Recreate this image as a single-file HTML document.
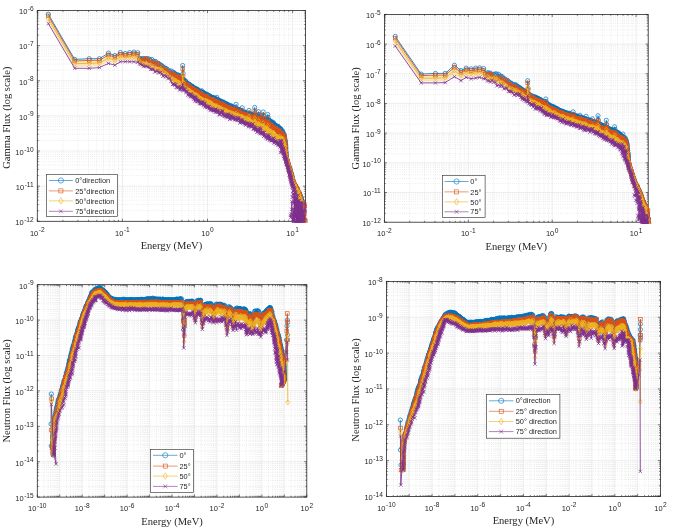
<!DOCTYPE html>
<html><head><meta charset="utf-8"><title>Flux spectra</title>
<style>html,body{margin:0;padding:0;background:#fff;width:685px;height:528px;overflow:hidden}svg{display:block;filter:blur(0.55px)}</style>
</head><body>
<svg width="685" height="528" viewBox="0 0 685 528">
<rect width="685" height="528" fill="#fff"/>
<defs><marker id="m0" markerUnits="userSpaceOnUse" markerWidth="6" markerHeight="6" refX="3" refY="3" overflow="visible"><circle cx="3" cy="3" r="2.1" fill="none" stroke="#0072BD" stroke-width="0.7"/></marker><marker id="m1" markerUnits="userSpaceOnUse" markerWidth="6" markerHeight="6" refX="3" refY="3" overflow="visible"><rect x="1.2" y="1.2" width="3.6" height="3.6" fill="none" stroke="#D95319" stroke-width="0.7"/></marker><marker id="m2" markerUnits="userSpaceOnUse" markerWidth="6" markerHeight="6" refX="3" refY="3" overflow="visible"><path d="M3 0.6L4.9 3L3 5.4L1.1 3Z" fill="none" stroke="#EDB120" stroke-width="0.7"/></marker><marker id="m3" markerUnits="userSpaceOnUse" markerWidth="6" markerHeight="6" refX="3" refY="3" overflow="visible"><path d="M1.3 1.3L4.7 4.7M1.3 4.7L4.7 1.3" stroke="#7E2F8E" stroke-width="0.7"/></marker></defs>
<g>
<path d="M62.92 10.5V221.3M77.9 10.5V221.3M88.54 10.5V221.3M96.78 10.5V221.3M103.52 10.5V221.3M109.22 10.5V221.3M114.15 10.5V221.3M118.51 10.5V221.3M148.02 10.5V221.3M163 10.5V221.3M173.64 10.5V221.3M181.88 10.5V221.3M188.62 10.5V221.3M194.32 10.5V221.3M199.25 10.5V221.3M203.61 10.5V221.3M233.12 10.5V221.3M248.1 10.5V221.3M258.74 10.5V221.3M266.98 10.5V221.3M273.72 10.5V221.3M279.42 10.5V221.3M284.35 10.5V221.3M288.71 10.5V221.3M37.3 210.72H305.6M37.3 204.54H305.6M37.3 200.15H305.6M37.3 196.74H305.6M37.3 193.96H305.6M37.3 191.61H305.6M37.3 189.57H305.6M37.3 187.77H305.6M37.3 175.59H305.6M37.3 169.4H305.6M37.3 165.01H305.6M37.3 161.61H305.6M37.3 158.83H305.6M37.3 156.48H305.6M37.3 154.44H305.6M37.3 152.64H305.6M37.3 140.46H305.6M37.3 134.27H305.6M37.3 129.88H305.6M37.3 126.48H305.6M37.3 123.69H305.6M37.3 121.34H305.6M37.3 119.3H305.6M37.3 117.51H305.6M37.3 105.32H305.6M37.3 99.14H305.6M37.3 94.75H305.6M37.3 91.34H305.6M37.3 88.56H305.6M37.3 86.21H305.6M37.3 84.17H305.6M37.3 82.37H305.6M37.3 70.19H305.6M37.3 64H305.6M37.3 59.61H305.6M37.3 56.21H305.6M37.3 53.43H305.6M37.3 51.08H305.6M37.3 49.04H305.6M37.3 47.24H305.6M37.3 35.06H305.6M37.3 28.87H305.6M37.3 24.48H305.6M37.3 21.08H305.6M37.3 18.29H305.6M37.3 15.94H305.6M37.3 13.9H305.6M37.3 12.11H305.6" stroke="#c4c4c4" stroke-width="0.5" stroke-dasharray="0.6 1.6" fill="none"/>
<path d="M122.4 10.5V221.3M207.5 10.5V221.3M292.6 10.5V221.3M37.3 186.17H305.6M37.3 151.03H305.6M37.3 115.9H305.6M37.3 80.77H305.6M37.3 45.63H305.6" stroke="#e2e2e2" stroke-width="0.6" fill="none"/>
<clipPath id="c0"><rect x="37.3" y="9.5" width="271.3" height="213.3"/></clipPath>
<path d="M37.3 221.3v-2.6M37.3 10.5v2.6M62.92 221.3v-1.4M62.92 10.5v1.4M77.9 221.3v-1.4M77.9 10.5v1.4M88.54 221.3v-1.4M88.54 10.5v1.4M96.78 221.3v-1.4M96.78 10.5v1.4M103.52 221.3v-1.4M103.52 10.5v1.4M109.22 221.3v-1.4M109.22 10.5v1.4M114.15 221.3v-1.4M114.15 10.5v1.4M118.51 221.3v-1.4M118.51 10.5v1.4M122.4 221.3v-2.6M122.4 10.5v2.6M148.02 221.3v-1.4M148.02 10.5v1.4M163 221.3v-1.4M163 10.5v1.4M173.64 221.3v-1.4M173.64 10.5v1.4M181.88 221.3v-1.4M181.88 10.5v1.4M188.62 221.3v-1.4M188.62 10.5v1.4M194.32 221.3v-1.4M194.32 10.5v1.4M199.25 221.3v-1.4M199.25 10.5v1.4M203.61 221.3v-1.4M203.61 10.5v1.4M207.5 221.3v-2.6M207.5 10.5v2.6M233.12 221.3v-1.4M233.12 10.5v1.4M248.1 221.3v-1.4M248.1 10.5v1.4M258.74 221.3v-1.4M258.74 10.5v1.4M266.98 221.3v-1.4M266.98 10.5v1.4M273.72 221.3v-1.4M273.72 10.5v1.4M279.42 221.3v-1.4M279.42 10.5v1.4M284.35 221.3v-1.4M284.35 10.5v1.4M288.71 221.3v-1.4M288.71 10.5v1.4M292.6 221.3v-2.6M292.6 10.5v2.6M37.3 221.3h2.6M305.6 221.3h-2.6M37.3 210.72h1.4M305.6 210.72h-1.4M37.3 204.54h1.4M305.6 204.54h-1.4M37.3 200.15h1.4M305.6 200.15h-1.4M37.3 196.74h1.4M305.6 196.74h-1.4M37.3 193.96h1.4M305.6 193.96h-1.4M37.3 191.61h1.4M305.6 191.61h-1.4M37.3 189.57h1.4M305.6 189.57h-1.4M37.3 187.77h1.4M305.6 187.77h-1.4M37.3 186.17h2.6M305.6 186.17h-2.6M37.3 175.59h1.4M305.6 175.59h-1.4M37.3 169.4h1.4M305.6 169.4h-1.4M37.3 165.01h1.4M305.6 165.01h-1.4M37.3 161.61h1.4M305.6 161.61h-1.4M37.3 158.83h1.4M305.6 158.83h-1.4M37.3 156.48h1.4M305.6 156.48h-1.4M37.3 154.44h1.4M305.6 154.44h-1.4M37.3 152.64h1.4M305.6 152.64h-1.4M37.3 151.03h2.6M305.6 151.03h-2.6M37.3 140.46h1.4M305.6 140.46h-1.4M37.3 134.27h1.4M305.6 134.27h-1.4M37.3 129.88h1.4M305.6 129.88h-1.4M37.3 126.48h1.4M305.6 126.48h-1.4M37.3 123.69h1.4M305.6 123.69h-1.4M37.3 121.34h1.4M305.6 121.34h-1.4M37.3 119.3h1.4M305.6 119.3h-1.4M37.3 117.51h1.4M305.6 117.51h-1.4M37.3 115.9h2.6M305.6 115.9h-2.6M37.3 105.32h1.4M305.6 105.32h-1.4M37.3 99.14h1.4M305.6 99.14h-1.4M37.3 94.75h1.4M305.6 94.75h-1.4M37.3 91.34h1.4M305.6 91.34h-1.4M37.3 88.56h1.4M305.6 88.56h-1.4M37.3 86.21h1.4M305.6 86.21h-1.4M37.3 84.17h1.4M305.6 84.17h-1.4M37.3 82.37h1.4M305.6 82.37h-1.4M37.3 80.77h2.6M305.6 80.77h-2.6M37.3 70.19h1.4M305.6 70.19h-1.4M37.3 64h1.4M305.6 64h-1.4M37.3 59.61h1.4M305.6 59.61h-1.4M37.3 56.21h1.4M305.6 56.21h-1.4M37.3 53.43h1.4M305.6 53.43h-1.4M37.3 51.08h1.4M305.6 51.08h-1.4M37.3 49.04h1.4M305.6 49.04h-1.4M37.3 47.24h1.4M305.6 47.24h-1.4M37.3 45.63h2.6M305.6 45.63h-2.6M37.3 35.06h1.4M305.6 35.06h-1.4M37.3 28.87h1.4M305.6 28.87h-1.4M37.3 24.48h1.4M305.6 24.48h-1.4M37.3 21.08h1.4M305.6 21.08h-1.4M37.3 18.29h1.4M305.6 18.29h-1.4M37.3 15.94h1.4M305.6 15.94h-1.4M37.3 13.9h1.4M305.6 13.9h-1.4M37.3 12.11h1.4M305.6 12.11h-1.4M37.3 10.5h2.6M305.6 10.5h-2.6" stroke="#262626" stroke-width="0.6" fill="none"/>
<rect x="37.3" y="10.5" width="268.3" height="210.8" fill="none" stroke="#262626" stroke-width="0.8"/>
<g clip-path="url(#c0)">
<polygon points="48.3,15.9 74.7,61 89.2,60.4 99.4,60.3 108.4,55 114.9,57.2 120.4,54.2 125.3,55 129.6,54.3 133.9,53.8 137.8,54.4 137.8,60.4 133.9,59.8 129.6,59.9 125.3,60.1 120.4,59.9 114.9,63.3 108.4,61.3 99.4,65.8 89.2,66.4 74.7,66.5 48.3,21.6" fill="#f5dca8" fill-opacity="0.75" stroke="#f5dca8" stroke-width="0.8" stroke-opacity="0.75"/>
<polyline points="48.3,14.2 74.7,59.4 89.2,58.7 99.4,58.7 108.4,53.1 114.9,55.5 120.4,52.5 125.3,53.5 129.6,52.7 133.9,52.1 137.8,52.7 139.6,58.5 140.6,58.9 142.2,58.6 143.4,58.7 144.5,59 146,58.7 147.6,58.6 149.3,59.2 150.5,60.5 151.9,59.5 153.5,61.2 154.9,61.7 156.1,61.8 157.8,63.5 158.6,63.8 159.8,64.2 160.8,65.8 161.8,65.6 163,66.7 164.7,68 165.5,68.4 166.7,68.8 168.1,70.1 169.6,71.5 171,70.9 172.5,71.9 173.2,73.3 173.9,72.5 174.5,73.9 175,73.8 175.8,75 176.2,74.4 177,75.9 177.7,75 178.5,75.2 179.2,76 179.6,76.2 180.1,76 180.9,77.7 181.5,78.4 181.8,78.1 182.5,78.5 182.7,65.5 183.1,73.3 182.9,79.1 183.6,80.3 184.2,80 184.8,81.1 185.5,81 185.9,81.8 186.4,82.7 187.5,83.5 187.8,83.7 188.5,84 189.2,84.3 189.7,84.8 190.1,85.4 190.7,86 190.9,85.7 191.2,86.2 191.7,86.6 191.9,86.9 192.4,86.3 192.9,87.3 193.4,87.3 193.5,87.4 194.2,88 194.5,88.1 194.9,88.7 195,88.9 195.5,89.1 195.7,88.8 195.9,89 196.4,89.7 196.6,89.2 197.3,89.6 197.5,89.3 197.7,90.2 198,90.5 198.4,90.9 199,90.7 199.3,91.4 199.8,91.9 200,91.7 200.4,91.6 200.7,92.1 201,92.3 201.6,92.2 201.6,92.2 201.7,90.7 202.1,92.7 202.8,92.1 203.1,92.6 203.5,93 204,93.7 204.1,93.4 204.6,93.4 205,93.8 205.2,94.2 205.4,94.6 206,94.6 206.4,94.4 206.9,94.2 207.4,95.9 207.5,95.2 208.3,95.4 208.6,95.3 208.9,96.4 209.4,96.8 209.7,96.4 210.2,97 210.4,96.2 210.8,97.4 211.3,98.1 211.6,97.3 212.1,97.8 212.6,97.5 212.9,98.2 213.3,97.5 213.6,98.3 213.9,98 214.2,99.1 214.6,99.2 215.2,99.1 215.5,98.6 215.9,99.3 216.2,99 216.6,99.4 216.8,97.4 217,99.9 217.2,100.1 217.9,99.5 218.1,100.9 218.6,101.3 219.1,100.5 219.5,100.9 220.1,101 220.6,101.4 220.9,102.1 221.2,101.2 221.5,102 221.9,102.1 222.3,102.6 222.7,102.7 223.1,102.4 223.6,102 224,103.7 224.5,103.1 224.8,103.5 225.3,103.7 225.7,103.7 226.1,104 226.5,104 227,104.3 227.6,104.5 227.9,104.8 228.1,105.2 228.7,105 228.8,106.1 229.2,106.5 229.8,106.1 230.2,106.5 230.4,107 231,105.7 231.3,106.1 231.9,106.8 232.3,106.8 232.7,107.2 233,107.8 233.5,107.3 234,107.9 234.7,108.4 235,108.1 235.3,108.6 236,108.3 236.1,104.3 236.4,108.9 236.7,108.8 237.1,109 237.5,109.5 238.1,109.4 238.6,109.8 238.8,109.4 239.2,109.8 239.7,110.2 240.2,111 240.5,110.4 240.8,111.2 241.2,111.6 241.5,110.9 241.8,111.3 242.3,111.8 242.2,107.8 242.7,111.9 243.1,111.9 243.5,112.2 243.8,111.8 244.1,112.4 244.8,112.6 244.9,112.4 245.5,112.3 246,113.1 246.3,112.8 246.8,113.3 247.2,113.8 247.7,113.9 248.2,114.3 248.6,113.9 248.9,114.9 249,110.4 249.4,113.1 249.1,114.3 249.6,114.1 249.9,114.6 250.2,114.5 250.5,114.7 251.1,114 251.2,114.6 251.7,114.2 252.1,115 252.5,114.7 252.9,115.5 253.3,116.1 253.8,115.2 254.2,116.3 254.7,116.5 254.7,107.5 255.1,112.9 255.1,116.5 255.4,115.4 255.7,115.9 255.9,116.4 256.3,116.9 256.6,115.9 257.2,117.2 257.5,116.8 257.8,116.1 258.2,117.6 258.6,116.7 258.6,111.7 259,114.7 259,116.8 259.4,117.4 259.9,117.3 260.2,117.1 260.5,118 261,118.4 261.6,117.5 261.8,118.5 262.1,118.7 262.5,118.2 262.9,119.2 263.4,119 263.2,112 263.6,116.2 263.6,118.5 264,119.1 264.2,119.5 264.8,120 265.2,119.6 265.7,119.7 266,119.1 266.4,119.7 266.7,119.8 267.2,120 267.5,120.8 267.9,119.5 267.7,114.5 268.1,117.5 268.1,120.4 268.6,120.2 269.3,120.5 269.5,120.8 269.9,121.6 270.1,122 270.5,121.2 270.9,122.7 271.2,121.4 271.6,122.6 272.2,122.6 272.7,124.4 273.1,124.3 273.3,123.5 273.4,122.5 273.8,124.1 273.9,124.2 274.3,125.8 274.9,125.1 275,125.4 275.3,125 275.7,126.3 276.4,125.8 276.6,126.4 277.1,127.1 277.7,126.8 278,126.3 278.4,127.6 278.6,127.9 278.5,126.9 279.1,128.5 279.3,128.9 279.7,128.5 280.1,129.1 280.6,128.5 280.8,129.4 281.2,130 281.7,131.1 282.4,130.9 282.7,131.9 283.2,132.8 283.5,133.7 283.6,135 284.3,134.9 284.3,136.3 284.3,136.5 284.2,137.9 284.2,136.9 284.4,138.2 284.3,138.4 284.8,138.3 284.5,140.1 284.7,140.1 284.8,140.7 285.4,140.5 285,141.9 285.3,142.4 285,143.4 285.1,143.9 285.5,144.2 285.5,144.6 285.7,145.2 285.5,146.3 285.8,146.9 285.3,148.4 285.5,149.2 286,148.7 285.6,150.3 285.5,151 285.7,151.2 285.9,151.5 285.8,152.2 286,153 286,153.2 285.6,153.9 286,154.6 285.8,155.2 286.1,155.3 286,156 286.3,156.6 286.2,157.2 286.3,157.9 286.6,158 286.3,158.5 286.5,158.8 286.9,159.4 287,159.9 286.9,160.6 287.2,160.9 287.1,161.3 287.4,161.3 287.5,162 287.5,162.1 287.6,162.9 287.7,163.3 288,163.5 287.9,164.2 287.9,164.8 288.1,165.2 288.3,165.4 288.3,165.7 289,166.2 288.8,166.4 288.9,167.3 289.1,167.3 289.3,168.1 289,168.2 289.3,168.8 289.5,169.2 289.9,169.7 290.3,170.5 289.7,170.3 290.2,171 290,171.8 290.5,171.8 290.9,172.2 290.7,172.8 290.9,173.4 290.7,173.8 290.8,174.2 291.5,174.4 291.4,174.8 291.8,175.3 291.7,176.2 291.5,176.3 291.6,176.6 292.3,177.4 292.3,177.7 292,178.1 292.2,178.5 292.3,178.8 292.7,179.2 292.4,179.4 292.4,180 293,180.8 293.3,180.8 293,181.9 293.1,182.2 293.7,182.7 293.3,182.9 293.7,183.2 293.8,183.9 294.2,184 294.7,184.4 294.3,184.7 294.6,185.2 295.1,185.6 295.3,185.8 295.3,186.1 295.8,187 296.5,187.4 296.2,187.7 296.7,188.6 297,188.8 297.4,189.5 296.7,190.1 297.4,190.2 297.2,190.9 297.9,191.1 297.8,191.9 298,192.1 298.5,192.8 299.1,193.1 299.5,193.7 299.7,193.8 299.7,194.5 299.6,194.7 300.1,195.3 299.5,195.7 300.3,196.5 300.1,196.9 300.9,197 300.5,197.8 301.3,197.7 301.4,198.4 300.2,199.1 301.4,199.5 300.6,200 301.6,200.5 302,200.9 301.6,201.5 300.8,201.8 302,202 301.8,202.9 301.8,203.4 301.7,203.3 302.4,203.8 302.6,204.5 302.3,204.9 302.3,205.1 303.5,205.6 303.4,206.5 303.3,206.7 303.6,207.2 303.1,207.8 303.7,208.1 303.6,208.3 303.3,208.9 303.2,209.1 303,209.6 303.2,210 303.6,210.6 303.9,211 303.5,211.4 303.8,212 303.8,212.3 303.7,213 303,213.4 302.3,213.7 303.2,213.8 303.5,214.4 304,214.8 303.2,215.2 303.4,215.4 303.3,216.1 303.3,216.7 302.9,216.9 303.3,217.7 303.1,218.1 303,218.2 302.9,218.7 302.6,219.1 304.3,219.3 303.6,219.9 303.2,220.3 303.9,220.8 303.5,220.8 303.8,221.4 303.8,221.8 303.5,222.7 302.8,223.3 303.2,223.4 302.9,223.8 303.9,224.5 303.7,225.1 302.7,225.7" fill="none" stroke="#0072BD" stroke-width="0.85" stroke-linejoin="round" marker-start="url(#m0)" marker-mid="url(#m0)" marker-end="url(#m0)"/>
<polyline points="48.3,15.9 74.7,61 89.2,60.4 99.4,60.3 108.4,55 114.9,57.2 120.4,54.2 125.3,55 129.6,54.3 133.9,53.8 137.8,54.4 139.4,60.6 140.7,60 142.4,60 143.3,61.3 144.3,59.5 146.1,58.5 147.7,61.2 149.4,60.6 150.4,62.5 152,62.1 153.5,63.3 154.8,64.2 156,64.2 157.6,63.4 158.7,65 159.7,68.2 160.7,68.6 161.8,67.1 163,70.2 164.5,69.1 165.6,70.2 166.7,71.3 168.2,73.5 169.8,72.6 171.1,74.5 172.5,73.8 173.2,76.4 173.9,74.5 174.7,75.5 175.2,76.2 176,78.2 176.5,76.9 176.8,76.1 177.6,77.3 178.3,77.2 179.2,79.6 179.7,79 180.3,79.5 180.7,80.6 181.4,79.6 181.7,79.7 182.5,81.7 182.7,68.7 183.1,76.5 183,82.2 183.6,82.4 184.2,82.9 184.6,83.6 185.4,84.6 186,84.7 186.7,85.6 187.4,86.2 187.9,85.5 188.5,86.7 189,86.5 189.7,86.7 190.3,88.1 190.7,88.1 190.9,88.5 191.3,88.6 191.8,88.4 191.9,89 192.4,89.3 193,88.8 193.3,89.8 193.7,90.6 194,90.7 194.5,90.3 194.7,91.6 195,90.7 195.4,91.2 195.6,91 195.9,91.7 196.3,90.8 196.7,92.2 197.3,93 197.6,92.1 197.7,92.7 197.9,92.9 198.5,92.7 198.9,93.4 199.3,93.4 199.8,95 200,94.3 200.2,94.4 200.6,93.8 200.9,93.6 201.6,94.5 201.7,94.5 201.9,95.7 202,94.8 202.8,95.8 203,95.7 203.4,96.4 203.7,96.8 204.1,96 204.4,97.3 205,96.2 205.2,96.1 205.4,96.7 206,96.1 206.4,98 206.8,96.6 207.2,97.3 207.6,98.7 208.1,98.2 208.7,98.8 209.1,98.9 209.3,99.1 209.7,99.1 210.1,99.8 210.5,100.4 211,99.4 211.4,99.4 211.6,99.7 212.2,100.8 212.6,100.4 213,99.8 213.3,100.7 213.7,101.1 214,100.9 214.3,101.8 214.8,101.2 215.1,101 215.6,101.6 215.8,102.6 216.2,102.7 216.4,102.1 216.9,102.3 216.8,101.3 217.5,102.1 217.8,103.2 218.1,103.3 218.7,103.2 219.2,103.7 219.5,103.5 220.1,103.9 220.4,104.1 220.8,104.2 221.3,104.7 221.5,104.8 222,104.8 222.3,103.7 222.7,105.9 223.3,105 223.5,105.9 224.1,105.8 224.4,106.3 224.8,105.9 225.2,106.8 225.5,106.9 225.9,106.7 226.7,107.9 227,107.4 227.5,108.4 227.8,107.7 228.1,108 228.6,107.5 228.9,108.8 229.4,108 229.7,109.2 230,108.5 230.6,109 231.1,109.4 231.4,108.9 231.7,109.5 232.4,109.5 232.5,110.2 233,109.6 233.5,110 234.1,110.8 234.7,110.9 234.8,111.6 235.5,111.3 235.9,112.3 236.2,111.4 236.1,108.4 236.7,111.6 237.1,112 237.6,111.6 238.1,112 238.7,111.9 238.9,112.8 239.4,112.9 239.7,113.3 240.1,113.5 240.4,113.2 240.8,114.3 241,113.4 241.4,114 241.7,113.8 242.2,113.9 242.2,110.9 242.7,114.2 243.2,114.4 243.6,115.4 243.8,114.1 244.2,114.6 244.6,115.2 245,115.3 245.5,114.7 246.1,115.6 246.3,115.8 246.9,115.6 247.2,116.8 247.9,116.4 248.2,115.7 248.3,117.2 248.7,117 249.3,117.2 249,113.2 249.6,116.8 249.8,117.4 250.3,117 250.6,117.4 251.2,116.9 251.3,116.9 251.8,117.9 252.1,117.5 252.5,117.7 252.9,118.1 253.4,118.5 253.7,118.9 254.3,117.6 254.8,119.2 254.7,111.2 255.1,116 255,120.2 255.4,118.3 255.7,119.9 255.9,119.2 256.4,119.5 256.9,119.4 257.1,120.1 257.5,119.4 257.8,120.5 258.3,120.4 258.6,120.5 258.6,115.5 259,118.5 259,119.9 259.3,121.1 259.9,121.4 260.1,121.6 260.7,120.9 261.1,121.8 261.6,121.4 261.7,121.7 262.1,122.4 262.5,121.9 263.1,121.6 263.2,121.2 263.2,115.2 263.6,118.8 263.7,121.8 264,123 264.4,121.7 264.7,122.4 265.2,122.8 265.7,123.4 266,122.1 266.5,123.9 266.8,123.7 267.1,124.2 267.4,124.1 267.9,124.3 267.7,119.3 268.1,122.3 268.4,124.8 268.8,124.6 269.2,124.9 269.5,127 269.9,124.9 270.3,125.7 270.4,124.8 271,126.2 271.4,125.2 271.8,128.4 272.3,126.9 272.6,127.3 273.1,128.7 273.4,127.7 273.4,127.7 273.6,127.1 274.1,129.3 274.5,128.1 274.6,128.2 275.2,128.8 275.3,129 275.9,128.5 276.3,129.3 276.6,129.8 277.3,129.8 277.6,131.3 277.8,130.9 278.2,132.2 278.7,131.5 278.5,131.5 279.1,131.2 279.3,130.6 279.7,132.4 280.2,133.3 280.4,133.8 280.5,133.6 280.9,133.3 281.4,134 281.9,134 282.1,134.9 282.4,135.3 283,135.9 283.4,135.7 284.2,135.7 283.5,138.4 283.8,138.1 283.8,138.7 284.2,138.8 284.2,138.8 284.5,138.6 284.5,138.9 283.4,142.4 284.4,141 284.7,141.4 284.7,141.5 284.8,142 284.6,144.1 284.7,144.1 284.2,145.5 285.1,144.9 285.5,145.1 285,146.5 285.2,147.5 284.8,148.1 284.8,148.6 285.1,149.6 285.5,149.8 285.5,150.5 285.7,150.4 285.2,151.3 285.4,152.2 285.6,152.6 285.6,152.7 285.9,153.4 285.8,154 285.9,154.7 286.1,155.2 285.6,155.7 286.3,156.3 285.7,156.9 286.1,157.5 286.2,157.7 286.3,158.3 285.9,158.8 286.4,158.8 286.8,159.3 286.6,160.2 286.5,160.6 286.8,160.7 287.2,161.1 287.3,161.3 287.5,162.2 287.4,162.4 287.7,162.8 287.6,163.4 287.5,163.7 288.1,163.9 288.3,164.5 288.3,165 288.4,165.7 288.3,165.8 288.5,166.3 288.7,166.4 288.7,166.8 289,167.6 289.1,167.7 289.1,168.6 289.6,168.6 290,169 289.5,169.4 289.5,170.5 290.2,170.4 289.9,170.9 289.8,171.7 290.2,171.7 290.2,172.6 290.4,173 290.4,173.4 290.9,173.7 290.5,174.3 291.1,174.4 291.1,175 290.9,175.3 291,175.8 291.3,176.1 291.3,177 291.6,177.1 291.9,177.3 292.1,178.1 292.3,178.6 292.1,178.9 292.8,178.9 292.5,179.3 292.6,179.9 292.8,180.4 292.9,181 292.8,181.4 293.3,182.1 293.2,182.4 293.7,182.8 293.6,183.1 294.1,183.8 293.8,184.3 293.9,184.1 293.9,184.9 294.7,185.6 294.9,185.9 295.5,186.3 295.2,186.4 295.6,186.9 295.5,187.4 296.7,188.1 296.5,188.5 297.1,189.1 297.2,189.4 296.7,190 297.3,190.1 297.3,190.5 297.5,191.3 297.7,191.9 298.4,192 298.5,192.7 298.2,193.3 299,193.3 299.5,193.9 299.2,194.3 299.4,195 299.4,195.6 299.2,195.6 299.8,196.1 298.8,196.7 299.6,196.8 300.5,197.4 300.5,197.7 300.1,198.5 300.1,198.9 300.7,199.6 300.8,200 300.5,200.7 300.5,200.7 299.6,201 300.7,201.8 302.4,202.5 301.7,202.4 301,203.1 301.5,203.2 302.5,204.2 300.6,204.1 302.3,204.9 302.4,205.6 302.4,205.7 303,206.3 302.7,206.5 303.6,207.3 303.7,207.6 301.5,208 302.8,208.6 303.2,209 303.1,209.2 303.5,209.5 301.8,210.5 303.3,210.4 303.7,211 302,211.5 302.3,212 303,212.6 302.7,212.7 302.4,213 302.9,213.7 303.5,214 302.8,214.5 302.1,214.7 302.8,215.5 302.4,215.9 303.4,216 304,216.5 303.9,217.4 302.6,217.7 302.6,217.8 303.4,218.5 303.2,219 302.7,219 303.2,219.8 302.8,219.7 304.3,220.2 303.1,220.7 303.1,220.9 303.1,221.3 302.6,222.3 302.9,222.9 303,223.3 302.7,223.3 302.4,223.9 302.6,224.4 303.6,225.2 303,225.8 296,209.7 296.5,215.2 296.9,251.3 297.3,207.1 297.9,203.8 298.2,219.9 298.5,215 298.9,213.5 299.6,251.3 300,251.3 300.3,213.3 300.7,215.1 301.3,208.8 301.9,211.4 302.2,212.3 302.6,203.4 302.9,213.7 303.4,212.7 303.9,216.3 304.3,211.6 304.8,206 305.4,221" fill="none" stroke="#D95319" stroke-width="0.85" stroke-linejoin="round" marker-start="url(#m1)" marker-mid="url(#m1)" marker-end="url(#m1)"/>
<polyline points="48.3,18.7 74.7,63.7 89.2,63.3 99.4,63 108.4,58 114.9,60.2 120.4,56.9 125.3,57.4 129.6,57 133.9,56.7 137.8,57.3 139.5,60.9 140.6,63 142.3,63.6 143.4,63.2 144.3,65.5 146.1,63.7 147.7,65.1 149.3,65.6 150.4,65.1 151.9,67.9 153.5,68.5 154.8,68.1 155.9,69 157.6,69.9 158.6,69.1 159.7,69.6 160.6,68.8 161.9,70.4 162.9,71.3 164.5,74.9 165.5,73.1 166.7,74.2 168,75.8 169.7,78 171.2,78.4 172.5,78.3 173.4,81.5 173.8,80 174.6,80.5 175,80.3 175.8,82.1 176.4,81.1 177,82.2 177.6,82.3 178.3,82.4 179,82.6 179.7,83.1 180.4,84.7 180.9,84.8 181.2,84.7 181.8,86.8 182.6,87.1 182.7,75.1 183.1,82.3 183,86.5 183.6,85.3 184.1,88.6 184.6,87.5 185.6,89 186,89.5 186.5,89.2 187.5,89.2 188.1,91 188.5,90.4 189,90.6 189.7,90.5 190.3,92.4 190.6,91.7 190.9,92.4 191.3,93.3 191.7,92.5 192,93.5 192.4,92.8 192.8,93.1 193.3,93.7 193.6,95.1 194.1,95.6 194.4,94.9 194.9,95.3 195,95.2 195.4,94.9 195.6,95.4 195.9,94.6 196.5,96.3 196.8,96.7 197.3,97.9 197.6,96.9 197.9,95.8 198.1,97.5 198.4,98.6 198.9,97.7 199.3,98.1 199.8,98.8 200.1,99.3 200.4,99.6 200.7,98.6 201.1,98.8 201.4,99.4 201.7,99.3 201.7,99.3 202.1,100.4 202.8,100.8 202.9,99.9 203.4,100.7 203.8,101.6 204.1,101.6 204.6,101.9 205,101.1 205.3,100.2 205.4,101.6 206,101 206.5,101.2 207,101.8 207.2,101.3 207.6,102.7 208.2,101.8 208.5,103.2 209,102.5 209.2,105.6 209.8,102.5 210.1,102.4 210.6,102.9 210.8,104 211.5,103.4 211.9,103.8 212.1,104.9 212.5,104.9 212.9,105.2 213.3,105.6 213.7,106.1 214.1,106.2 214.2,105.9 214.7,106 215.1,106.9 215.4,105.9 215.8,106.5 216.2,107.5 216.6,107.3 216.9,106.8 216.8,105.8 217.3,108.3 217.9,108.3 218.3,108.1 218.7,108.1 219,107.5 219.5,107.9 220,109 220.5,109 220.9,108 221.1,109.3 221.3,109.4 221.9,109.3 222.3,109.3 222.8,110.3 223.2,110.8 223.6,110.9 224,109.6 224.5,111.2 224.9,110.5 225.3,111.2 225.7,111.2 226,111.4 226.5,111.1 226.9,110.8 227.5,113.2 227.9,112.5 228.2,112.5 228.6,113.8 228.8,112.5 229.3,113.7 229.9,112.2 230,114.2 230.5,113.8 231,112.8 231.3,114 231.8,114.4 232.4,113.3 232.6,114.7 233.1,113.5 233.5,115.1 234.2,114.7 234.5,115.4 235,114.1 235.3,115.6 236.1,115.5 236.1,113.5 236.3,115.6 236.7,115.8 237.3,116.6 237.8,115.6 238.1,115 238.5,115.9 238.9,116 239.3,117.7 239.5,116.8 240.1,117.1 240.5,116.4 240.8,116.9 241.1,117.2 241.5,117.1 242,116.9 242.3,118.6 242.2,116.6 242.7,118 243.3,118.5 243.6,117.9 244,118.9 244.2,118.3 244.6,120.2 245,119.4 245.6,119.4 246.1,118.1 246.2,120.1 246.9,120.2 247.4,118.8 247.7,120.3 248,120.3 248.4,120.8 248.8,121.2 249.1,119.6 249,116.6 249.5,121 250,120.8 250.4,122.1 250.5,121.4 251.1,121.2 251.5,121.8 251.9,123.1 252.1,122.2 252.5,123.7 253,122.4 253.1,123.6 253.7,124.5 254,124 254.6,124.2 254.7,118.2 255.1,121.8 255,123.2 255.2,124 255.6,122.9 256.1,124.8 256.3,124.7 256.7,125.1 257.1,124.5 257.5,126.4 257.9,125.9 258.2,125.2 258.7,125 258.6,121 259,125 259.4,126.5 260,125.1 260.3,125.1 260.6,125.8 261.2,126.8 261.4,128 261.9,128.1 262.3,126.6 262.4,128.7 262.8,129.7 263.4,128 263.2,123 263.6,126 263.7,127.6 264.1,128.3 264.5,129.3 264.8,127.8 265.1,129.6 265.6,128.6 266,128 266.3,129.9 266.8,130.5 267.1,129.8 267.5,131.6 267.8,129.6 267.7,125.6 268.2,132.9 268.7,133.7 269,132 269.5,133.3 269.8,130.8 270.3,132.8 270.6,131.9 270.9,131 271.4,132.5 271.6,133.1 272.1,133.8 272.7,133.8 273,134 273.3,132.6 273.4,132.6 273.7,135.5 273.9,136.5 274.4,136.9 274.8,135 275.2,135.4 275.3,136.8 275.8,136.8 276.1,136 276.6,136.7 277.1,137.1 277.5,137.6 278,138.6 278.1,137.1 278.8,137.6 278.5,137.6 278.9,140.7 279.5,138.9 279.8,136.5 279.9,138.7 280,139.8 280.4,139.3 280.5,139.1 280.6,140.3 281,138 281.3,139.9 281.8,138.9 282.3,138.4 282,140.1 282.4,140.1 283.3,139.1 281.9,143.2 282.8,141.5 283,141.4 283.3,141.3 282.6,143.2 283,143.2 283.6,143.4 283.6,143 283.3,144.6 284.1,143.3 283.4,146.4 284.1,145.3 284.2,146 284.2,146 284.1,146.6 284.6,146.2 285,146.4 284,148.9 284.4,148.4 284.4,149.4 284.6,150.4 284.6,150.4 285.2,150.6 285.1,151.5 285.2,151.4 284.6,153 285.1,153 284.8,153.9 285.1,154 285.3,154.2 285.7,154.3 285.6,155.2 285.8,155.8 285.5,156.5 285.7,156.7 286,157.2 286.6,157.6 286.1,158.2 286.1,158.6 286.2,159.2 286.2,159.9 286.2,160.2 286.9,160.5 287,161.1 286.6,161.3 287.2,161.8 286.8,162.2 287.4,162.1 287.4,163.1 287.7,163 287.4,163.5 287.9,164.1 288.2,164.7 288,165 288.2,165.6 288.4,165.5 288.2,166.4 288.9,166.3 288.5,167.2 288.4,167.2 288.4,168.2 289.2,168.6 289,169.2 289,169.6 289.3,170 289.4,170.4 289.7,170.3 290.2,170.9 290,171.4 289.9,172.1 290.5,172.7 289.8,173.1 290.6,173 290.5,173.8 290.5,174.3 291.4,174.8 290.9,175.1 290.7,175.5 291,176 290.8,176.5 291.6,176.8 291.5,177.1 291.7,177.5 292,177.6 291.9,178.5 291.8,178.6 292.1,178.9 292.1,179.8 291.5,180.1 292.5,180.6 292.7,181.1 293,181.7 292.6,182 293.2,182.3 293.3,182.7 293.5,183 292.9,183.8 294.1,183.9 294,184.4 294.3,184.6 294.7,185.1 294.3,185.5 294.1,186.2 295,186.4 294.3,186.6 295.5,187.2 295.7,188 296,188.5 295.1,188.7 295.9,189.4 296.7,190 296.3,190.2 296.3,190.9 297.8,191.1 298.5,191.8 297,192.2 297.7,192.8 297.8,193.1 297.4,193.7 298.4,194 298.8,194.4 299.1,194.6 298.1,195.3 298.3,195.6 298.3,196.1 299.7,197 299.3,197.1 298.2,197.6 300.2,197.9 300.4,198.4 298.9,198.8 299.1,199.4 299.9,200.1 299.3,200.8 300.7,200.7 301.6,201.3 300.7,201.9 301.7,202 300.1,202.4 301.2,203.1 300.7,203.6 300.5,203.7 301.6,204.2 300.8,204.8 301.8,205.5 300.7,205.5 301.1,206.1 301.2,206.5 301.5,207.1 300.6,207.5 301.7,207.9 301.6,208.2 302.4,208.5 303.2,209.4 300.8,209.7 302.7,209.9 299.4,210.8 300.2,210.7 302.1,211.4 301.4,211.9 302.1,212.5 300.7,212.9 300.3,213.2 301.2,213.7 302.1,213.9 301,214.4 301.2,215 301.6,215.3 302.3,215.6 301.5,216.5 302.1,217 301.9,216.8 302.5,217.2 301.1,217.9 302.9,218.2 301.5,219 302.3,218.9 301.3,219.3 303.1,219.6 303.4,220.3 302,220.4 301.5,221.2 302.4,221.6 303.5,222 302.8,222.5 302.6,223.2 301.8,223.3 301.2,224.1 301.8,224.3 301.7,225.1 301.4,225.8" fill="none" stroke="#EDB120" stroke-width="0.85" stroke-linejoin="round" marker-start="url(#m2)" marker-mid="url(#m2)" marker-end="url(#m2)"/>
<polyline points="48.3,23.5 74.7,68.3 89.2,68.3 99.4,67.6 108.4,63.4 114.9,65.2 120.4,61.7 125.3,61.7 129.6,61.7 133.9,61.7 137.8,62.3 139.6,63.8 140.5,64.3 142.4,64.9 143.3,66.2 144.4,66.1 146.2,66.3 147.8,66.8 149.4,67.3 150.5,69.4 151.9,69.3 153.4,69.1 154.7,71.9 156.1,71.5 157.6,70.8 158.7,72.7 159.7,72.9 160.6,72.4 161.8,74 162.9,76.2 164.5,75.6 165.6,76.5 166.7,76.8 168.1,78.6 169.8,77.9 171,81.3 172.6,84.4 173.4,84.1 174,84.1 174.5,84.1 175,85 175.9,84.6 176.3,87.1 176.9,87.5 177.8,86.8 178.4,87.7 179.1,86.7 179.8,89.6 180.3,89.7 180.6,87.8 181.3,86.8 181.8,88.5 182.6,89.8 182.7,83.8 183.1,87.4 183.1,88.8 183.5,90.9 184.2,89.3 184.7,88.7 185.4,89.7 185.9,92.5 186.7,90.9 187.5,91.8 187.8,95.1 188.6,93.8 189.1,95.5 189.7,94.2 190.4,96.2 190.7,96.5 191,94 191.4,94.5 191.6,96.7 192.1,95.3 192.4,95.9 192.9,96.5 193.4,97.5 193.7,97.1 194,99 194.3,97.5 194.9,101.4 195.1,96.8 195.2,98.5 195.5,97.5 195.8,98.1 196.3,99.4 196.7,98.9 197.1,101 197.4,100 197.6,101.5 198.1,101.3 198.3,101.1 198.9,101.8 199.2,100.1 199.7,102.6 200.2,103.6 200.3,103.1 200.6,103.4 201.1,102.1 201.5,104.2 201.7,102.8 201.7,102.8 202,103.3 202.7,101.5 203.1,102.3 203.4,105.1 203.8,105.7 204.3,103.5 204.6,104.1 204.8,103.1 205.2,107 205.4,105.5 206.1,105.5 206.6,106.1 206.9,107.3 207.3,107.1 207.6,107 208.1,106.9 208.7,106.8 208.8,108.8 209.4,106.7 209.8,108.3 210.3,108.1 210.4,109.7 211.1,109.8 211.3,109.5 211.7,108.2 212.1,110 212.6,109.2 212.9,110 213.4,110.4 213.8,110.2 214.1,110.7 214.2,110.5 214.9,111.8 215.1,109.5 215.5,109.4 215.8,112.3 216,109.2 216.6,110.4 216.8,111.5 216.8,111.5 217.4,110.5 217.7,111.1 218.2,112.3 218.5,111.1 219.1,114.6 219.6,114.7 220,114.2 220.3,112.1 220.9,113.3 221,112.5 221.6,112.3 221.9,110.7 222.4,114.4 222.8,111 223.2,115.3 223.6,114 224,114.9 224.5,116 224.8,115.7 225.2,116.2 225.6,114.8 226.1,116.6 226.7,116.9 226.8,114.4 227.3,117.5 227.6,115 228.2,115.2 228.5,114 229,116.8 229.5,117.2 229.8,119 229.9,119.3 230.4,115.1 230.9,117.7 231.5,115.6 231.8,117.1 232.1,118.4 232.7,118.6 233.3,116.6 233.5,117.9 234.2,117.5 234.7,119.5 234.9,117.8 235.3,119.5 235.8,119 236.2,118.9 236.1,118.9 236.6,120 237.4,120.4 237.7,117.7 238.1,118.7 238.6,119.3 238.9,117.6 239.2,120.2 239.7,120.6 239.9,123 240.6,121.2 240.7,120.1 241.2,120 241.4,122.4 241.9,121.3 242.2,122.3 242.2,122.3 242.7,119.6 243.2,122.8 243.5,122.4 244,122 244.3,123.6 244.6,122 245.2,123.8 245.6,125.2 246,122.7 246.3,123.5 246.7,124 247.4,123.1 247.9,123.4 248.3,123.4 248.4,126.7 248.9,125 249,125 249.1,124.2 249.7,125.2 250.1,126.4 250.1,123.9 250.6,125.4 251,125.3 251.3,127 251.7,126.7 252.1,125.5 252.6,123.8 252.9,124.3 253.3,128.7 253.7,128.7 254.1,129.1 254.8,128.1 254.7,126.1 255,127.8 255.5,129.3 255.8,129.6 255.8,130.3 256.2,128.2 256.9,132.1 257,129.5 257.7,129.5 257.9,130.4 258.3,132.1 258.7,130.2 258.6,130.2 259,131.2 259.3,127.8 259.8,132.7 260.2,133.6 260.6,133.5 261,128.2 261.6,132.1 261.9,133.7 262,132.9 262.6,132.3 263.1,133.6 263.2,132.6 263.4,134.2 263.7,136.3 264.1,132.6 264.4,132.8 264.8,135.5 265.1,135.3 265.4,136.2 266,137.7 266.5,136.5 266.7,137.7 267.3,135.1 267.5,139.2 267.8,138.4 267.7,138.4 268.3,135 268.8,137.5 269.2,135.3 269.5,140 269.8,136.9 270.1,139.5 270.5,138.1 271.1,140.4 271.4,140.7 271.7,140.7 272.2,139.7 272.6,140.4 272.9,138.4 273.4,138.3 273.4,138.3 273.7,141.9 274.1,143 274.5,139.5 274.9,140.9 275.2,142 275.4,142.2 276,141 276.2,143.6 276.7,143.7 277.3,143.2 277.5,141.1 277.9,142.5 278.1,144.4 278.6,144.8 278.5,144.8 279,144.4 279.3,144 279.8,143.1 279.9,144.6 280.2,140.9 280,147 279.9,144.9 280,144.9 280.7,140.8 280.6,142.5 280.9,141.8 281.2,142 281.9,140.4 280.7,145.2 280.8,146.1 280.8,146.1 281,146.2 282,144.2 281.5,146 282.3,144.3 281.2,147.6 282.1,146.7 281.7,148.3 282.2,147 281.9,148.1 281.7,149.6 280.3,152.5 283,148.2 282.8,149 283.3,148.6 283.9,148.3 283.6,149.8 282.3,151.9 283.4,150.8 282.4,153 283.5,151.5 283.6,152.8 284.1,152.6 284.3,152.3 283.8,153.7 284.4,153.7 283.9,154.6 284.4,154.4 284.7,154.4 284.2,155.8 284.2,155.8 284.8,155.5 284.3,156.3 285.2,156.4 285.2,157 286.1,157.3 284.9,158 284.2,158.5 286,158.5 285.3,159.3 285.8,159.3 286.4,160 285.8,160.3 286.4,161.1 286.4,161 286.9,161.6 286.1,162.1 286,162.3 287.3,162.5 286.8,163.4 286.3,164 287.1,164.2 287.1,164.3 287,165.2 287.4,165.4 288.6,165.8 287.5,166.5 287.9,166.8 288,167.2 288.1,167.3 288.5,167.8 288.4,168.2 288.3,169.1 288.6,169.3 288,170 288.8,170.1 288.9,170.7 289,171.1 290,171.7 289.9,172.1 290.4,172.2 289,172.7 289.9,173.2 289.6,174 290.3,174.1 289.9,174.3 290,175.1 289.2,175.2 290.6,175.9 291.2,176.4 290.1,176.8 290.2,177.2 291.2,177.4 291.2,177.8 290.4,178 290,178.9 291.6,179.2 291.2,179.7 291,180 291.3,180.6 291.8,180.8 291,181.5 291.3,182.2 292.1,182.4 292.6,182.9 292.7,183.3 291.4,183.4 291.8,184.3 292.7,184.1 293.7,185.1 293.3,185.4 291.8,185.5 293,186.1 292.6,186.4 292.4,186.8 292.9,187.4 294,187.7 294.3,188.2 294,188.7 294.9,189.5 294.2,189.8 293.8,190.1 293.3,190.9 293.2,191.1 295.3,191.8 295.1,192.4 294.9,192.7 296.1,193.2 293.6,193.3 293.1,193.8 295,194.5 293.2,194.6 298.4,195.2 296.6,195.8 294.2,196.4 295.6,196.5 292.3,197.2 293.1,197.4 297.5,198.1 295.8,198.3 296,199 295,198.9 295.8,199.4 295.3,199.9 294.9,200.2 296.1,200.2 294.5,200.8 298.8,200.5 296.5,200.8 298.2,201.1 294.7,201 298.3,201.1 293.7,201.9 295.1,201.4 295.8,202.3 296.8,202.4 295.9,202.6 298,202.8 294.4,202.9 298.3,203 294,203.4 298.3,203.6 295.7,203.7 296.4,203.9 295.9,204.1 296.4,204.4 296.9,204.8 295.7,204.7 297.1,205.4 297.5,205.2 297.2,205.7 298.4,205.8 295.4,206.4 300.4,206.4 297,206.3 297.6,206.8 295.5,207.3 296.3,206.9 299.1,207.8 302.4,207.8 295.6,208.3 297.3,207.9 298.1,208.7 296.3,208.7 296.5,208.9 296.6,209 297,209.1 299.9,209.1 299.6,209.5 301.3,209.6 295,209.9 299.2,210.1 298.4,210.4 297.5,210.8 296.4,210.8 300.2,210.7 298.9,211.7 301.2,211.6 297.9,211.8 299.2,211.8 300.1,212.2 302.4,212.2 299.9,213 297.3,212.7 301.7,213.4 295.2,213.1 299.1,213.7 300.4,213.8 296.9,214.1 296.1,213.7 298.2,214.4 301.4,214.2 294.7,214.9 298.4,214.8 299.7,215.3 301,215.2 301.1,215.7 300.6,215.7 295.6,216 296.1,216.5 303,216.9 301.4,216.5 299.6,216.8 295.6,217.4 298.2,217.4 299.7,217.5 297.4,217.7 299.4,217.6 298.5,218.3 301.7,218.4 298.3,219 298.2,218.8 298.1,219 301,219.3 301.9,219.3 297.8,219.7 295.2,219.6 298.5,219.9 298.8,220.2 299.2,219.9 296.8,220.5 303.6,220.3 296.3,221.1 301.7,220.9 301.5,221.6 298.4,221.8 298.5,222 294.7,222.1 299.5,222.5 302.6,222.8 297.4,222.8 300.1,222.8 294,223.4 299.7,223.6 301.2,224.2 299.2,224.1 300.3,224.7 299.3,225 296.5,225.7 290.5,215.3 290.8,217.5 291.2,214.2 291.6,209.3 291.8,201.6 292.1,214.5 292.5,219.5 292.8,251.3 293.2,208.7 293.4,220.8 293.7,212.2 294,216.1 294.3,221.2 294.4,201.1 294.7,217.4 295,214.9 295.4,213.3 295.6,208.3 296,205.9 296.2,216.3 296.5,251.3 296.9,211.6 297.1,209.6 297.4,251.3 297.8,215.2 298.1,202.1 298.4,251.3 298.7,205.6 299,200.9 299.4,208.6 299.7,210 300,216 300.3,202.5 300.5,203.6 300.8,203.2 301,214.9 301.4,214.3 301.8,207 302.1,202.4 302.5,203.6 302.7,251.3 303.1,220.5 303.4,210.3 303.6,217.2 303.9,217.2 304.1,251.3 304.4,220 304.8,210.8 305,208.8 305.3,204.2" fill="none" stroke="#7E2F8E" stroke-width="0.85" stroke-linejoin="round" marker-start="url(#m3)" marker-mid="url(#m3)" marker-end="url(#m3)"/>
</g>
<text x="33.7" y="225.1" text-anchor="end" font-family="'Liberation Sans', Arial, Helvetica, sans-serif" font-size="7.5" fill="#262626">10<tspan dx="0.5" dy="-3.3" font-size="6.6">-12</tspan></text>
<text x="33.7" y="189.97" text-anchor="end" font-family="'Liberation Sans', Arial, Helvetica, sans-serif" font-size="7.5" fill="#262626">10<tspan dx="0.5" dy="-3.3" font-size="6.6">-11</tspan></text>
<text x="33.7" y="154.83" text-anchor="end" font-family="'Liberation Sans', Arial, Helvetica, sans-serif" font-size="7.5" fill="#262626">10<tspan dx="0.5" dy="-3.3" font-size="6.6">-10</tspan></text>
<text x="33.7" y="119.7" text-anchor="end" font-family="'Liberation Sans', Arial, Helvetica, sans-serif" font-size="7.5" fill="#262626">10<tspan dx="0.5" dy="-3.3" font-size="6.6">-9</tspan></text>
<text x="33.7" y="84.57" text-anchor="end" font-family="'Liberation Sans', Arial, Helvetica, sans-serif" font-size="7.5" fill="#262626">10<tspan dx="0.5" dy="-3.3" font-size="6.6">-8</tspan></text>
<text x="33.7" y="49.43" text-anchor="end" font-family="'Liberation Sans', Arial, Helvetica, sans-serif" font-size="7.5" fill="#262626">10<tspan dx="0.5" dy="-3.3" font-size="6.6">-7</tspan></text>
<text x="33.7" y="14.3" text-anchor="end" font-family="'Liberation Sans', Arial, Helvetica, sans-serif" font-size="7.5" fill="#262626">10<tspan dx="0.5" dy="-3.3" font-size="6.6">-6</tspan></text>
<text x="37.3" y="235.5" text-anchor="middle" font-family="'Liberation Sans', Arial, Helvetica, sans-serif" font-size="7.5" fill="#262626">10<tspan dx="0.5" dy="-3.3" font-size="6.6">-2</tspan></text>
<text x="122.4" y="235.5" text-anchor="middle" font-family="'Liberation Sans', Arial, Helvetica, sans-serif" font-size="7.5" fill="#262626">10<tspan dx="0.5" dy="-3.3" font-size="6.6">-1</tspan></text>
<text x="207.5" y="235.5" text-anchor="middle" font-family="'Liberation Sans', Arial, Helvetica, sans-serif" font-size="7.5" fill="#262626">10<tspan dx="0.5" dy="-3.3" font-size="6.6">0</tspan></text>
<text x="292.6" y="235.5" text-anchor="middle" font-family="'Liberation Sans', Arial, Helvetica, sans-serif" font-size="7.5" fill="#262626">10<tspan dx="0.5" dy="-3.3" font-size="6.6">1</tspan></text>
</g>
<g>
<path d="M409.66 14.4V222.2M424.43 14.4V222.2M434.91 14.4V222.2M443.04 14.4V222.2M449.69 14.4V222.2M455.3 14.4V222.2M460.17 14.4V222.2M464.46 14.4V222.2M493.56 14.4V222.2M508.33 14.4V222.2M518.81 14.4V222.2M526.94 14.4V222.2M533.59 14.4V222.2M539.2 14.4V222.2M544.07 14.4V222.2M548.36 14.4V222.2M577.46 14.4V222.2M592.23 14.4V222.2M602.71 14.4V222.2M610.84 14.4V222.2M617.49 14.4V222.2M623.1 14.4V222.2M627.97 14.4V222.2M632.26 14.4V222.2M384.4 213.26H648.2M384.4 208.04H648.2M384.4 204.33H648.2M384.4 201.45H648.2M384.4 199.1H648.2M384.4 197.11H648.2M384.4 195.39H648.2M384.4 193.87H648.2M384.4 183.58H648.2M384.4 178.35H648.2M384.4 174.64H648.2M384.4 171.76H648.2M384.4 169.41H648.2M384.4 167.43H648.2M384.4 165.71H648.2M384.4 164.19H648.2M384.4 153.89H648.2M384.4 148.66H648.2M384.4 144.96H648.2M384.4 142.08H648.2M384.4 139.73H648.2M384.4 137.74H648.2M384.4 136.02H648.2M384.4 134.5H648.2M384.4 124.21H648.2M384.4 118.98H648.2M384.4 115.27H648.2M384.4 112.39H648.2M384.4 110.04H648.2M384.4 108.06H648.2M384.4 106.33H648.2M384.4 104.82H648.2M384.4 94.52H648.2M384.4 89.29H648.2M384.4 85.58H648.2M384.4 82.71H648.2M384.4 80.36H648.2M384.4 78.37H648.2M384.4 76.65H648.2M384.4 75.13H648.2M384.4 64.84H648.2M384.4 59.61H648.2M384.4 55.9H648.2M384.4 53.02H648.2M384.4 50.67H648.2M384.4 48.68H648.2M384.4 46.96H648.2M384.4 45.44H648.2M384.4 35.15H648.2M384.4 29.92H648.2M384.4 26.21H648.2M384.4 23.34H648.2M384.4 20.99H648.2M384.4 19H648.2M384.4 17.28H648.2M384.4 15.76H648.2" stroke="#c4c4c4" stroke-width="0.5" stroke-dasharray="0.6 1.6" fill="none"/>
<path d="M468.3 14.4V222.2M552.2 14.4V222.2M636.1 14.4V222.2M384.4 192.51H648.2M384.4 162.83H648.2M384.4 133.14H648.2M384.4 103.46H648.2M384.4 73.77H648.2M384.4 44.09H648.2" stroke="#e2e2e2" stroke-width="0.6" fill="none"/>
<clipPath id="c1"><rect x="384.4" y="13.4" width="266.8" height="210.3"/></clipPath>
<path d="M384.4 222.2v-2.6M384.4 14.4v2.6M409.66 222.2v-1.4M409.66 14.4v1.4M424.43 222.2v-1.4M424.43 14.4v1.4M434.91 222.2v-1.4M434.91 14.4v1.4M443.04 222.2v-1.4M443.04 14.4v1.4M449.69 222.2v-1.4M449.69 14.4v1.4M455.3 222.2v-1.4M455.3 14.4v1.4M460.17 222.2v-1.4M460.17 14.4v1.4M464.46 222.2v-1.4M464.46 14.4v1.4M468.3 222.2v-2.6M468.3 14.4v2.6M493.56 222.2v-1.4M493.56 14.4v1.4M508.33 222.2v-1.4M508.33 14.4v1.4M518.81 222.2v-1.4M518.81 14.4v1.4M526.94 222.2v-1.4M526.94 14.4v1.4M533.59 222.2v-1.4M533.59 14.4v1.4M539.2 222.2v-1.4M539.2 14.4v1.4M544.07 222.2v-1.4M544.07 14.4v1.4M548.36 222.2v-1.4M548.36 14.4v1.4M552.2 222.2v-2.6M552.2 14.4v2.6M577.46 222.2v-1.4M577.46 14.4v1.4M592.23 222.2v-1.4M592.23 14.4v1.4M602.71 222.2v-1.4M602.71 14.4v1.4M610.84 222.2v-1.4M610.84 14.4v1.4M617.49 222.2v-1.4M617.49 14.4v1.4M623.1 222.2v-1.4M623.1 14.4v1.4M627.97 222.2v-1.4M627.97 14.4v1.4M632.26 222.2v-1.4M632.26 14.4v1.4M636.1 222.2v-2.6M636.1 14.4v2.6M384.4 222.2h2.6M648.2 222.2h-2.6M384.4 213.26h1.4M648.2 213.26h-1.4M384.4 208.04h1.4M648.2 208.04h-1.4M384.4 204.33h1.4M648.2 204.33h-1.4M384.4 201.45h1.4M648.2 201.45h-1.4M384.4 199.1h1.4M648.2 199.1h-1.4M384.4 197.11h1.4M648.2 197.11h-1.4M384.4 195.39h1.4M648.2 195.39h-1.4M384.4 193.87h1.4M648.2 193.87h-1.4M384.4 192.51h2.6M648.2 192.51h-2.6M384.4 183.58h1.4M648.2 183.58h-1.4M384.4 178.35h1.4M648.2 178.35h-1.4M384.4 174.64h1.4M648.2 174.64h-1.4M384.4 171.76h1.4M648.2 171.76h-1.4M384.4 169.41h1.4M648.2 169.41h-1.4M384.4 167.43h1.4M648.2 167.43h-1.4M384.4 165.71h1.4M648.2 165.71h-1.4M384.4 164.19h1.4M648.2 164.19h-1.4M384.4 162.83h2.6M648.2 162.83h-2.6M384.4 153.89h1.4M648.2 153.89h-1.4M384.4 148.66h1.4M648.2 148.66h-1.4M384.4 144.96h1.4M648.2 144.96h-1.4M384.4 142.08h1.4M648.2 142.08h-1.4M384.4 139.73h1.4M648.2 139.73h-1.4M384.4 137.74h1.4M648.2 137.74h-1.4M384.4 136.02h1.4M648.2 136.02h-1.4M384.4 134.5h1.4M648.2 134.5h-1.4M384.4 133.14h2.6M648.2 133.14h-2.6M384.4 124.21h1.4M648.2 124.21h-1.4M384.4 118.98h1.4M648.2 118.98h-1.4M384.4 115.27h1.4M648.2 115.27h-1.4M384.4 112.39h1.4M648.2 112.39h-1.4M384.4 110.04h1.4M648.2 110.04h-1.4M384.4 108.06h1.4M648.2 108.06h-1.4M384.4 106.33h1.4M648.2 106.33h-1.4M384.4 104.82h1.4M648.2 104.82h-1.4M384.4 103.46h2.6M648.2 103.46h-2.6M384.4 94.52h1.4M648.2 94.52h-1.4M384.4 89.29h1.4M648.2 89.29h-1.4M384.4 85.58h1.4M648.2 85.58h-1.4M384.4 82.71h1.4M648.2 82.71h-1.4M384.4 80.36h1.4M648.2 80.36h-1.4M384.4 78.37h1.4M648.2 78.37h-1.4M384.4 76.65h1.4M648.2 76.65h-1.4M384.4 75.13h1.4M648.2 75.13h-1.4M384.4 73.77h2.6M648.2 73.77h-2.6M384.4 64.84h1.4M648.2 64.84h-1.4M384.4 59.61h1.4M648.2 59.61h-1.4M384.4 55.9h1.4M648.2 55.9h-1.4M384.4 53.02h1.4M648.2 53.02h-1.4M384.4 50.67h1.4M648.2 50.67h-1.4M384.4 48.68h1.4M648.2 48.68h-1.4M384.4 46.96h1.4M648.2 46.96h-1.4M384.4 45.44h1.4M648.2 45.44h-1.4M384.4 44.09h2.6M648.2 44.09h-2.6M384.4 35.15h1.4M648.2 35.15h-1.4M384.4 29.92h1.4M648.2 29.92h-1.4M384.4 26.21h1.4M648.2 26.21h-1.4M384.4 23.34h1.4M648.2 23.34h-1.4M384.4 20.99h1.4M648.2 20.99h-1.4M384.4 19h1.4M648.2 19h-1.4M384.4 17.28h1.4M648.2 17.28h-1.4M384.4 15.76h1.4M648.2 15.76h-1.4M384.4 14.4h2.6M648.2 14.4h-2.6" stroke="#262626" stroke-width="0.6" fill="none"/>
<rect x="384.4" y="14.4" width="263.8" height="207.8" fill="none" stroke="#262626" stroke-width="0.8"/>
<g clip-path="url(#c1)">
<polygon points="395.2,38.1 421.2,75.7 435.4,75.1 445.2,75.1 454.4,67.3 461,72.3 466.2,69.8 471.1,70.6 475.7,69.9 479.6,69.6 483.6,70.3 483.6,76.7 479.6,75.4 475.7,76 471.1,76.7 466.2,75.5 461,78.6 454.4,74.4 445.2,80.8 435.4,81 421.2,81.1 395.2,44.1" fill="#f5dca8" fill-opacity="0.75" stroke="#f5dca8" stroke-width="0.8" stroke-opacity="0.75"/>
<polyline points="395.2,36.4 421.2,74.1 435.4,73.4 445.2,73.4 454.4,65.2 461,70.5 466.2,68.1 471.1,68.8 475.7,68.1 479.6,67.9 483.6,68.5 485.5,73.9 487.2,72.8 488.7,72.9 490.3,73.1 491.8,74.2 493.7,74.4 495.6,73.7 496.7,74.2 498.5,74.2 500.2,76.1 501.1,76.2 502.5,77 504.1,78.5 505.6,79.5 507.1,80.4 508.4,81.3 509.5,82.5 510.5,82.9 511.8,83.6 512.7,84.6 514,84.4 515.3,85.1 516.1,85.1 516.7,86 517.3,87 518,86.5 519,87.6 519.8,88 520.3,88.2 520.9,89 521.5,89.1 522.3,89.8 522.9,90.8 523.4,90.1 524,90.9 524.8,91.5 525.7,92 526.4,92.4 526.8,93.2 527.5,93.3 527.7,80.7 528.1,88.3 528.4,94 529,94.4 529.7,94.8 530.5,95.5 531.3,95.8 531.9,96.1 532.5,96.8 533.1,96.4 534.1,96.5 535,97.7 535.4,97.8 535.9,97.3 536.1,97.8 536.6,97.9 537.2,98.5 537.5,98.5 538.1,98.4 538.7,99.1 538.8,99.1 539.6,99.3 539.9,99.7 540.1,99.8 540.8,99.9 541,100.2 541.3,100.6 541.8,100.8 542.3,101.3 542.7,102 542.9,101.8 543.3,101.6 543.8,102 544.1,102 544.6,102 544.7,102.7 545.2,102.8 545.6,103.5 545.8,99 546.2,101.7 546.2,103.6 546.5,103.5 546.8,103.9 547.2,103.8 547.8,104.5 548.2,104.9 548.6,104.2 549.1,105.7 549.7,106.1 549.9,105.3 550.3,106.1 550.8,106.5 551.2,106 551.8,106.3 552.1,107.1 552.6,106.8 553.2,107 553.5,107.6 554,106.9 554.3,108.7 554.8,108.3 555.4,108 555.8,108.3 556.1,109 556.5,108.8 556.9,109.1 557.4,108.8 557.9,109.6 558.3,109.6 558.6,110 559.3,110.8 560,110.6 560.2,110.7 560.7,110.8 561.2,110.7 561.9,112 562.3,111.5 562.8,111.6 563.3,111.6 563.9,111.8 564.7,112.6 564.8,112.5 565.1,113 565.7,112.9 566.2,113 566.6,113.3 567,113.8 567.3,112.9 567.8,113.6 568.3,114 568.9,114 569,114.5 569.5,113.4 570.1,113.7 570.6,114.4 571,114.5 571.4,114.4 571.9,114.8 572.4,114.9 572.8,114.9 573.1,115.8 573.1,111.8 573.8,115.8 574.4,115.4 574.7,115.8 575.3,115.7 575.7,116.2 576.4,116.4 576.7,115.8 577,116.2 577.5,116.6 577.8,116.9 578.3,117.3 579,116.9 579.5,117.4 579.9,117.4 579.9,115.4 580.4,117.6 580.8,117 581.4,118.1 581.9,118 582.3,117.7 582.6,118.5 583,118 583.6,118.5 584.1,118.7 584.5,118.8 585,119 585.5,119 585.7,119.7 586.3,119.3 586.1,116.3 586.7,120.1 587.4,119.5 587.8,120.4 588.4,120.2 588.9,119.9 589.5,120.4 589.9,120.1 590.4,121.3 590.7,120.8 591.4,120.6 591.9,121.1 592.3,121.6 592.5,121.8 592.4,118.8 593.1,121.5 593.3,121.8 593.9,122.1 594.5,122.1 595,122.5 595.6,121.9 595.9,122.6 596.2,123.1 596.9,123 597.4,123.5 597.7,123.5 598.1,123.4 598,115.7 598.4,120.3 598.6,123.5 598.8,123.8 599.3,123.9 599.9,124.2 600.3,125.3 600.8,124.3 601.1,125.2 601.6,125.1 601.7,125.7 602.5,125.7 602.9,125.8 603.2,125.7 603.5,125.6 603.9,126.7 604.5,127 605.1,127.4 605.3,127.5 605.8,127.1 606.4,127.7 606.3,120.3 606.7,124.7 606.8,128.2 607.3,127.7 607.5,127.8 607.9,127.9 608.3,128.8 609,129.5 609.6,129.4 609.9,129.2 610.3,129.1 610.8,129.7 611,130 611.6,130 612,130.1 612.4,130.2 613.1,130.2 613.4,130.4 613.8,131.2 614.1,132.2 614.6,131.1 614.6,126.8 615,129.4 615.2,131.5 615.5,131.9 616,132 616.4,131.8 616.9,132.3 617.4,133.2 617.8,133.1 618.2,132.5 618.6,134 619,133.5 619.7,133.9 620.1,135.2 620.6,135 621,136.1 621.4,135.5 622,136 622.5,136.9 622.9,137.1 622.9,134.1 623.5,137.3 623.6,138.3 624.2,137.4 624.7,139 625.3,138.1 625.9,139.8 626.2,140.5 626.1,141.6 626.4,141.7 626.5,142.6 626.7,143.2 626.6,143.5 626.9,144 627,144.4 627.1,145.2 626.9,146.7 627.2,146.7 626.7,148.7 627.6,147.9 627.3,149.4 627.5,149.8 627.7,150.3 627.3,151.7 627.7,152.3 627.9,152.8 627.8,153.8 628.1,154.6 628.3,154.8 627.8,156.3 628.2,156.5 628,157.3 628.3,157.7 628.2,158.6 628.2,159.7 628.2,160 628.3,160.4 628.3,161.4 628.3,161.9 628.4,162.4 628.4,162.3 628.8,163.3 629.1,163.7 629,164.6 629.2,164.7 629.6,165.6 629.2,166 629.3,166.5 629.8,167 629.6,167.4 629.9,167.7 630.1,168.2 629.9,168.5 630.5,169.1 630.4,169.8 630.5,169.9 630.7,170.6 631.1,171.4 631.2,171.5 631.1,171.9 631.4,172.5 631.7,172.9 631.8,173.8 631.9,174.1 632.2,174.6 631.9,174.8 632.4,175.1 632.2,175.6 632.7,176.2 632.9,176.7 633.1,177.1 632.9,177.5 633,177.9 633.4,178.4 633.6,179.4 633.8,179.9 634,180 634.3,180.5 634.4,181.2 634.1,181.6 634.6,181.9 634.7,182.7 635.2,182.8 635.3,183.5 635.4,184.1 635.8,184.6 635.6,185.1 636.7,185.5 637,185.6 637,186.4 637.1,186.4 637,187.3 637.6,187.6 637.8,188.4 637.8,188.5 637.9,188.9 638.1,189.5 638.4,189.9 638.3,190 639.1,190.7 639.3,190.9 638.8,191.7 639.3,191.7 639.7,192.6 639.6,192.8 640.8,193.7 640.4,194.1 640.2,194.6 640.6,195 641,195.1 640.9,196.1 641.2,196 641.2,196.8 641.6,197.1 640.9,197.7 641.9,198.4 642.2,198.8 642.3,199.3 642.4,199.9 642.4,199.8 642.2,200.6 642.5,200.8 643,201.7 643.3,201.8 643.7,202.1 643.4,202.8 643.6,203.3 643.7,203.6 644.1,204 644.6,204.2 644.4,204.7 644.5,205.2 645.3,205.8 645,206.5 644.4,206.5 645.7,207.1 645.4,207.7 645.1,208.1 645.9,208.6 645.6,208.6 646.2,209.4 646.1,209.9 645.8,210.4 646.8,210.3 646.5,210.9 646.5,211.6 646.7,211.8 646.9,212.2 646.8,212.9 646.8,213.3 647.1,214 646.9,214.3 647.4,214.9 647.3,215.6 647,216.1 647.2,216.3 647.4,217.2 647.3,217.8 647.5,218.2 648.1,218.7 648.2,219 647.9,219.6 648.3,219.5 647.3,220.1 647.5,221 647.9,221.5 648.7,221.9 648.8,222.6 648.6,223 649.3,223.4 649.1,223.8 648.8,224.7 648.5,225.1 649,225.7 648.9,225.8 649.1,226.5 649.3,226.9 649.2,228" fill="none" stroke="#0072BD" stroke-width="0.85" stroke-linejoin="round" marker-start="url(#m0)" marker-mid="url(#m0)" marker-end="url(#m0)"/>
<polyline points="395.2,38.1 421.2,75.7 435.4,75.1 445.2,75.1 454.4,67.3 461,72.3 466.2,69.8 471.1,70.6 475.7,69.9 479.6,69.6 483.6,70.3 485.5,74.1 487.2,74.1 488.7,75.3 490.4,75 491.8,74.4 493.6,77.6 495.5,78.4 496.9,78.4 498.5,77.1 500.2,78.7 501.3,81 502.4,79 503.9,80.5 505.7,81.9 507,80.6 508.5,84.1 509.4,84.1 510.4,85.4 511.9,87.2 512.9,86.5 514.1,86.7 515.4,87.5 516,87.7 516.5,89.8 517.5,88.9 517.9,89.3 519,89.3 519.9,90.8 520.4,90.3 520.8,90.7 521.5,91.5 522.3,91.3 522.8,92 523.4,92.4 524.1,91.9 524.8,93.4 525.7,93.2 526.2,94.3 526.8,96.5 527.6,95 527.7,83 528.1,90.2 528.4,95.4 529.1,96.5 529.8,97.7 530.6,96.7 531.3,97.2 531.8,97.6 532.6,97.7 533.2,98.3 534,99.8 534.8,99.2 535.5,99.6 535.9,100.6 536.2,100.7 536.5,100.5 537.1,100.6 537.7,100.2 538.2,100.7 538.4,101.3 538.9,101.4 539.4,101.6 539.8,102.7 540,102.2 540.6,101.9 541,103 541.5,101.8 541.8,103.6 542.1,102.6 542.6,103.3 542.9,103.5 543.4,105 543.7,103.7 544.1,104.6 544.5,104.3 544.7,104.7 545,105.1 545.7,105.2 545.8,102.2 546.1,106.5 546.4,105.8 546.9,106.6 547.3,106.9 547.6,107 548.1,107.1 548.6,107.6 549.2,107.5 549.6,108.1 549.8,108.7 550.5,108.4 550.7,108.8 551.3,108.8 551.8,108.9 552.3,109.6 552.6,109.6 553.1,110.4 553.5,109.4 554,110 554.4,110 554.7,110.9 555.4,110.5 555.6,110.9 556.2,111.3 556.6,111.1 557,112 557.5,111.6 558.1,112.4 558.5,112.2 558.7,112.8 559.4,112.5 559.7,112.3 560.5,112.5 560.9,113.2 561.5,112.7 561.8,113 562.3,113.7 562.7,113.5 563.4,114.8 564,114.2 564.6,114.4 564.9,114.5 565.3,114.4 565.6,115.6 566.2,115.8 566.6,115.6 566.9,115.5 567.4,115.6 567.8,115.5 568.5,115.7 568.7,115.5 569.2,116.5 569.4,116 570,116.2 570.4,116.6 571.1,116.9 571.5,117.1 571.9,116.6 572.4,116.7 572.8,116.5 573.3,117.1 573.1,114.1 573.6,117.3 574.2,117.6 574.9,117.8 575.2,118.3 575.8,118.4 576.2,118.5 576.6,118.8 577.1,119.1 577.6,119.1 577.9,119.3 578.5,118.8 578.8,119 579.5,119.4 579.9,119.4 579.9,118.4 580.5,119.8 581,120 581.4,119.6 582,120.5 582.2,119.6 582.7,121.1 583.1,120.7 583.6,121.2 584.1,121 584.6,120.9 585,120.7 585.4,122 585.8,121.8 586.2,122.1 586.1,120.1 586.7,121.9 587.1,122.8 587.9,122.8 588.4,122.2 588.9,122.5 589.5,122.6 589.9,122.9 590.3,123.2 590.7,123.7 591.5,123.1 591.9,123.9 592.1,124.1 592.6,123.5 592.4,121.5 593,124.2 593.5,123.8 594,124 594.6,124.5 595,124.9 595.5,124.8 596,125.7 596.4,125.1 596.9,126.2 597.4,126.2 597.7,125.8 597.9,126.1 598,120.1 598.4,123.7 598.4,126.5 598.8,127 599.3,128.1 599.9,127.2 600.4,127.3 600.9,127.9 601.1,128 601.4,128.2 601.9,128.3 602.2,129.1 602.7,128.7 603.1,129.3 603.5,129.1 603.9,128.9 604.6,130.7 604.8,130 605.2,130.2 606,129.3 606.4,130.6 606.3,124.6 606.7,128.2 606.9,131.2 607,131.1 607.4,131 607.8,130.2 608.4,131.5 609,131.5 609.4,132.5 609.8,132.8 610.2,133 610.8,132 611.1,132.3 611.5,132.5 612.1,133.1 612.3,132.4 613.2,133.2 613.4,134.1 614,135 614.3,133.2 614.6,135 614.6,132 615.1,135.2 615.4,134.2 616.1,135.1 616.3,135.7 616.8,134.8 617.2,135.5 617.8,136.6 618.3,136.2 618.6,137.2 619.2,137.3 619.7,137.9 620,137.2 620.6,138.4 620.8,138.4 621.3,137.7 621.6,138.3 622,140.3 622.5,139.2 622.7,140 622.9,138 623.3,140.2 623.5,141.2 623.9,141.5 624.7,140.3 625.4,140.9 625.5,142 625.9,142.2 625.6,143.2 625.9,143.7 626.1,144 626,145.4 625.7,146.2 626.6,145.4 626.8,146.1 626.6,146.8 626.3,148.3 626.5,149 626.9,149.3 627.1,149.6 627.1,150.4 627.1,151.8 626.8,153 627.2,152.8 627.5,153.7 627.5,154.5 627.2,155.3 627.6,155.5 627.4,156.4 627.7,157 627.7,157.7 627.6,158.5 628,158.9 628,159.4 628,160.1 628.3,160.6 628.3,161 628.4,161.5 628.3,162.1 628.4,162.6 628.6,163.2 628.5,163.8 629.2,164.8 628.6,164.8 629.6,165.6 629.4,165.7 629.8,166.5 629.5,167 629.5,167.4 629.7,167.6 630,168 629.9,168.9 630.3,169.1 630.7,169.8 630.7,169.8 630.5,170.7 630.7,170.9 631.4,171.2 631,172.4 631.5,172.6 631.8,173 631.7,173.9 631.7,173.8 632.1,174.4 631.8,174.6 632.5,175.5 632.5,175.4 632.2,176 632.6,176.9 632.9,177.2 633.2,177.8 632.7,178.4 632.8,178.8 633.7,179 633.7,179.5 634.1,180.1 634.3,180.6 634,181.2 634.1,181.5 634.3,182.1 634.6,182.3 635.1,182.7 634.7,183.3 635.3,184.1 635.7,184.6 636,184.9 636,185.6 636.1,186 636.3,186.4 636.1,186.5 637.3,187.3 637.2,187.7 637.3,188.3 637.5,188.3 637.4,188.8 638,189.3 638.2,189.7 638.3,190.6 638.2,190.4 638.4,191.1 639,191.2 639.2,192 639.7,192.3 639.4,193 640.5,193.7 640,194.4 640.4,194.5 640.8,194.7 639.6,195.3 640.5,195.8 640.8,196 641.1,197 641.3,197 641.9,197.5 641.3,198.4 641.4,198.7 641.8,198.9 642.1,199.7 642.4,199.9 642.4,200.2 642.1,200.8 642.7,201.6 643.4,202 643.6,202.2 642.7,203 643.5,203.2 643.3,203.3 642.9,204.1 644,204.7 643.9,204.8 644.2,205.2 644.2,205.7 644.9,206.6 645.1,206.5 644.5,207.3 645.6,207.5 645.4,208.1 644.8,208.2 645.5,208.9 645.3,209.4 645.2,209.5 647,210 646.1,210.5 644.9,211.3 646.3,211.6 646.6,211.8 646.2,212.3 647.1,213.4 646,213.6 646.2,214.1 647,214.3 647.3,215.2 647,215.4 646.4,216 647.3,216.2 647.1,217 647.3,217.9 646.9,218.4 647.6,218.6 647.8,219.2 648.5,219.3 648,220 647.5,220.3 647.6,220.6 647.7,221.6 647.7,221.7 647.3,222.4 648,223.1 648.5,223.5 648.5,223.9 648.8,224.7 648.5,224.6 648.5,225.3 647.9,226.1 649.6,226.8 648,227.3 649,227.7 643,216.9 643.5,221.2 644.1,207.2 644.5,215.5 644.8,206.7 645.4,220.7 645.9,209.3 646.3,252.2 646.7,207.5 647.1,219 647.6,252.2 648,210.6" fill="none" stroke="#D95319" stroke-width="0.85" stroke-linejoin="round" marker-start="url(#m1)" marker-mid="url(#m1)" marker-end="url(#m1)"/>
<polyline points="395.2,41 421.2,78.3 435.4,78 445.2,77.8 454.4,70.7 461,75.3 466.2,72.5 471.1,73.6 475.7,72.9 479.6,72.4 483.6,73.4 485.7,77.9 487.4,76.4 488.8,77.2 490.6,79.2 491.6,79 493.8,78.1 495.6,77.6 496.7,80.1 498.5,80.6 500,82.2 501.2,82.8 502.6,82.9 504,84.9 505.6,85.3 507,87.4 508.4,88.3 509.3,89.4 510.6,91.2 511.8,88.9 512.7,89.6 514.2,90.7 515.3,90.2 515.9,92 516.6,90.5 517.3,93.1 518.1,92.3 518.9,92.4 519.9,93.5 520.5,94.2 521.1,95.2 521.3,93.2 522.2,94.6 522.9,95 523.4,96.7 523.9,96.2 524.9,97.4 525.7,98.3 526.3,97.2 527,96.9 527.7,99 527.7,88 528.1,94.6 528.2,99.5 528.9,99.2 529.8,100.6 530.5,101.6 531.3,100.8 531.8,102.2 532.4,102.4 533.1,102.3 534,102.1 534.8,102.4 535.3,104 535.7,102.9 536.1,104 536.6,104 537.1,104.3 537.6,103.9 538,105.9 538.6,105.8 539,105.3 539.4,104.7 539.7,105.1 540.2,106 540.7,107.1 541.1,106.8 541.3,106.4 541.8,106.9 542.3,107.3 542.7,107.3 543,107.6 543.4,107.4 543.8,107.6 544.1,108.3 544.6,108.5 544.7,108.8 545.1,109.7 545.5,109.7 546,109.5 545.8,107.5 546.4,108.4 546.9,111.6 547.3,109.4 547.8,111.2 548.1,110.8 548.6,112.2 548.9,110 549.6,112.2 550.1,110.8 550.5,113 550.8,112 551.2,113.3 551.8,114.2 552.3,114.2 552.8,113.4 553,112.7 553.6,113 553.9,114.2 554.3,114.2 554.9,112.7 555.4,115.3 555.6,113.8 556,114.6 556.7,116.4 557.1,115.6 557.4,115.8 557.9,115 558.5,116.9 558.7,116 559.5,115.8 559.7,116.8 560.2,116.7 560.8,117 561.2,117.3 561.9,116.3 562.2,118 562.8,116.5 563.5,116.7 564,118.4 564.7,118.1 564.9,118.5 565.2,117.9 565.7,118.8 566.4,119.9 566.7,119.7 566.9,119.5 567.5,118.2 567.7,119 568.4,119 568.8,121.1 569.1,119.9 569.6,121.1 569.9,120.2 570.7,120.2 571.1,119.7 571.4,121.4 571.8,120.7 572.2,120.4 572.6,121.3 573.2,120.9 573.1,118.9 573.7,121.5 574.4,122.5 574.8,121.9 575.3,121.7 575.8,121.8 576.3,121.5 576.8,122.8 577,122.1 577.6,122.8 577.9,124 578.3,122.3 578.8,123.3 579.6,124.5 579.8,123.9 579.9,122.9 580.3,123.2 580.9,123.3 581.5,124.3 582,125.4 582.2,124.2 582.7,125.2 583,123.5 583.5,125 584.2,124.5 584.4,125.6 585,123.8 585.2,126.5 585.7,125.3 586.2,125.5 586.1,124.5 586.6,126.4 587.3,126.4 587.9,126 588.4,126.4 588.8,127.3 589.6,127 589.7,127.2 590.1,127 590.6,127.2 591.2,127.2 591.7,127.1 592.3,127.2 592.4,126.2 592.5,128.9 592.9,128.1 593.4,128.6 594,127.2 594.6,128.8 595.1,128.4 595.5,128 596,129.9 596.4,129 597,129 597.2,129.9 597.7,129.9 598,130.2 598,125.2 598.4,128.2 598.4,130.2 598.9,131.8 599.4,130.3 599.9,132.3 600.3,131.1 600.7,132.9 601.1,132.5 601.4,132.7 601.8,132.7 602.3,132.6 602.8,132.7 603.2,133.9 603.5,132.9 604,134.2 604.5,133.5 604.8,134.8 605.4,135.3 606,134.5 606.4,134.6 606.3,129.6 606.7,132.6 606.8,135.6 607.1,134.1 607.6,135.8 608,134.3 608.5,136 609,135.1 609.5,137.3 609.8,136.1 610.3,137.8 610.7,138 611.1,136.9 611.6,138.5 611.9,137.6 612.6,139.2 613,138.5 613.2,139.5 613.9,137.1 614.3,140 614.7,138.2 614.6,135.2 615.1,140.6 615.5,138.3 615.9,139.3 616.4,140.5 616.8,139.6 617.4,140.3 617.8,139.5 618.2,140.8 618.7,142.1 619.2,142.6 619.5,142.7 619.9,142.9 620.3,142.4 620.7,142.1 620.9,144.1 621.2,143.2 621.7,143.5 621.4,146.2 621.5,146.2 622.5,143.4 622.2,145.9 623.2,144.5 622.9,142.5 623.4,144.7 624.1,144.7 624.5,144.3 624,146.4 624.5,146.1 624.8,146.8 624.7,147.4 625.2,147.3 624.5,149.1 625.1,148.7 626.1,147.2 625.4,149.9 625.5,150.3 625.9,149.9 626,151 625.5,152.6 626.3,151.6 626,153.1 626.5,153.2 627.3,152.8 626.1,155.6 626.7,155 626.6,156.4 626.7,157 627,157.3 626.7,158.2 627.6,158 627.6,158.8 627.5,159.5 627.6,159.8 627.8,160.3 627.9,160.5 628.2,161.4 628.2,161.9 628.7,162 628.6,162.4 628.1,163.2 628.7,164 628.8,164.8 628.7,165.2 629.1,165.6 629.1,166.2 629,166.7 629.4,167 629.4,167.5 629.6,168.1 629.8,168.2 630.3,168.8 630.3,169 630.1,169.2 629.9,170.2 630.5,170.7 630.8,171.3 630.7,171.6 631.3,172.2 631,172.8 630.9,173.3 631.3,173.7 631.5,174 631.8,174.1 632.1,174.7 631.9,175.3 632.5,175.8 632.4,176.1 632.3,176.8 632.6,177.3 633,177.8 632.7,178.2 633.5,178.7 633.2,179.2 633.4,179.7 634,180.1 633.9,180.7 633.9,181.3 634.2,181.4 634.4,182.1 634.6,182.4 634.7,182.7 635.2,183.4 635.3,183.9 635.4,184.3 635.4,185 635.6,185.5 635.8,185.5 635.7,186 635.8,186.7 636.2,187.4 636.2,187.6 637.6,188.2 637,188.7 637.7,188.7 636.8,189.2 637.7,189.7 638.1,190.4 638.3,190.6 638,191 638.9,191.6 638.6,191.7 638.9,192.4 639.5,193.3 638.6,193.6 638.7,194 639.4,194.7 640.3,195 639.4,195.1 639.6,196 640.9,196.4 639.8,196.9 640.6,197.1 640.7,197.6 640.4,198.3 641,198.5 641.5,198.8 641.3,199.5 641.9,200.1 641.5,200.5 641.6,201 642,201.7 641.7,202.1 642.4,202.1 642,202.8 642.4,203.1 641.8,203.7 641.9,204 643.4,204.3 643,204.8 642.7,205 643.7,205.8 643.3,206.7 644.8,206.5 645.2,207.3 645.7,207.8 644.1,207.8 643.7,208.1 645.3,208.9 644.8,209 645,209.8 643.5,210.2 644.4,210.6 644.2,211.1 644,211.7 644.7,212 645.5,212.6 645.2,213.2 646,213.2 645,214.2 645.5,214.3 646.5,214.7 644.8,215.8 646.8,216.3 646.3,216.5 645.3,216.8 646.8,217.4 647.9,218.2 646.7,218.3 646.7,219 646.8,219.3 646.2,219.6 645.9,220.2 648.3,220.6 647,221.3 647.7,221.5 646.5,222.2 648.6,223.1 647.9,223.1 647.5,223.9 647.6,224.6 648.2,224.6 648.4,225.2 647.5,226.1 646.8,226.4 648.3,227.3 647.7,227.9" fill="none" stroke="#EDB120" stroke-width="0.85" stroke-linejoin="round" marker-start="url(#m2)" marker-mid="url(#m2)" marker-end="url(#m2)"/>
<polyline points="395.2,46 421.2,82.9 435.4,82.9 445.2,82.6 454.4,76.7 461,80.6 466.2,77.3 471.1,78.7 475.7,78 479.6,77.3 483.6,78.7 485.5,78.4 487.4,80.8 489,80.8 490.5,82 491.8,80.1 493.6,82.2 495.5,82.2 496.9,85.8 498.6,84.9 500.2,86.6 501.4,85 502.4,86.1 503.9,88.9 505.6,88.1 506.9,88.2 508.4,91.3 509.3,91.2 510.3,91.4 511.8,91.5 512.7,93 514.1,95.1 515.5,93.6 516.1,93.9 516.5,94.5 517.4,95.2 518.1,95.1 518.9,94.2 519.7,93.8 520.2,95.4 521,97.3 521.5,97.2 522.3,99.3 523,98 523.5,97.8 524,100 524.6,98.6 525.5,101.1 526.4,100 527,101.3 527.5,101.7 527.7,95.7 528.1,99.3 528.3,101.9 528.9,103.6 529.7,103.2 530.5,104.6 531.5,104.5 531.9,105.1 532.4,104.6 533.1,107.1 534,103.5 534.8,105.2 535.3,108.9 535.9,107.3 536.1,106.8 536.6,108.6 537.2,107 537.5,108.5 538,107.9 538.4,107.7 538.8,109.1 539.5,109 539.8,107.1 540.2,110.2 540.6,110.8 541,108 541.4,108.6 541.6,108.7 542.3,111.1 542.6,111.6 542.8,110 543.5,111.2 543.7,112 544.2,112.5 544.4,112.8 544.7,114.1 545,113.8 545.7,112.6 545.8,112.6 546,112 546.4,114.6 546.7,115.2 547.3,113.8 547.8,115.1 548.2,113.6 548.8,114.3 549,115.1 549.6,115.3 550,114.3 550.2,115.3 550.9,116.9 551.2,117.2 551.7,116 552.2,116.5 552.8,114.2 553.1,116.4 553.5,117 553.9,117.3 554.4,115.9 554.7,117.8 555.3,117 555.8,117 556,118.4 556.6,116.7 557,117.4 557.5,118.7 557.9,118.3 558.5,118.2 558.7,118.6 559.2,119.6 560,120.7 560.4,120.9 560.8,120.7 561.4,120.4 561.7,122.5 562.4,119.3 563,119 563.3,120.3 564,121.7 564.6,122 565,122.4 565.2,120.7 565.7,122.9 566.3,124.1 566.7,122.4 566.9,123.1 567.5,122.8 567.6,122.3 568.3,122.9 568.9,122.7 569.2,121.7 569.6,123.3 570.1,124.4 570.6,124.5 570.9,124.5 571.5,125.3 571.9,124.1 572.2,123.5 572.6,124.6 573.1,123.4 573.1,123.4 573.7,125.7 574.2,124.8 574.7,125.9 575.4,124.8 576,124.5 576.4,125.6 576.7,127 577.2,126.4 577.3,125.6 577.7,125.9 578.5,126.5 578.8,126.6 579.4,124.6 579.9,127.9 579.9,127.9 580.5,128.4 580.9,127.8 581.4,127.4 582,127.7 582.3,126.9 582.8,125.9 583.1,127.5 583.5,129.6 584,127.4 584.5,129.8 585,130.6 585.4,129.6 585.7,127.6 586.3,127.5 586.1,127.5 586.7,128.8 587.1,129.5 587.8,130.1 588.4,129 588.9,129.9 589.6,129.5 589.9,132.2 590.3,129.3 590.7,130.5 591.3,130.6 591.6,129.8 592.2,129.1 592.5,128.8 592.4,128.8 593.1,131.4 593.4,131.9 593.9,131.7 594.6,133.7 595,131.6 595.5,132.7 596.1,132.7 596.4,133.8 596.7,132.6 597.3,134 597.6,131.9 597.9,133.1 598,132.1 598.6,134.2 599,134.8 599.3,134.9 599.9,136.2 600.4,134.7 600.9,135.3 601.2,135.6 601.5,136.9 601.7,135.1 602.3,135.7 602.9,138.4 603.2,134.3 603.5,137.9 603.9,136.7 604.5,139.7 604.8,137.6 605.3,137.5 605.8,139 606.5,137.5 606.3,136.5 606.9,140.2 607.3,139.4 607.5,137.9 607.9,139.6 608.4,140.3 608.9,140.2 609.3,139.9 609.8,140.8 610.3,141.7 610.8,141.2 611.3,141.3 611.5,144.2 612,140.8 612.5,142.2 612.9,139.4 613.4,142.7 613.9,144.3 614.4,145.8 614.6,143 614.6,143 615.2,142.4 615.3,145 615.9,145.1 616.3,143.3 616.7,144.6 617.3,144.8 617.8,147.6 618.3,145.3 618.6,143.6 619.2,146.4 619.6,146.9 620,144.6 620.2,147.8 620.3,146.1 620.3,148.9 620.9,146.9 620.6,149.5 620.8,149.7 621.4,146.8 621.2,149 622.6,143.9 622,147.9 622.3,147.8 622,150.5 623.7,146.8 622.9,149.7 624.4,146.3 621.9,153.6 623,151.3 623.4,151 622.9,152.8 622.9,152.8 623.9,151.6 624,151.6 624.4,152 625.3,150.2 623.3,155.4 626.2,150.5 622.9,156.6 625.9,152.3 626.4,152.2 624.4,156.5 625.9,154.8 626,155.4 624.5,158.2 624.9,157.9 624.8,158.9 625.3,158.9 625.8,158.7 625.4,159.9 626.6,159.4 626.3,160 626.2,160.6 627.1,160.9 627,161.6 628,161.6 626.3,162.4 626.6,162.7 627.4,163 628.7,163.1 627.9,164.3 628.7,164.6 628.1,165.2 627.9,165.5 628.1,165.8 628.8,166.5 628.5,167.3 628.8,167.4 628.5,167.5 628.5,168.2 629.2,168.4 629,168.8 629.7,169.8 629,170.3 630.2,170.5 630.3,171.2 631,171.5 630.7,172 630.1,172.4 631.3,173.1 631.4,173.8 631.4,174.1 630.8,174.2 631,175 632,175 631.3,175.9 632.1,175.9 631.1,176.5 631.2,176.9 632.3,178 632.5,178.1 632.1,178.7 631.9,178.9 632.7,179.5 633.2,180.3 632.9,180.6 633.1,181 633.8,181.4 632.5,181.9 634,182.2 632.3,182.7 634.5,183.1 634.1,183.6 634.7,184.2 633.8,184.9 634.7,185.6 634.7,185.5 634.3,186.3 634.4,186.3 634.7,187 636.1,188 635.3,188.4 635.4,188.5 635.6,188.6 636.4,189.2 637.1,189.9 636.1,190.1 636.6,190.6 635.7,191.3 637.9,191.3 638.1,192 639.4,192.8 636.1,192.9 636.7,193.9 636.8,194.1 634.3,194.7 637.8,194.7 636.4,195.4 634.6,196 639.6,196.1 637.3,196.8 640.1,197.2 637.4,197.8 639,198 637.9,198.7 640,199 639.2,199.4 637.9,199.8 635.7,200.2 638.1,201.3 637.2,201.3 641,202 639.8,202.1 639.9,202.5 637.2,203.3 640.6,203.4 641,204.1 639.8,204.4 640.1,204.6 639.1,205.5 640.3,205.5 639,206.4 639.1,206.7 640,206.9 640.3,207.7 642.3,208 642.7,208.3 641.9,209.1 638.6,209.4 641.6,209.4 640.9,210.2 642.6,210.3 643.2,211.1 641.8,211.6 643.5,212.3 643.4,212.7 643.5,212.9 643.4,213.3 643.5,214.2 642.9,214.8 646,215.2 643.2,215.5 642.7,215.9 642.2,216.7 644.7,217.3 644.8,217.9 643.6,217.9 644.3,218.6 642.4,219 640.2,219.1 645.1,219.8 642.8,219.6 643.2,220.1 646.6,220.2 645.6,220.8 641.3,220.7 644.8,221.4 645.3,221.5 643.9,222 643.8,221.5 644.1,222.3 644.8,222.5 643.1,223.1 643.2,222.7 648.1,223.1 645.5,223.2 643.9,223.7 643.1,224.1 643.8,224.4 643,224.7 643.1,225.7 644.9,225.7 645.2,226.5 643.7,227.3 644.6,227.9 638,216.1 638.3,220 638.7,215 638.9,208 639.2,216 639.6,217.3 639.8,211 640.2,209.7 640.6,219.1 640.9,252.2 641.3,252.2 641.7,213.7 642,207.3 642.4,216.7 642.6,213.6 642.8,252.2 643.1,208 643.3,252.2 643.7,210.5 644,252.2 644.3,252.2 644.7,221 645.1,252.2 645.6,219.9 646.1,219.4 646.5,252.2 646.9,220.1 647.1,215 647.6,252.2 647.9,216.6 648.1,252.2" fill="none" stroke="#7E2F8E" stroke-width="0.85" stroke-linejoin="round" marker-start="url(#m3)" marker-mid="url(#m3)" marker-end="url(#m3)"/>
</g>
<text x="380.8" y="226" text-anchor="end" font-family="'Liberation Sans', Arial, Helvetica, sans-serif" font-size="7.5" fill="#262626">10<tspan dx="0.5" dy="-3.3" font-size="6.6">-12</tspan></text>
<text x="380.8" y="196.31" text-anchor="end" font-family="'Liberation Sans', Arial, Helvetica, sans-serif" font-size="7.5" fill="#262626">10<tspan dx="0.5" dy="-3.3" font-size="6.6">-11</tspan></text>
<text x="380.8" y="166.63" text-anchor="end" font-family="'Liberation Sans', Arial, Helvetica, sans-serif" font-size="7.5" fill="#262626">10<tspan dx="0.5" dy="-3.3" font-size="6.6">-10</tspan></text>
<text x="380.8" y="136.94" text-anchor="end" font-family="'Liberation Sans', Arial, Helvetica, sans-serif" font-size="7.5" fill="#262626">10<tspan dx="0.5" dy="-3.3" font-size="6.6">-9</tspan></text>
<text x="380.8" y="107.26" text-anchor="end" font-family="'Liberation Sans', Arial, Helvetica, sans-serif" font-size="7.5" fill="#262626">10<tspan dx="0.5" dy="-3.3" font-size="6.6">-8</tspan></text>
<text x="380.8" y="77.57" text-anchor="end" font-family="'Liberation Sans', Arial, Helvetica, sans-serif" font-size="7.5" fill="#262626">10<tspan dx="0.5" dy="-3.3" font-size="6.6">-7</tspan></text>
<text x="380.8" y="47.89" text-anchor="end" font-family="'Liberation Sans', Arial, Helvetica, sans-serif" font-size="7.5" fill="#262626">10<tspan dx="0.5" dy="-3.3" font-size="6.6">-6</tspan></text>
<text x="380.8" y="18.2" text-anchor="end" font-family="'Liberation Sans', Arial, Helvetica, sans-serif" font-size="7.5" fill="#262626">10<tspan dx="0.5" dy="-3.3" font-size="6.6">-5</tspan></text>
<text x="384.4" y="236.4" text-anchor="middle" font-family="'Liberation Sans', Arial, Helvetica, sans-serif" font-size="7.5" fill="#262626">10<tspan dx="0.5" dy="-3.3" font-size="6.6">-2</tspan></text>
<text x="468.3" y="236.4" text-anchor="middle" font-family="'Liberation Sans', Arial, Helvetica, sans-serif" font-size="7.5" fill="#262626">10<tspan dx="0.5" dy="-3.3" font-size="6.6">-1</tspan></text>
<text x="552.2" y="236.4" text-anchor="middle" font-family="'Liberation Sans', Arial, Helvetica, sans-serif" font-size="7.5" fill="#262626">10<tspan dx="0.5" dy="-3.3" font-size="6.6">0</tspan></text>
<text x="636.1" y="236.4" text-anchor="middle" font-family="'Liberation Sans', Arial, Helvetica, sans-serif" font-size="7.5" fill="#262626">10<tspan dx="0.5" dy="-3.3" font-size="6.6">1</tspan></text>
</g>
<g>
<path d="M44.06 284.7V497.1M48.02 284.7V497.1M50.82 284.7V497.1M53 284.7V497.1M54.78 284.7V497.1M56.28 284.7V497.1M57.58 284.7V497.1M58.73 284.7V497.1M66.52 284.7V497.1M70.47 284.7V497.1M73.28 284.7V497.1M75.46 284.7V497.1M77.23 284.7V497.1M78.74 284.7V497.1M80.04 284.7V497.1M81.19 284.7V497.1M88.98 284.7V497.1M92.93 284.7V497.1M95.74 284.7V497.1M97.91 284.7V497.1M99.69 284.7V497.1M101.2 284.7V497.1M102.5 284.7V497.1M103.65 284.7V497.1M111.44 284.7V497.1M115.39 284.7V497.1M118.2 284.7V497.1M120.37 284.7V497.1M122.15 284.7V497.1M123.65 284.7V497.1M124.96 284.7V497.1M126.11 284.7V497.1M133.89 284.7V497.1M137.85 284.7V497.1M140.65 284.7V497.1M142.83 284.7V497.1M144.61 284.7V497.1M146.11 284.7V497.1M147.42 284.7V497.1M148.56 284.7V497.1M156.35 284.7V497.1M160.31 284.7V497.1M163.11 284.7V497.1M165.29 284.7V497.1M167.07 284.7V497.1M168.57 284.7V497.1M169.87 284.7V497.1M171.02 284.7V497.1M178.81 284.7V497.1M182.77 284.7V497.1M185.57 284.7V497.1M187.75 284.7V497.1M189.53 284.7V497.1M191.03 284.7V497.1M192.33 284.7V497.1M193.48 284.7V497.1M201.27 284.7V497.1M205.22 284.7V497.1M208.03 284.7V497.1M210.21 284.7V497.1M211.98 284.7V497.1M213.49 284.7V497.1M214.79 284.7V497.1M215.94 284.7V497.1M223.73 284.7V497.1M227.68 284.7V497.1M230.49 284.7V497.1M232.66 284.7V497.1M234.44 284.7V497.1M235.95 284.7V497.1M237.25 284.7V497.1M238.4 284.7V497.1M246.19 284.7V497.1M250.14 284.7V497.1M252.95 284.7V497.1M255.12 284.7V497.1M256.9 284.7V497.1M258.4 284.7V497.1M259.71 284.7V497.1M260.86 284.7V497.1M268.64 284.7V497.1M272.6 284.7V497.1M275.4 284.7V497.1M277.58 284.7V497.1M279.36 284.7V497.1M280.86 284.7V497.1M282.17 284.7V497.1M283.31 284.7V497.1M291.1 284.7V497.1M295.06 284.7V497.1M297.86 284.7V497.1M300.04 284.7V497.1M301.82 284.7V497.1M303.32 284.7V497.1M304.62 284.7V497.1M305.77 284.7V497.1M37.3 486.44H306.8M37.3 480.21H306.8M37.3 475.79H306.8M37.3 472.36H306.8M37.3 469.55H306.8M37.3 467.18H306.8M37.3 465.13H306.8M37.3 463.32H306.8M37.3 451.04H306.8M37.3 444.81H306.8M37.3 440.39H306.8M37.3 436.96H306.8M37.3 434.15H306.8M37.3 431.78H306.8M37.3 429.73H306.8M37.3 427.92H306.8M37.3 415.64H306.8M37.3 409.41H306.8M37.3 404.99H306.8M37.3 401.56H306.8M37.3 398.75H306.8M37.3 396.38H306.8M37.3 394.33H306.8M37.3 392.52H306.8M37.3 380.24H306.8M37.3 374.01H306.8M37.3 369.59H306.8M37.3 366.16H306.8M37.3 363.35H306.8M37.3 360.98H306.8M37.3 358.93H306.8M37.3 357.12H306.8M37.3 344.84H306.8M37.3 338.61H306.8M37.3 334.19H306.8M37.3 330.76H306.8M37.3 327.95H306.8M37.3 325.58H306.8M37.3 323.53H306.8M37.3 321.72H306.8M37.3 309.44H306.8M37.3 303.21H306.8M37.3 298.79H306.8M37.3 295.36H306.8M37.3 292.55H306.8M37.3 290.18H306.8M37.3 288.13H306.8M37.3 286.32H306.8" stroke="#c4c4c4" stroke-width="0.5" stroke-dasharray="0.6 1.6" fill="none"/>
<path d="M59.76 284.7V497.1M82.22 284.7V497.1M104.67 284.7V497.1M127.13 284.7V497.1M149.59 284.7V497.1M172.05 284.7V497.1M194.51 284.7V497.1M216.97 284.7V497.1M239.43 284.7V497.1M261.88 284.7V497.1M284.34 284.7V497.1M37.3 461.7H306.8M37.3 426.3H306.8M37.3 390.9H306.8M37.3 355.5H306.8M37.3 320.1H306.8" stroke="#e2e2e2" stroke-width="0.6" fill="none"/>
<clipPath id="c2"><rect x="37.3" y="283.7" width="272.5" height="214.9"/></clipPath>
<path d="M37.3 497.1v-2.6M37.3 284.7v2.6M44.06 497.1v-1.4M44.06 284.7v1.4M48.02 497.1v-1.4M48.02 284.7v1.4M50.82 497.1v-1.4M50.82 284.7v1.4M53 497.1v-1.4M53 284.7v1.4M54.78 497.1v-1.4M54.78 284.7v1.4M56.28 497.1v-1.4M56.28 284.7v1.4M57.58 497.1v-1.4M57.58 284.7v1.4M58.73 497.1v-1.4M58.73 284.7v1.4M59.76 497.1v-2.6M59.76 284.7v2.6M66.52 497.1v-1.4M66.52 284.7v1.4M70.47 497.1v-1.4M70.47 284.7v1.4M73.28 497.1v-1.4M73.28 284.7v1.4M75.46 497.1v-1.4M75.46 284.7v1.4M77.23 497.1v-1.4M77.23 284.7v1.4M78.74 497.1v-1.4M78.74 284.7v1.4M80.04 497.1v-1.4M80.04 284.7v1.4M81.19 497.1v-1.4M81.19 284.7v1.4M82.22 497.1v-2.6M82.22 284.7v2.6M88.98 497.1v-1.4M88.98 284.7v1.4M92.93 497.1v-1.4M92.93 284.7v1.4M95.74 497.1v-1.4M95.74 284.7v1.4M97.91 497.1v-1.4M97.91 284.7v1.4M99.69 497.1v-1.4M99.69 284.7v1.4M101.2 497.1v-1.4M101.2 284.7v1.4M102.5 497.1v-1.4M102.5 284.7v1.4M103.65 497.1v-1.4M103.65 284.7v1.4M104.67 497.1v-2.6M104.67 284.7v2.6M111.44 497.1v-1.4M111.44 284.7v1.4M115.39 497.1v-1.4M115.39 284.7v1.4M118.2 497.1v-1.4M118.2 284.7v1.4M120.37 497.1v-1.4M120.37 284.7v1.4M122.15 497.1v-1.4M122.15 284.7v1.4M123.65 497.1v-1.4M123.65 284.7v1.4M124.96 497.1v-1.4M124.96 284.7v1.4M126.11 497.1v-1.4M126.11 284.7v1.4M127.13 497.1v-2.6M127.13 284.7v2.6M133.89 497.1v-1.4M133.89 284.7v1.4M137.85 497.1v-1.4M137.85 284.7v1.4M140.65 497.1v-1.4M140.65 284.7v1.4M142.83 497.1v-1.4M142.83 284.7v1.4M144.61 497.1v-1.4M144.61 284.7v1.4M146.11 497.1v-1.4M146.11 284.7v1.4M147.42 497.1v-1.4M147.42 284.7v1.4M148.56 497.1v-1.4M148.56 284.7v1.4M149.59 497.1v-2.6M149.59 284.7v2.6M156.35 497.1v-1.4M156.35 284.7v1.4M160.31 497.1v-1.4M160.31 284.7v1.4M163.11 497.1v-1.4M163.11 284.7v1.4M165.29 497.1v-1.4M165.29 284.7v1.4M167.07 497.1v-1.4M167.07 284.7v1.4M168.57 497.1v-1.4M168.57 284.7v1.4M169.87 497.1v-1.4M169.87 284.7v1.4M171.02 497.1v-1.4M171.02 284.7v1.4M172.05 497.1v-2.6M172.05 284.7v2.6M178.81 497.1v-1.4M178.81 284.7v1.4M182.77 497.1v-1.4M182.77 284.7v1.4M185.57 497.1v-1.4M185.57 284.7v1.4M187.75 497.1v-1.4M187.75 284.7v1.4M189.53 497.1v-1.4M189.53 284.7v1.4M191.03 497.1v-1.4M191.03 284.7v1.4M192.33 497.1v-1.4M192.33 284.7v1.4M193.48 497.1v-1.4M193.48 284.7v1.4M194.51 497.1v-2.6M194.51 284.7v2.6M201.27 497.1v-1.4M201.27 284.7v1.4M205.22 497.1v-1.4M205.22 284.7v1.4M208.03 497.1v-1.4M208.03 284.7v1.4M210.21 497.1v-1.4M210.21 284.7v1.4M211.98 497.1v-1.4M211.98 284.7v1.4M213.49 497.1v-1.4M213.49 284.7v1.4M214.79 497.1v-1.4M214.79 284.7v1.4M215.94 497.1v-1.4M215.94 284.7v1.4M216.97 497.1v-2.6M216.97 284.7v2.6M223.73 497.1v-1.4M223.73 284.7v1.4M227.68 497.1v-1.4M227.68 284.7v1.4M230.49 497.1v-1.4M230.49 284.7v1.4M232.66 497.1v-1.4M232.66 284.7v1.4M234.44 497.1v-1.4M234.44 284.7v1.4M235.95 497.1v-1.4M235.95 284.7v1.4M237.25 497.1v-1.4M237.25 284.7v1.4M238.4 497.1v-1.4M238.4 284.7v1.4M239.43 497.1v-2.6M239.43 284.7v2.6M246.19 497.1v-1.4M246.19 284.7v1.4M250.14 497.1v-1.4M250.14 284.7v1.4M252.95 497.1v-1.4M252.95 284.7v1.4M255.12 497.1v-1.4M255.12 284.7v1.4M256.9 497.1v-1.4M256.9 284.7v1.4M258.4 497.1v-1.4M258.4 284.7v1.4M259.71 497.1v-1.4M259.71 284.7v1.4M260.86 497.1v-1.4M260.86 284.7v1.4M261.88 497.1v-2.6M261.88 284.7v2.6M268.64 497.1v-1.4M268.64 284.7v1.4M272.6 497.1v-1.4M272.6 284.7v1.4M275.4 497.1v-1.4M275.4 284.7v1.4M277.58 497.1v-1.4M277.58 284.7v1.4M279.36 497.1v-1.4M279.36 284.7v1.4M280.86 497.1v-1.4M280.86 284.7v1.4M282.17 497.1v-1.4M282.17 284.7v1.4M283.31 497.1v-1.4M283.31 284.7v1.4M284.34 497.1v-2.6M284.34 284.7v2.6M291.1 497.1v-1.4M291.1 284.7v1.4M295.06 497.1v-1.4M295.06 284.7v1.4M297.86 497.1v-1.4M297.86 284.7v1.4M300.04 497.1v-1.4M300.04 284.7v1.4M301.82 497.1v-1.4M301.82 284.7v1.4M303.32 497.1v-1.4M303.32 284.7v1.4M304.62 497.1v-1.4M304.62 284.7v1.4M305.77 497.1v-1.4M305.77 284.7v1.4M306.8 497.1v-2.6M306.8 284.7v2.6M37.3 497.1h2.6M306.8 497.1h-2.6M37.3 486.44h1.4M306.8 486.44h-1.4M37.3 480.21h1.4M306.8 480.21h-1.4M37.3 475.79h1.4M306.8 475.79h-1.4M37.3 472.36h1.4M306.8 472.36h-1.4M37.3 469.55h1.4M306.8 469.55h-1.4M37.3 467.18h1.4M306.8 467.18h-1.4M37.3 465.13h1.4M306.8 465.13h-1.4M37.3 463.32h1.4M306.8 463.32h-1.4M37.3 461.7h2.6M306.8 461.7h-2.6M37.3 451.04h1.4M306.8 451.04h-1.4M37.3 444.81h1.4M306.8 444.81h-1.4M37.3 440.39h1.4M306.8 440.39h-1.4M37.3 436.96h1.4M306.8 436.96h-1.4M37.3 434.15h1.4M306.8 434.15h-1.4M37.3 431.78h1.4M306.8 431.78h-1.4M37.3 429.73h1.4M306.8 429.73h-1.4M37.3 427.92h1.4M306.8 427.92h-1.4M37.3 426.3h2.6M306.8 426.3h-2.6M37.3 415.64h1.4M306.8 415.64h-1.4M37.3 409.41h1.4M306.8 409.41h-1.4M37.3 404.99h1.4M306.8 404.99h-1.4M37.3 401.56h1.4M306.8 401.56h-1.4M37.3 398.75h1.4M306.8 398.75h-1.4M37.3 396.38h1.4M306.8 396.38h-1.4M37.3 394.33h1.4M306.8 394.33h-1.4M37.3 392.52h1.4M306.8 392.52h-1.4M37.3 390.9h2.6M306.8 390.9h-2.6M37.3 380.24h1.4M306.8 380.24h-1.4M37.3 374.01h1.4M306.8 374.01h-1.4M37.3 369.59h1.4M306.8 369.59h-1.4M37.3 366.16h1.4M306.8 366.16h-1.4M37.3 363.35h1.4M306.8 363.35h-1.4M37.3 360.98h1.4M306.8 360.98h-1.4M37.3 358.93h1.4M306.8 358.93h-1.4M37.3 357.12h1.4M306.8 357.12h-1.4M37.3 355.5h2.6M306.8 355.5h-2.6M37.3 344.84h1.4M306.8 344.84h-1.4M37.3 338.61h1.4M306.8 338.61h-1.4M37.3 334.19h1.4M306.8 334.19h-1.4M37.3 330.76h1.4M306.8 330.76h-1.4M37.3 327.95h1.4M306.8 327.95h-1.4M37.3 325.58h1.4M306.8 325.58h-1.4M37.3 323.53h1.4M306.8 323.53h-1.4M37.3 321.72h1.4M306.8 321.72h-1.4M37.3 320.1h2.6M306.8 320.1h-2.6M37.3 309.44h1.4M306.8 309.44h-1.4M37.3 303.21h1.4M306.8 303.21h-1.4M37.3 298.79h1.4M306.8 298.79h-1.4M37.3 295.36h1.4M306.8 295.36h-1.4M37.3 292.55h1.4M306.8 292.55h-1.4M37.3 290.18h1.4M306.8 290.18h-1.4M37.3 288.13h1.4M306.8 288.13h-1.4M37.3 286.32h1.4M306.8 286.32h-1.4M37.3 284.7h2.6M306.8 284.7h-2.6" stroke="#262626" stroke-width="0.6" fill="none"/>
<rect x="37.3" y="284.7" width="269.5" height="212.4" fill="none" stroke="#262626" stroke-width="0.8"/>
<g clip-path="url(#c2)">
<polyline points="51.3,394 51,424 51.3,446 52.5,440 53.1,455.1 52.9,453.5 53.1,452.7 53,451.6 53.1,449.7 53.2,448.5 52.9,448.1 53,446.3 52.9,445.1 52.4,444.2 52.7,442.3 52.5,441.2 52.7,439.9 52.7,438.9 52.8,437.8 52.7,436 53.1,434.7 53.4,433.3 52.8,432.4 53.7,431.3 53.7,430.3 53.3,429.1 53.9,427.7 53.6,425.7 54.2,424.7 54,423 53.8,421.8 53.7,420.3 54.4,419.4 54.5,417.8 54.7,416.6 55.2,415 55.8,414.1 55.5,412.5 56.1,411.4 56.2,409.8 56.5,408.3 56.5,407.3 57.4,405.5 57.7,404.5 57.6,403.6 57.9,401.7 58.3,400.9 58.4,399.6 59.1,398.5 59.6,397.4 59.7,396.3 60.3,394.8 60.4,394.1 61,392.4 61.5,391.2 61.2,390.5 61.9,389.2 62.5,387.8 62.6,386.7 62.9,386.3 63.3,386 62.8,385.2 63.7,384.2 63.9,383.9 63.9,383.1 63.9,382.2 64.1,381.7 64,380.7 64.8,380.3 64.8,379.5 65,379.2 65.7,378.1 65.7,377.2 65.3,376.7 66,376.2 66.1,375.1 66.5,374.2 66.4,373.6 66.3,372.7 67.3,371.9 67.2,371 68,370.7 67.3,370 68.2,368.8 67.8,368.2 68.4,367.5 68.2,366.6 69,366.2 68.9,365.1 68.7,364.2 69,363.9 69.6,362.9 69.1,362.5 69.6,361.5 69.5,360.7 69.5,360.4 70.1,359.7 70.4,358.9 70.2,358 70.8,356.5 71.1,356.2 70.7,355.4 71.4,354.7 71.5,354.1 71.3,353.2 71.7,352.5 72.4,351.9 72.1,351.1 72.4,350 72.1,349.3 72.7,348.8 73,348 73.1,347.2 73.1,346.3 73.6,345.5 73.6,345 74.2,343.9 74.2,343.1 74.6,342.7 74.4,342 74.9,340.7 75.2,340.5 75.1,339.9 75.4,339.7 75.6,339 76,338.3 75.3,337.7 76.2,337.6 76,337.3 76.5,336.8 76.2,336.3 75.8,336 76.4,335.6 77.2,335.1 76.7,334.5 77.2,334.1 76.8,333.5 77.1,333.2 77.6,332.7 77.6,332.4 77.8,331.6 78,331.3 77.9,330.7 77.8,330.1 77.8,329.7 78.7,329 78.5,328.6 78.5,328.4 78.8,328 78.7,327.1 79.2,327 79.4,326.9 79.4,325.9 79.8,325.8 80.1,325.4 79.7,324.5 80.2,324.3 80.2,323.5 80.2,323.6 80.2,322.8 80.3,322.2 80.2,321.7 81,321.6 81.3,320.9 81.4,320.4 81.2,320.2 81.4,319.7 81.6,319.4 81.7,319 82,318.2 82,318 82.2,317.6 82.7,316.8 83,316.8 83,316.4 82.5,316 82.9,315.2 83,314.9 83.1,314.6 83.9,314.2 83.3,313.7 83.6,313.4 84.3,312.9 83.7,312.6 84.1,312.2 84.6,311.5 84.6,311.3 85.2,310.6 84.7,310.3 85.1,309.5 85.4,309.6 85.4,308.8 85.9,308.3 85.7,308.1 86.4,307.8 86,307.1 86.4,306.6 86,306.4 86.3,306.1 86.4,305.6 87.3,305 86.9,304.9 87.6,304.1 87.4,304.1 87.6,303.4 87.7,303.3 87.9,303 88,302.3 88.2,301.5 88.4,301.4 88.6,300.7 89.4,300.3 89.5,299.6 89.7,299.1 89.6,298 90.5,297.6 90.4,297.1 90.4,296.4 91.1,296 91.1,295.2 91.3,294.4 91.8,293.7 91.7,292.8 92,292.2 92.9,292.4 93.2,291.5 93.6,290.8 94.2,290.8 94.8,290.3 95.2,289.1 95.5,289.3 96.2,289.6 96.4,289.1 97.1,288.8 97.4,288.4 98,288.9 98.3,288.3 98.7,288.9 99,287.8 99.3,288 99.8,288 100.2,288.1 100.5,288.3 100.9,288.4 101.2,289.3 101.6,289.5 101.8,289.5 102.2,289.8 102.4,290.3 102.6,290.4 103.2,290.4 103.5,290.6 103.6,290.7 104.2,291.4 104.4,291.4 104.8,292.1 104.9,292.1 105.1,292.9 105.6,292.4 105.8,293.1 106.1,293.3 106.5,293.7 106.7,294.1 107.2,294.3 107.6,295.1 107.9,296 108.4,296.2 108.7,296.8 109.1,296.8 109.4,297 109.6,297.4 110,298.1 110.5,298.3 110.8,298.3 111.1,298.8 111.7,298.4 112.2,298.8 112.5,299.1 112.8,299.5 113.4,299.7 113.5,299.2 114,300.1 114.6,299.5 115.1,299.3 115.7,299.8 116,299.9 116.7,300.3 117,299.8 117.6,300.1 117.8,300.3 118.3,299.8 118.9,299.8 119.3,299.8 120.1,299.7 120.3,300.4 120.8,300.2 121.1,299.6 121.9,300.4 122.4,299.8 122.8,299.3 123.3,299.9 123.6,299.7 123.9,299.2 124.6,300.1 125.1,299.6 125.3,299.7 125.8,299.9 126.4,300 126.8,300.1 127,299.8 127.6,299.9 127.9,300 128.5,300 128.9,300.2 129.4,299.7 129.9,300.1 130.6,299.4 131,299.5 131.4,299.7 131.8,300.4 132.1,300.2 132.4,299.8 133.1,300 133.4,300.1 134,299.8 134.4,300 134.7,299.8 135.2,300.2 135.7,300 136.2,299.7 136.6,299.6 137.1,300.1 137.5,299.6 137.9,300.1 138.3,299.5 138.9,299.7 139.4,299.8 139.7,300.2 139.9,299.8 140.6,300 140.8,299.4 141.2,299.8 141.9,299.2 142,299.5 142.6,299.9 143.2,299.8 143.8,300 144.2,299.3 144.5,300 145.1,299.6 145.6,299.8 146,299.5 146.5,299.2 146.7,298.9 147.5,298.9 147.9,298.9 148.3,299 148.8,299.1 149.3,299.2 149.8,299 150.2,298.9 150.7,299 151.3,299.1 151.5,298.9 152.1,298.9 152.5,298.6 152.9,298.1 153.5,299.4 153.9,298.9 154.3,299.2 154.9,299.1 155.2,298.8 155.6,299.4 156.2,299.2 156.5,299.3 157.2,299.5 157.7,299.3 157.8,299 158.2,299.6 158.7,299.3 159.3,299.3 160,299.1 160.6,299.2 161.1,299.7 161.3,299.8 161.8,299.7 162.2,299.8 162.5,299.2 162.9,299.1 163.1,299.7 163.6,299.5 164.2,300.3 164.7,299.6 164.9,299.7 165.4,300 165.7,299.8 166.3,300.4 166.7,299.9 167.5,299.7 167.8,300 168.1,299.4 168.5,299.9 169,299.5 169.3,299.9 169.6,300.7 170.3,299.7 170.6,299.9 171.1,299.7 171.6,300.3 172.1,299.7 172.5,299.9 173.2,300.5 173.4,299.7 173.9,300 174.6,299.6 175.1,299.9 175.6,299.8 176,299.4 176.7,299.5 176.9,298.8 177.4,299.9 177.7,299.6 178.3,299.6 178.5,299.5 179.3,299.7 179.6,299.2 179.9,298.9 180.2,298.8 180.5,299.1 181.1,299.6 181.6,298.8 182.7,306.4 183.1,311 183.7,314.3 183.8,330 184.3,323.5 184.6,310.2 185.2,305.4 186,301.9 186.5,301.6 186.7,301.8 187.2,302 187.5,302.5 188.1,301.8 188.6,301.8 188.9,301.3 189.2,301.9 189.8,301.9 190.1,301.8 190.5,301.6 190.9,301.3 191.4,301.8 191.7,301.2 192,301.4 192.5,301.2 193,301.6 194,303.6 194.6,307.5 194.7,310.5 195.3,314.6 195.6,311.1 196,306.6 196.6,303.7 197.1,300.7 197.7,300.8 198.3,300.9 198.6,300.2 198.8,301.1 199.5,300.6 199.9,301 200.4,300.6 200.6,300.2 200.7,300.4 201.4,307.2 201.9,312.2 202,311.2 202.6,319.7 203.1,314.5 203.4,311.5 203.7,306.7 204.6,304.6 205.1,304.6 205.2,304.9 206,304.9 206.4,304.1 207,303.7 207.5,304.3 208.1,304.2 208.6,304.9 209,303.6 209.3,304.7 209.7,304.3 210.3,303.8 210.9,304 211.1,304 211.4,304.2 212.3,306.2 213,309.5 213.4,312.9 213.7,315.9 214.2,313.3 214.6,309.7 214.8,306.7 216.1,304.6 216.4,304 216.8,305.2 217.3,305.5 217.7,304.7 218.1,304.4 218.6,305 219,304.6 219.2,304.1 219.9,305.1 220.2,304.3 220.7,304.4 221,304.9 221.3,304.4 221.7,306.2 222.4,305.9 223.1,305.9 223.3,305.4 223.8,306.2 224.4,305.2 225.1,306.2 225.6,309.4 226.3,315.5 226.3,313 226.7,317.5 226.9,324.6 227.4,320.8 227.9,316.2 228.2,311.2 228.8,307 229.1,306.7 229.6,307.7 230.1,308 230.4,307.7 231,308.2 231.8,310.5 232.3,313.1 232.6,316.5 233,322 233.5,316.2 233.9,313.8 234.3,310.4 235.2,308.9 235.7,309.1 236,309.2 236.5,310.1 237,307.9 237.5,308.6 238,308.6 238.5,309.1 239,308.5 239.5,308.7 239.7,308.6 240.2,308.6 240.7,309.1 241.5,309.3 241.7,310.1 242.3,309.2 242.7,309.7 243.4,309.2 243.8,309 244.1,309.3 244.6,308.9 244.9,310.1 245.5,310.2 245.5,309.7 245.7,310.7 245.8,311.3 246,310.6 246.1,312.3 246.3,312.3 246.4,313.2 246.5,313.5 246.7,313.3 246.8,314.9 247,315.1 247.1,315.1 247.4,315.4 247.8,315.1 248.3,314 249,314.2 249.5,314.4 249.9,313.6 250.3,313.9 250.9,314.6 251.7,314.9 252.2,318.1 252.5,319.4 252.7,326.2 253,320.9 253.7,320.1 254,314.8 254.8,311.1 255.1,311.3 255.4,311.4 256.1,312.5 256.6,312.2 257,310.6 257.6,311.3 257.9,311.3 258.5,310.9 258.7,312.3 259.4,315.5 260.1,319.1 260.3,322.2 260.8,327.9 261.1,324.3 261.8,319.8 262.1,316.6 263,313.5 263.3,314.5 263.8,313 264.1,314.1 264.4,314 264.7,312.7 265.2,313 265.3,312.6 265.8,312 266.1,311.6 266.4,310.5 266.7,310.7 267.1,310.7 267.5,310 267.9,309.2 267.9,310 268.3,309.9 268.4,310.4 268.8,308.8 268.9,309.2 269.2,308.6 269.3,308.1 269.6,308 269.7,307.7 270.1,307.6 270.4,307.6 270.6,308.7 270.8,308.7 270.8,310.1 271.2,310.3 271.1,311.9 271.4,311.9 272.1,311.8 271.9,313.7 271.9,314.3 272.5,316 273,316.6 273,318.1 273.3,319.3 273.6,319.6 273.8,320.2 274,320.8 274.3,321.3 274.2,321.5 274.1,322.2 274.6,322.1 274.7,323 274.8,323.6 274.6,323.5 274.9,324.3 275.7,324.5 275.1,325.1 275.3,325.7 275.6,325.9 276,326.3 275.6,326.6 275.5,327.4 276,327.6 275.6,327.7 275.5,328.5 276.3,328.7 275.9,329.4 276.7,329.5 276.4,329.9 276.9,330.4 276.7,331 276.5,331.3 276.7,331.5 276.8,332 276.9,332.2 276.8,333 277.6,333.2 277.3,333.7 277.6,334.3 277.4,334.5 278.3,334.7 277.8,335.5 278.2,335.5 278.3,336 278,336.9 278.7,337.4 278.3,337.7 279.1,337.8 278.9,338.5 278.5,338.9 278.7,339.4 279.3,340.2 279.4,340.6 279.6,340.6 278.8,340.9 279.2,341.8 279.2,341.8 279.4,342.5 280,342.7 279.5,342.9 279.6,343.7 279.6,344.4 280.4,344.9 280.3,345 280.3,345.6 280.3,346.4 280.6,346.8 280.7,347.6 280.9,347.6 280.8,348.3 281,348.6 280.7,349.1 280.6,349.8 281.2,349.9 281.7,350.7 281.7,350.8 282.1,351.4 281.6,352.1 281.5,352.4 281.6,352.5 281.9,353.4 281.6,353.4 281.9,354 282,354.5 282.1,354.8 282.4,355.2 282.2,355.8 282.5,356.3 282.9,357 283,357.1 282.8,357.7 282.9,358.2 282.7,358.5 283.1,359 283.4,359.4 282.9,360.4 283.1,360.8 283.1,361 283.4,361.5 283.6,362 283.3,362.8 283.4,362.9 283.5,363.9 283.2,364.1 283.7,364.7 283.2,365.2 283.6,365.6 283.6,366.3 284,366.9 283.7,367.1 284.1,367.7 283.9,368.6 283.9,369 283.3,369.4 283.8,369.6 283.9,369.9 284.2,370.2 283.9,370.9 284.2,371.3 283.7,371.8 283.8,372.3 284,372.6 284.3,373.4 284.4,374 284,374.2 284.2,374.8 283.9,375.2 284.4,375.8 283.9,375.8 283.8,376.3 283.8,376.7 284.2,377.1 283.8,377.7 284.4,378.5 284.6,378.8 284.5,379.1 284.6,379.3 284,379.9 283.9,380.3 284,380.7 284,381.1 283.3,381.8 283.1,382.1 283.3,382.3 283,382.9 282.7,383.3 282.5,384 282.3,384.1 281.9,385 281.9,385.5 281.6,385.4 285,365 286.5,340 287,326 287.3,320 287.5,335" fill="none" stroke="#0072BD" stroke-width="0.85" stroke-linejoin="round" marker-start="url(#m0)" marker-mid="url(#m0)" marker-end="url(#m0)"/>
<polyline points="51.6,398.7 51.5,430 52,448 53,441 53.3,454.7 53.3,453.5 53.1,452.8 53.2,451.5 53.1,450.1 53.4,448.7 52.9,448.1 53.3,446.6 52.9,444.9 52.9,444.2 53.4,442.3 52.8,440.9 53.1,439.8 53.6,438.5 53.4,437.8 53.3,436.2 53.3,434.4 53.4,433.4 53.4,432.5 54.2,431.4 54.1,430.2 54.4,429.1 54.1,427.5 54.2,426.2 55,424.5 54.7,422.8 55.1,421.7 54.5,420.8 55.2,419.3 55.6,417.7 55.9,416.9 56.4,415.4 56.7,414.3 57.1,412.4 57.5,411.3 57.1,409.6 57.5,408.2 58.5,407.4 58.8,405.9 59.1,404.3 59,403.2 59.5,401.6 59.1,400.7 59.5,399.6 60.5,398.5 60.3,397.6 61,396.2 61.6,394.9 61.4,394 61.7,392.5 61.5,391.5 61.9,390.5 63.2,389 63.6,387.9 63.4,387.1 63.8,386.4 63.9,385.7 63.9,385.2 64.6,384.3 65.3,383.7 64.4,383.1 64.8,382.5 64.4,381.2 65.5,381 65.4,379.9 65.9,379.3 65.4,378.8 66,377.9 66.1,377.4 66.7,376.3 66.7,375.8 67,375.3 67.5,374.1 67.4,373.3 68.4,372.7 68.5,371.8 68.6,371.4 68.8,370.2 68.6,369.9 68.6,369 69,368.3 69.4,367.4 68.8,366.7 69.6,366.2 69.9,364.7 70.1,364.5 70.2,363.6 70,363.1 71.1,362.4 70.9,362 71.2,360.9 71,360.4 71.1,359.5 71.2,358.9 71.5,357.5 71.3,356.9 72,356 72.1,355.6 72.2,354.6 72.2,353.9 73.1,353.1 72.7,352.8 73.8,351.7 73.2,350.9 73.7,349.9 73.8,349.2 74,349 74.1,348 74.1,347.2 74.5,346.3 74.3,345.8 74.6,344.8 74.9,343.9 76,343 75.8,342.8 75.1,341.9 76.5,340.6 76,340 76.4,339.8 76.7,339.5 77.2,339.2 76.7,338.2 76.9,338.2 76.9,337.6 77.3,337.3 76.4,336.3 78,336.1 77.1,336.1 77.8,335.3 78,335.3 77.6,334.5 78.1,333.8 78.4,333.5 78,332.9 78.5,332.8 79.1,332.3 78.5,332 78.9,331.6 79.3,330.5 78.9,330.5 79.1,329.9 79.2,329.4 79.2,329.1 80.1,328.6 79.2,327.9 80.7,327.1 79.5,326.9 80.7,326.8 80.3,325.8 80.6,325.6 80.3,325.2 80.7,324.9 81,324.4 81,323.8 80.6,323.5 81.1,323.1 81.4,322.5 81.3,321.9 81.6,321.7 81.4,321.1 82.2,320.6 82.2,320 82.7,319.8 82,319.5 82.6,318.7 83.1,318.5 83.5,317.9 83,317.6 83.5,317.3 83.3,316.8 83.9,316.1 83.7,316 83.6,315.2 83.9,315.4 84.2,314.7 84,314.4 84.6,313.9 84.7,313.6 84.3,313 85.2,312.4 85.3,312.1 85.7,312 85.3,311.2 86,310.8 85.5,310.1 85.9,309.7 85.9,309.2 86.7,308.9 86.4,308.6 86.7,307.9 87.2,307.4 87.4,307.4 87.1,307.1 86.8,306.6 87.7,305.7 88.1,305.5 88.1,305.1 87.9,304.6 87.9,304.4 88.8,304.2 88.3,303.5 88.6,303.3 88.4,302.8 89.1,302.5 89.1,301.9 89.7,301.8 90,301 90.2,300.4 90.3,300 90.2,299.2 91,299.1 91.1,298 91.4,297.8 92,297.9 91.9,297.3 92,296.4 91.9,295.7 92.6,295.6 93,295.4 93.1,294.5 93.3,293.7 93.8,293.3 94.3,293.1 94.4,292.5 94.7,292.5 95.4,292.1 95.5,291.9 95.9,291.6 96.6,291.4 97.1,291.1 97.6,291.3 97.8,290.9 98.4,291.2 98.7,290.7 99,290.7 99.4,290.3 99.8,290.4 100.3,290.7 100.7,290.7 101,291.8 101.2,291.8 101.6,291.3 101.8,292.5 102.3,292.5 102.6,292.7 102.7,292.8 103.2,293.3 103.5,293.5 103.7,293.4 104.1,294 104.4,294.2 104.7,294.9 105,294.8 105.2,295.4 105.5,295.6 105.9,295.7 106.2,296.1 106.6,296.8 107,296.9 107.2,297.1 107.5,297.9 108.1,297.8 108.4,298.7 108.6,298.9 109,299.6 109.2,299.3 109.7,299.9 110.1,300.6 110.5,300.3 110.6,300.7 111.4,300.8 111.6,301.1 112.1,301.3 112.6,301.9 112.8,301.7 113.1,302.1 113.6,302 114.2,302.4 114.5,302.9 115.1,302.3 115.6,302.6 116.1,302.9 116.6,302.9 117,302.7 117.5,302.5 117.7,302.8 118.3,302.4 118.9,302.8 119.5,302.4 119.9,302.5 120.4,302.8 120.8,302.2 121.3,303.3 121.8,302.6 122.2,302.8 122.8,302.3 123.3,302.8 123.8,302.7 124,302.6 124.4,302.2 124.9,302.8 125.4,302.7 126,302.7 126.4,302.4 126.7,302.5 127.2,302.7 127.6,303.2 128.1,303.2 128.6,302.9 128.9,302.7 129.4,302.7 130,302.3 130.5,303 131,302.3 131.5,302.9 131.8,302.6 132,302.7 132.4,303.1 133,302.7 133.4,302.8 133.9,302.3 134.4,302.4 134.7,302.8 135.3,302.7 135.7,302.2 136.1,302.6 136.7,302.8 137.1,302.1 137.6,302.1 138,302.7 138.3,302.9 138.9,302.3 139.3,302.9 139.7,302.5 140.1,302.4 140.5,302 140.9,302.9 141.4,303.1 141.9,302.5 142.3,302.6 142.8,302.8 143.3,302.4 143.6,302.6 144.3,302.8 144.7,302.1 145,301.9 145.5,302.1 145.8,302.2 146.3,302.1 146.8,302.3 147.2,302.2 147.6,302.5 148.4,302.7 148.9,302.4 149.4,302.1 149.8,302.4 150.5,302.1 150.9,302 151.2,301.9 151.6,302 152,302.5 152.3,302.2 153.1,301.9 153.5,301.9 154.1,302.2 154.5,302.2 154.8,302 155.1,302.3 155.8,302.8 156.2,301.8 156.7,302.2 157,301.7 157.5,302.3 158,302.7 158.1,302.7 158.7,303 159.2,302.3 160,302.3 160.4,302.5 160.8,302.1 161.4,302.6 161.8,302.5 162.2,302.7 162.6,303 163,303 163.2,302.3 163.7,302.5 164.3,302.4 164.6,302.2 164.9,302.9 165.3,302.6 165.9,303.2 166.5,303 166.9,302.7 167.5,303.1 167.9,303.2 168.1,303 168.4,302.3 169,303.1 169.4,302.8 169.7,303.3 170.2,303.3 170.7,303.2 171.2,303.2 171.6,302.6 172.1,303 172.7,303.3 173.1,303.2 173.6,302.8 174.1,302.8 174.6,302.6 175.2,302.9 175.5,302.8 176.1,302.7 176.6,303.2 177,302.4 177.4,302.8 177.8,302.8 178.4,302.6 178.7,302.8 179.1,303.5 179.7,303 180,302.5 180.2,302.6 180.5,302.5 181.1,302.2 181.8,302 182.7,309 183.2,320.6 183.5,320.9 184.1,335.6 184.5,325.8 184.8,320.6 185.3,309.7 186,304.5 186.4,304.3 186.8,303.6 187.1,305.1 187.7,304 188.2,304.6 188.5,303.8 189,304.1 189.4,304.2 189.7,303.4 189.9,304.1 190.3,304.5 190.9,304.1 191.1,304.5 191.7,303.9 192.1,303.8 192.5,303.9 193,303.4 193.4,304.7 193.9,306.4 194.3,307.7 194.8,311.9 195.2,317.3 195.5,311.8 196.1,310.2 196.6,305.3 197.1,303.2 197.7,304.2 198.2,303.3 198.5,303.9 198.9,303.4 199.5,302.5 200,304.2 200.5,302.8 200.5,302.6 200.6,303.2 201.2,309.7 201.5,314.1 202,316.4 202.6,322.9 203,313.5 203.5,314.5 203.8,309.4 204.4,307.2 204.6,308.1 204.9,306.8 205.4,306.5 205.9,307.7 206.3,307.6 206.9,307.3 207.6,307.7 207.9,306.7 208.5,306.8 209,306.7 209.3,307.3 209.8,307.1 210.1,307.3 210.8,308.5 211.3,307.9 211.6,306.5 212.5,310 212.9,311.3 213.3,312.3 213.6,318.4 214,313.7 214.4,312.6 215,309.5 216,307.8 216.4,308.3 216.8,307.1 217.1,306.1 217.5,307.4 218,306.9 218.6,307.4 219,305.5 219.3,307.2 219.9,306.5 220.4,307.7 220.5,307.2 221,306.9 221.5,307.2 221.8,307.8 222.3,307.2 223,308.3 223.4,307.8 223.7,308.4 224.3,308.2 224.8,307.6 225.2,308.4 225.6,313.1 226.3,316.6 226.3,314.6 226.6,320.4 226.9,328.2 227.6,324.1 228,315.5 228.3,313.6 228.9,309.8 229.1,309.8 229.6,310.3 230.2,309.4 230.6,310.1 230.9,309.1 231.9,313.2 232.1,315.2 232.6,320.1 233.2,324.9 233.2,321.9 233.8,317.1 234.2,314.4 235.1,311.5 235.7,312 236.2,312 236.5,311.3 237,312.3 237.3,312.2 237.8,311.5 238.6,311.4 239,312.6 239.2,312 239.9,311.6 240.2,312.7 240.7,311.9 241.5,311.7 241.8,311.8 242.3,313.1 242.7,312.7 243.4,313.5 243.8,313.3 244,312.9 244.3,313 245.1,314.5 245.4,312.2 245.6,313.4 245.6,313.3 245.8,315.7 245.9,315.3 246.1,314.6 246.4,315.3 246.3,316.3 246.4,317 246.6,317.4 246.9,318.6 246.8,318 247.3,318.9 247.5,318 247.9,318 248.4,317 248.9,317.3 249.6,318.4 249.9,316.9 250.2,317.3 250.9,315.8 251.7,319.6 252,321.1 252.5,326.6 252.6,329.5 253.3,323.5 253.5,321 254,318.6 254.7,314.6 255,314.4 255.6,315.3 255.9,315.7 256.6,314.7 257,314.4 257.5,314.4 258.1,315 258.3,315.1 258.8,316.2 259.5,320.1 259.9,321.1 260.6,324.6 260.6,331.2 261.2,324.6 261.5,324.2 261.9,319 263,316.7 263.5,316.5 263.6,315.6 264,314.2 264.5,317.2 264.9,315.3 265.2,315.4 265.4,316.7 265.7,315.3 266.2,313.9 266.4,316 266.8,315.3 267,315.3 267.3,313.3 267.6,314 268,312.9 268.4,312.9 268.5,313.3 268.6,312 268.8,312.1 269.2,310.4 269.3,311.6 269.5,310.7 269.9,312.4 270.2,310.2 270.2,311.7 270.4,312.1 270.7,310.8 271,311.1 270.6,313.6 270.8,313.3 271.1,313.8 271.2,314.5 271.1,316.2 270.5,317.6 271.2,318.1 271.9,317.7 272.5,318.3 272.5,319.6 272.5,320.1 273.1,320.1 272.8,320.6 273.5,321.3 274.1,321.6 273.4,321.9 274,322.6 273.8,322.6 274,323.4 273.6,323.8 273.9,324.2 274.2,324.5 274.1,325.2 274.6,325.2 274.4,325.9 275.3,326.5 274.2,327 274.4,327.4 274.6,327.3 275.1,327.7 275.7,328.6 275.5,328.9 275.2,329.1 275.4,329.7 275.1,330.2 276,330.1 275.6,331 276.1,331.5 276.3,331.6 276.2,331.8 276.8,332.3 276.5,332.9 276.8,333.1 276.1,333.4 276.5,334.1 277,334.6 277.3,335 276.7,335.3 276.6,335.6 276.8,336.3 277.5,337 278,337.1 277.8,337.6 277.1,338.1 277.5,338.5 278,339 277.7,339.6 277.7,340.1 278,340.1 278.5,340.6 278,341.2 279,341.4 279,341.6 279.3,342.7 279.4,342.9 278.6,343.1 278.4,343.5 278.5,344.1 278.8,344.8 279,345 278.8,345.9 279.4,346.5 279.2,346.6 279.3,347.3 279.5,347.9 279.8,348 279.3,348.4 280.4,349.2 280.2,349.5 280.8,349.9 279.5,350.5 279.8,351.1 280.2,351.6 280.3,352.1 280,352.4 280.1,352.5 280.8,353.3 280.1,353.4 280.9,354.3 280.6,354.4 280.9,354.7 280.9,355.2 280.8,356.1 282.1,356.5 281.3,356.7 280.9,357.2 281.8,357.6 281.9,358.1 281.5,358.8 282.9,359.2 282.1,359.6 282.4,360.1 283.1,360.8 282.3,361 281.7,361.7 281.4,362 282.1,362.6 282.1,363.4 282.3,363.7 281.7,364.2 282.7,364.9 281.4,365.1 282.4,366 281.9,366.4 282.9,366.9 282.6,367.4 282.7,368.1 283.4,368.6 282.2,368.8 282.4,369 282.4,369.7 282.1,369.9 282.6,370.4 283,370.7 282.8,371.1 283.1,371.9 283,372.1 283.1,372.9 282.5,373.4 283,373.5 283.3,374.3 283.2,374.7 283.7,375.2 283.3,375.5 283.2,376.2 283.4,376.2 284,377 283.4,377.2 283.5,377.6 283.4,378 283.6,379 283.4,379.3 284.3,379.5 283.4,380.2 283.7,380.3 283.7,380.9 282.9,381.4 282.9,381.6 283.3,382 282.7,382.6 282.7,382.8 282.8,383.3 282.4,383.8 282.3,384.1 281.9,384.5 281.8,385.1 281.4,385.4 285,360 286.8,331 287.3,313.5 287.5,322 287.6,340" fill="none" stroke="#D95319" stroke-width="0.85" stroke-linejoin="round" marker-start="url(#m1)" marker-mid="url(#m1)" marker-end="url(#m1)"/>
<polyline points="51.5,401 52,440 53.5,444 53.4,454.8 53.1,453.6 53.2,452.8 53.2,451.5 53.7,449.7 53.6,448.9 53.5,447.5 53.3,446.5 53.9,444.7 53.4,443.8 53.3,442.3 53.2,441 53.8,439.6 53.6,438.7 53.5,437.4 53.9,436.4 54.1,434.8 54.5,433.7 54.3,432.2 54.5,431.6 54.5,430.3 54.9,428.8 55.4,427.8 55.1,426.3 55.4,424.5 55.6,423.2 55.6,421.9 55.4,420.3 55.5,419 56.7,417.9 56.4,416.8 57.5,415 57.7,414.2 58.4,412.9 58.9,410.9 59.1,410 59.8,408.4 59.1,407.3 60,405.9 60.1,404.6 61,403.4 60.2,402 60,401.2 62.6,399.6 61.2,398.5 62.1,397.7 62.6,396.2 63.2,395.1 63.1,394.2 63.6,393 63.8,391.7 62.9,390.3 64.1,388.8 63.8,387.6 64.7,387.1 65,386.1 65.3,385.8 65.4,385.2 65.8,384.2 66.2,383.9 66.1,382.8 66,382.3 66.2,381.5 66.8,380.8 66.8,380 66.5,379.8 67.3,379.2 67.8,378.2 67.1,377.6 67.7,376.8 69,375.9 68.3,375.5 68.6,374.6 69.1,373.8 68.4,372.7 69.8,372.1 69.9,371.3 70.5,370.6 69.7,370 70.2,368.9 70.9,368.4 70.9,367.4 70.4,366.7 70.1,366.2 71.1,364.8 71.2,364.4 70.5,363.6 71.8,363.4 71.9,362.6 72.5,361.5 72,361.1 72,360.2 72.3,359.3 72.3,359 72.7,358 72.7,356.6 73.2,355.8 72.7,355.3 72.8,354.6 74.1,353.7 73.9,353.2 73.8,352.6 73.6,351.7 74.9,351.1 74.9,350.1 74.6,349.5 74.7,348.9 76.2,347.9 76.3,347.5 75.9,346.4 75.8,345.9 76.1,344.7 75.8,343.8 76.5,343.4 76.3,342.6 77.3,342 77.5,340.7 77.6,340.5 77.4,340 77.9,339.7 77.5,339 77.7,338.4 77.7,338.2 78.3,337.3 78.5,336.8 78.5,336.8 78.4,336.4 78.2,335.7 78.1,335.3 78.6,334.9 78.7,334.3 79.6,333.6 79.9,333.1 80,333 79.6,332.5 79.8,332.5 80.4,332.1 80,331.2 79.8,330.9 81,330.1 80.1,329.9 80.5,329.2 80.6,328.5 81.1,328.3 80.9,328.1 81,327.3 82.1,326.7 81.6,326.5 81.1,325.9 81.9,325.4 81.6,325 82,324.9 83,324.4 83,323.5 82,323.4 82.7,322.9 82.2,322.6 82.6,321.9 83.7,321.4 82.3,321.3 83,320.8 83.2,320.3 83.7,319.3 83.4,319.1 83.2,319.1 83.5,318.5 83.5,318.1 84.7,317.5 84.7,317 84.1,316.6 84.1,316.5 84.7,316.2 84.2,315.3 84.7,315.3 85,314.6 85.2,314.2 85,313.9 85.4,313.3 85.3,313.1 85.4,312.5 85.5,312.4 86.6,311.8 87,311.3 86,311 86.8,310.5 86.9,309.8 88,309.5 87.2,308.6 88.4,308.5 88,308.1 88.2,307.7 87.8,307.4 88.2,306.6 89,306.6 88.8,306.1 89.2,305.6 89.4,305 89.5,304.4 89.8,304.3 90,304.1 88.8,303.7 89.8,303.2 89.1,302.6 90.1,302.2 90.1,301.8 90.7,301.5 91.1,301.2 90.7,300.6 91.5,300.2 91.3,300 91.8,299.8 92.1,299.1 92.1,298.6 92.9,298.5 93.1,298.5 92.6,297.2 93.2,297.1 93.3,297.2 93.6,296.4 94.2,296.5 94.1,295.4 94.4,295.6 94.7,295 94.6,294.3 94.8,293.8 95.1,293.8 95.6,294 96.2,293.6 96.4,293.7 97.1,293.9 97.4,293 97.9,293 98.3,292.6 98.8,293.3 98.9,292.2 99.4,292.6 99.8,292.4 100.2,292.3 100.7,292.8 100.9,293.8 101.2,293.2 101.6,293.9 101.7,294.2 102,295 102.4,294.6 102.7,295.1 103.2,295.4 103.3,295.9 103.5,295.9 104.1,296.3 104.3,296.1 104.7,296.6 105,297.6 105.2,296.5 105.6,297.8 105.7,297.2 106.3,298.4 106.5,299.3 106.9,299.2 107.1,299.6 107.5,299.4 108.1,300.1 108.3,300.2 108.6,301.2 109.1,301.6 109.4,302.4 109.6,301.7 110.2,302.3 110.3,302.8 110.8,302.8 111.2,302.7 111.8,303 112.1,303.1 112.4,303.2 112.7,303.5 113.4,304.1 113.6,303.7 114.1,304.4 114.7,304.4 115.1,304.9 115.5,304.2 116.3,304.2 116.6,304.6 117,304.3 117.6,304.7 117.8,304.6 118.3,305.2 118.9,305.1 119.5,304.3 120,305 120.3,305.5 120.7,305.2 121.4,304.8 121.8,304.7 122.3,304.6 122.7,304.4 123.3,304.7 123.7,305.2 124.1,305 124.5,304.7 125.1,305.1 125.5,305.2 125.9,304 126.5,305 126.6,305.5 127,305.1 127.5,305.9 128.1,305.5 128.5,305.7 129,304.4 129.4,304.5 130.1,305.3 130.7,304.9 131.1,304.4 131.4,304.7 131.6,305 132,305.1 132.5,305.1 132.9,304.9 133.4,305.1 134.1,305 134.4,305.1 134.9,304.8 135.2,304.7 135.8,304.9 136.2,305.1 136.5,305 137.1,305.4 137.6,305 138,305.4 138.5,304.9 138.7,304.3 139.4,304.6 139.8,304.9 139.9,305.2 140.4,304.3 140.9,305.5 141.4,304.8 141.8,305.4 142.2,304.7 142.7,305.2 143.1,305 143.7,305.2 144.3,305.9 144.6,304.9 145,305.1 145.5,304.7 145.7,305.1 146.3,304.7 146.6,304.5 147.4,305.3 147.9,304.7 148.3,304.3 149,305.2 149.5,304.3 149.9,304.7 150.4,305.4 150.6,304.5 151.4,304.3 151.6,304.9 152,304.3 152.6,305 153,304.6 153.5,304.3 154.1,304.9 154.4,305.3 154.9,304.7 155.2,305.1 155.6,304.2 156.2,304.8 156.7,304.4 157.2,305.2 157.6,304.7 158,305.3 158.1,305.3 158.8,305.5 159.3,305 160.1,305 160.6,304.6 160.9,305.4 161.2,305.3 161.6,305.2 162.2,305 162.4,305.3 162.8,304.9 163.1,304.8 163.8,305.1 164.1,304.5 164.6,305.4 165.1,305.1 165.5,305.3 165.9,305.3 166.4,305.1 166.8,305.5 167.2,304.7 167.9,304.9 168.3,305.5 168.6,305.4 169.1,305.6 169.4,305.5 169.8,305.8 170.2,305.7 170.7,305.4 171.1,305.1 171.6,305.4 172.1,305.7 172.6,304.6 173.1,305 173.6,304.5 174,305.2 174.7,305.1 175.1,304.3 175.5,305.6 176,306.1 176.6,304.5 176.9,305.1 177.4,304.9 177.7,304.9 178.2,304.4 178.7,305 179.3,306 179.5,305 180,304.9 180.2,305.7 180.6,304.8 181.1,305.3 181.7,304.9 182.6,314.9 183.2,323.8 183.4,329.1 184,341.8 184.2,325.4 184.9,318.1 185,314.9 185.8,308.1 185.9,307.1 186.4,306.9 186.7,307.7 187.3,308.4 187.6,307 188.2,306.1 188.6,307.2 188.8,307.1 189.3,307 189.5,307.5 189.9,307.1 190.5,306.6 190.9,306.5 191.1,307.2 191.6,307 192.1,307.9 192.4,306.4 192.8,306.8 193.9,309.5 194.5,311.8 195,315.8 195.2,320.4 195.5,316.5 196.2,313.2 196.5,309.1 197.2,307.9 197.5,306 198.2,307.2 198.7,307.7 199.1,307 199.4,306.7 200,306.6 200.4,306 200.6,307.8 201.1,312.9 201.8,316 202,321.9 202.4,326.5 203,318.4 203.5,317.3 203.5,312.4 204.6,310.6 205,311.9 205.5,311.3 205.9,312.1 206.5,309.8 207,311.5 207.5,313.2 207.8,309.1 208.6,313.1 208.8,312.7 209.3,310.9 209.7,311.4 210.2,310.6 210.6,310 211.2,312 211.5,312.2 212.6,313 212.7,316.4 213.4,317.8 213.8,321.1 214,318.6 214.5,316.2 215,313 215.6,313 215.9,312.8 216.6,312.1 216.7,311 217.2,309.4 217.7,310.9 218.2,310.1 218.5,310.1 218.9,314 219.5,313.9 219.8,311 220.3,311.9 220.6,311.2 220.8,311.4 221.4,313.1 221.8,310.6 222.5,313.2 222.9,312.6 223.5,313.7 223.9,311.8 224.3,310.9 224.9,311.6 225.7,316.6 226.2,320.8 226.3,319.8 226.7,324.2 227.2,332 227.3,323.3 227.9,322.1 228.2,316.1 229.2,311.9 229.6,312.9 229.9,313.1 230.4,314.8 231,314.3 231.8,319 232.4,320.1 232.6,322 233.2,328.2 233.4,321.6 233.7,321.3 234.4,319 235,315.1 235.5,314.3 236.2,318.1 236.4,316.4 236.9,314.5 237.3,318.5 237.8,319 238.6,317.7 239.1,318.3 239.4,318.1 239.9,319.1 240.1,316.8 240.8,315.5 241.2,316.8 241.7,317.7 242.2,316.9 242.8,319 243.2,317.9 243.7,316.3 244.1,318.8 244.5,318.2 244.8,316.6 245.3,316.6 245.5,319.6 245.7,318.2 245.8,320.1 246,319.4 246.2,320.9 246.3,321.1 246.5,323.6 246.6,322.9 246.7,322.2 246.8,322.3 247,324.4 247.1,323.1 247.6,322.9 247.8,324.3 248.5,324.9 249.1,323.3 249.6,321.9 249.8,325 250.4,320.8 250.7,321.7 251.6,324.5 251.8,325.7 252.4,330.2 252.7,332.5 253.4,328.9 253.6,326.5 253.9,324.5 254.8,322.5 255.1,322.7 255.4,322.3 256,321 256.5,319.8 257,319.6 257.6,321.4 257.8,323 258.5,321 258.8,320.9 259.4,323.7 259.9,327.7 260.5,328.9 260.7,334.7 261.4,327.7 261.6,327.6 262.1,323.5 263.2,323 263.4,321.6 263.6,323.5 264.3,323 264.5,320.4 264.8,320.9 265.1,321 265.4,319.4 265.7,317.6 266,319.5 266.4,318.5 266.7,320 267.2,320.5 267.3,316 267.7,318.4 268.1,317.6 268.3,318.5 268.3,316.8 268.7,317.8 269,315.9 269.1,316.7 269.3,317.2 269.6,314 269.8,316 270.2,317.5 270.3,314.9 270.2,314 269.9,318.4 270.1,317.1 269.9,317.5 269.6,319.1 270,318.1 269.6,319.1 270.6,316.7 269.9,319.3 269.7,320.5 270.5,319.9 270.6,320 271.5,319.8 272.2,319.8 272.2,319.9 272.8,320.3 272.5,321.3 272.5,321.7 272.4,322.1 272.4,322.7 272.9,322.7 272.1,323.2 273.1,323.5 273.2,324.4 273.2,324.9 273.4,325.1 272.8,325.4 273.1,325.7 273.4,326.6 273.7,326.6 273.6,327.1 274.2,327.4 274.1,328 274,328.4 274.2,328.9 273.7,329.3 274.2,329.4 274.5,329.8 274.5,330.2 274.1,330.6 275.2,331.7 275.3,332 275.1,332.2 275.7,332.3 275.1,333 275.1,333.6 275.3,333.9 275.7,334.1 274.9,334.6 275.6,334.6 275.5,335.6 275.8,336 275.4,336.4 275,337.1 276.6,337.5 276.8,337.5 276.1,338.2 275.9,338.6 276.9,339.1 277,339.8 276.8,339.7 277.1,340.4 276.5,340.8 277,341 276.4,341.5 276.5,341.8 276.9,342.4 277.1,342.7 277.1,343.1 276.8,343.6 276.5,344.2 277.1,344.4 277.9,345 278.2,345.8 277.7,346.2 278.5,346.5 278.5,347.6 276.9,347.8 277.5,348.1 278.1,348.6 277.6,349.3 278.3,349.7 278.5,350.4 279.3,350.7 278.5,351.2 278.4,351.7 279.3,351.8 278.8,352.1 278.4,352.5 278.7,353.2 280.5,353.6 279.1,354 278.4,354.4 279.5,354.8 280,355.6 279.2,355.6 280.2,356.3 280.4,357.1 279.9,357.5 279,357.7 280.4,358.3 280.6,358.7 279.5,358.9 279.7,359.9 280.4,360.3 279.5,360.4 280.5,361.2 280.9,361.7 281.1,362 280.5,362.6 280.3,363 281.4,364 281,364.1 281.5,364.9 281.5,365.2 280.6,365.6 281.8,366.3 281,366.6 281.3,367.1 281.2,367.9 281.2,368.3 282.2,368.5 282.3,369.1 282.1,369.6 281.6,370 282.3,370.1 282.5,370.5 282.5,371.5 282.2,371.5 281.3,372.2 282.1,372.8 282.5,373.4 282.3,374 282.2,374 282.6,374.7 282.8,375.1 282.3,375.7 282.4,375.8 283.4,376.1 282.4,376.9 283,377.4 282.6,377.5 283.3,378.4 283,378.6 283.2,379.1 282.5,379.3 283,380.2 283.4,380.3 282.7,380.8 282.6,381.4 282.7,381.6 283,382.1 282.9,382.3 282.3,383.3 282.3,383.5 282,383.9 282.1,384.6 281.6,384.4 281.3,385.1 281.2,385.5 285.5,362 287,345 287.5,335 287.8,402.4" fill="none" stroke="#EDB120" stroke-width="0.85" stroke-linejoin="round" marker-start="url(#m2)" marker-mid="url(#m2)" marker-end="url(#m2)"/>
<polyline points="51.3,404.3 53.7,454.2 56.1,463.9 55,448 53.7,455 53.4,453.3 53.9,452.3 53.9,451.6 53.7,449.9 53.9,448.8 54,447.7 54.3,446.4 54.2,445 54.5,444.2 54.8,442.1 54.7,441.3 54.9,440 55.3,438.7 55.3,437.7 55.8,436.4 55,434.4 55.4,433.6 55.6,432.3 55.9,431.3 56.3,430.4 56.4,429.1 56.7,427.6 56.3,425.8 56.5,424.2 57,422.9 56.7,421.8 56.9,420.3 57.7,418.9 57.9,418.1 58.4,416.9 58.5,415.3 59,414.3 58.8,412.8 60,411.1 60,409.7 61.7,408.3 62.1,407.2 62.6,405.9 63.9,404.7 62.1,403.5 63.6,402.2 63.4,400.7 63.6,399.2 65,398.5 64.6,397.5 65.6,396.4 65.5,394.8 65.8,393.9 65.6,393 65.7,391.4 65.5,390.5 66.4,389.3 67.1,387.4 67,386.7 66.1,386.5 68.3,386 67.8,384.9 68,384 67.5,383.9 68.2,383 68.2,382.1 68.9,381.6 68.5,380.5 68.7,380.2 69.4,379.4 69.3,378.9 70.2,378 70.3,377.1 69.5,376.7 69.6,375.7 69,375.2 72,374.6 69.7,373.4 72.2,373.2 71.4,371.9 71.2,371 71,370.7 72.5,370.2 71.7,369 72.5,368.4 71.8,367.4 72.4,366.5 73.1,366 73,364.9 73.1,364 72.6,363.8 72.9,363.1 72.2,362.2 74.6,361.4 74.3,360.7 73.8,360.3 75.6,359.7 74.3,358.8 74,357.8 75.5,356.8 75.5,356 75,355.7 75.1,355 75.5,353.8 75.3,352.9 75.4,352.8 75.8,352 76.2,350.8 76.1,350 77.5,349.2 76.1,348.6 79,347.8 77.4,347.3 77.5,346.7 78,345.7 77.6,345 77.9,343.8 77.5,343.1 78.8,342.5 78.9,341.8 78.9,340.6 79.1,340.5 80.9,339.6 80.1,339.3 80.2,338.7 80.7,338.5 80.2,337.9 80,337.4 80.4,337 80.3,336.7 79.7,336 81,336.1 80.8,335.5 81.2,334.9 81.1,334.3 81.7,333.8 81.5,333.3 81.7,332.7 81.6,332.5 81.6,332.4 82.4,332 80.6,331.5 81.5,331.1 82.2,330.1 82.9,329.7 82.1,329.3 82.1,328.9 82.1,328.1 82.9,327.7 84.1,327.4 83,327.1 82.8,326.3 84.2,326.2 83.5,325.9 83.6,324.9 84.1,324.6 84.2,324.4 84.4,323.5 84.3,323.5 85.1,323 84.6,322.2 83.8,322.2 85.2,321.3 84.7,321 84.4,320.3 84.6,320.2 85.8,319.9 86.2,319.1 85.5,318.8 85.7,318.2 85.7,318 86.7,317.7 86,317.2 85.7,316.9 87,316.5 86.6,315.9 87,315.2 86.6,315 87.1,314.7 87.5,314.4 88.1,313.9 88.2,313.3 88,313.2 87.7,312.5 87.7,312.6 87.3,311.9 87.5,311.1 88.6,310.7 88.3,310.3 88.5,309.7 88.5,309.2 88.7,309.1 89.4,308.3 89.9,307.8 89.4,307.6 90.4,307.2 89.4,307.1 89.7,306.4 90.4,306.1 91.7,305.6 90.7,305.5 89.5,304.8 90.5,304.1 91.4,304.2 91.5,303.6 91.6,303.5 90.2,303.1 92.5,302.7 91.6,302.3 92.4,302 92,301.5 92.7,301.6 93,301.4 92.7,300.9 93.8,301.3 93.3,300.2 93.1,299.9 94.5,300.3 94.8,300.5 94.6,299.9 94.4,299.1 95.3,300.2 95.6,299.9 95.4,299.2 95.1,298.6 95.6,299.6 95.2,298.4 94.9,297.3 95,297.4 95.3,297 95.5,297.7 96,296.9 96.4,296.6 97.1,296.9 97.4,296.2 98,296.8 98.3,295.5 98.7,296.6 98.9,296 99.6,296.7 99.7,295 100.1,295.6 100.7,296.1 100.8,296.7 101.3,297.5 101.5,297.9 101.8,297.7 102.1,297.8 102.5,298.2 102.6,298 103.1,300 103.5,300.4 103.6,299.9 104,301.1 104.4,300.5 104.6,301.5 105,301.6 105.1,301.7 105.6,301.5 105.7,302.5 106.1,302.7 106.6,302.5 106.7,302.7 107.1,303 107.6,304.1 107.9,303.9 108.5,303.9 108.7,304.4 109.1,305.2 109.2,305.5 109.7,305.7 110,305.8 110.5,305 110.9,305.8 111.2,307.2 111.6,306.5 112.1,307.1 112.4,307.6 112.8,306.4 113.2,307.5 113.7,307.9 114,307.7 114.6,308.3 115.2,307.6 115.5,308.5 116.3,308.1 116.6,308.2 116.9,307.9 117.4,308.7 117.7,309.1 118.4,308.7 118.8,308.9 119.4,309.6 119.9,309 120.5,308.3 120.7,308.7 121.3,308.2 121.8,308.9 122.4,309 122.8,310.2 123.3,309.1 123.6,308.6 124,308.9 124.5,308.4 125,308.8 125.5,310.1 125.9,309.2 126.4,310.3 126.9,309.5 127,309.2 127.7,308.4 128.1,308.6 128.6,308.1 129,309.5 129.6,310.6 129.9,308.4 130.7,309.2 131.1,307.8 131.3,308.7 131.6,309.3 132.1,309.2 132.4,308.8 133,308.9 133.4,308 133.9,308.5 134.3,308.7 134.8,310 135.3,310 135.8,308.6 136.2,309.3 136.5,309.2 137.1,309.5 137.4,309.8 137.8,309 138.6,309.5 138.9,309.5 139.3,309.4 139.7,308.9 140,310 140.4,310.2 141,309.5 141.5,309.3 141.7,309.6 142.3,309.8 142.8,308.7 143.4,309.4 143.8,309.3 144.2,308.1 144.7,309.5 144.9,309.2 145.6,309.3 145.9,309.2 146.3,309.7 146.8,310.3 147.3,309.7 147.7,309 148.2,309.4 148.8,308.8 149.3,309.6 149.7,309.6 150.4,309.4 150.7,309 151.2,309.3 151.6,308.7 152.2,310.3 152.5,309.6 153,309.6 153.5,309.4 154.1,308.4 154.3,309.4 154.7,308.9 155.1,309.2 155.8,309.6 156,308.9 156.8,310 157.1,308.9 157.5,308.6 158,309.6 158.2,310 158.9,309.6 159.5,308.8 160.1,310 160.4,309 161,310 161.4,308.2 161.6,310.2 162,310.1 162.4,309.8 162.9,309.9 163.3,309.6 163.7,310.1 164.2,309 164.6,308.3 164.9,309.8 165.2,309.5 165.8,310.2 166.2,309.1 166.7,310.5 167.4,310.9 167.8,309.8 168.1,309.4 168.6,309.6 169,309.4 169.4,308.8 169.6,310 170.1,309.8 170.7,309.4 171.1,308.3 171.7,309.6 172,309.9 172.5,309.8 173.3,309.5 173.7,310.4 174,309.4 174.5,310 175.1,309.7 175.5,309.7 176.2,309.9 176.7,310.5 177.1,310.4 177.3,310 177.7,310.3 178.3,309.5 178.5,310.4 179.1,309.4 179.6,310.7 179.9,309.9 180.4,310.4 180.7,309.1 181.3,309.5 181.8,309.7 182.6,318.3 182.9,328.1 183.6,329.6 183.7,348 184.4,333.9 184.9,326.2 185.2,317.4 185.9,313.7 186.4,312.7 186.8,313.9 187.2,314.1 187.7,314.2 188,314 188.5,314.3 188.9,313.9 189.3,313.5 189.5,315.8 189.8,313.6 190.3,313.8 190.8,314.6 191.3,313.3 191.7,315.7 192.1,313.7 192.6,312.6 192.8,311.5 194,315.7 194.3,317.9 194.7,320.2 195.4,322.8 195.8,319.9 196,316.6 196.4,315.7 197.1,313.4 197.7,314.4 198,311.3 198.4,315 198.8,313.8 199.5,315 199.9,311.5 200.5,313.8 200.5,313.7 200.7,315.4 201.3,320 201.8,322.1 202.3,326.3 202.3,329.4 202.8,323.3 203.5,322.8 203.9,320.5 204.4,320 204.6,318.7 205.1,317.9 205.5,319.1 206,319.7 206.5,319.1 206.9,317.1 207.4,318.3 207.9,318.1 208.6,320.6 208.8,319.6 209.2,320.4 209.7,322.1 210.2,319.3 210.8,317.1 211.1,319.6 211.4,317.1 212.6,320 213,320.9 213.5,320.9 213.5,322.8 214.1,321.4 214.4,320.6 215,320.3 215.5,319.3 216.1,319 216.3,318.1 216.9,322.5 217.1,320.1 217.6,320.1 218.2,321.1 218.6,319.8 219,318.7 219.3,319.9 219.8,320.4 220.2,321.1 220.5,321.2 220.8,319.1 221.5,317.3 221.8,321.8 222.4,317.3 223,320.6 223.5,317.9 223.9,320.3 224.5,319.9 224.9,318.4 225.2,319 225.7,323.7 226.3,324.7 226.3,324.7 226.8,329.7 226.9,335.4 227.6,331.9 227.9,328.4 228.1,323.6 229.2,319.9 229.6,321.9 230.1,322.3 230.6,319.1 231,321.3 231.7,324.3 232.3,326.3 232.7,326.7 233,330.4 233.3,328.4 233.7,326.3 234.1,325 235.2,327.6 235.6,321.5 236,325 236.5,330.1 237,325.8 237.5,324.2 237.9,323.1 238.5,325.6 239.1,327.5 239.2,324.4 239.9,328 240.3,325.7 240.7,323.9 241.3,328.6 241.8,326.6 242.2,323.8 242.7,326.9 243.2,326 243.6,324.8 244,326 244.3,326.6 245,327.1 245.4,324.5 245.6,326.3 245.6,329.7 245.8,331.7 245.9,326.3 246.1,328.7 246.3,334.7 246.4,332.3 246.7,329.2 246.6,329.7 246.8,332 246.9,330 247.3,334.2 247.3,332.4 248,331.6 248.5,328.9 249,330.4 249.4,327.9 250,333.9 250.2,333.9 250.9,331.1 251.7,331.4 251.9,332.2 252.4,333.4 252.8,334.4 253.2,332.7 253.6,332.7 254.2,331.4 254.7,328.2 255.2,331 255.5,330.8 256,332.2 256.6,333.1 256.9,332.1 257.4,328.1 257.9,330.7 258.4,334.1 258.7,333.7 259.7,331.5 259.9,334.1 260.3,334.1 260.7,337 261.1,334.4 261.8,332.9 261.9,331.8 263.1,330 263.4,330 263.8,330 264.3,328.3 264.6,330.3 264.8,329.7 265.3,332 265.4,331.5 265.8,332.8 266.2,331.3 266.4,329.1 266.7,325.6 267,328.3 267.5,329.5 267.8,327.6 268.1,328.6 268.3,324.3 268.4,327 268.6,324.7 268.8,323.1 269.1,324.6 269.5,325.6 269.6,325.5 269.8,321.2 270,324.4 270.2,323.8 270,318.3 269.7,323 269.5,321 269.3,322 268.8,323.1 268.5,324 268.1,323.9 267.7,324.4 267.3,325 268.5,322.8 268.8,321.9 268,322.8 269.8,320.5 270.7,320.1 269.7,320.3 269.8,320.8 270.3,321.3 270.2,321.6 271.7,322.2 271.1,322.3 271.9,322.7 270.4,323.4 271.4,323.8 270.9,324.1 271.5,324.7 271.1,324.9 271.7,325.6 271.8,325.6 271.6,326.5 271.3,327 272.2,327.4 272.3,327.7 272,328 272.3,328.1 271.7,328.9 272.6,329.4 272.3,329.5 272.7,330.3 272.9,330.5 271.6,330.6 272.4,331.5 272.3,331.6 272.4,331.9 273.3,332.2 272,332.7 272.8,333.2 273.7,333.9 274.2,333.7 274.5,334.6 273,335 274.3,335.3 272.8,335.6 273.7,336.4 275.1,337.1 274.5,337 274.3,337.7 273.8,338 274.4,338.3 274.5,338.9 275.6,339.2 274,340 275.2,340.2 274.5,341 275.6,340.9 273.9,341.7 274.5,341.8 275.5,342.1 274.6,342.6 274.6,343 275.8,344 275.5,344.1 274.6,344.9 275.6,345.4 275.9,345.8 275.5,346.3 276,346.7 276.5,347 275.9,347.3 277.2,348.3 274.7,348.6 276.5,349.1 275.9,349.3 277.8,350 277.3,350.6 276.6,351.1 277.1,351.5 275.6,352.1 275.3,352.5 276.4,352.3 275.3,353.3 276.4,353.4 276.8,354.2 276.4,354.2 276.8,355.2 277.4,355.4 279.1,356.1 278,356.5 276.7,357 277,357 277.6,357.9 276.1,358.1 276.6,359 278.4,359.2 276.1,359.8 277.5,360.1 278.5,360.5 276.5,361.5 277.3,361.9 277,361.9 278.8,362.7 279.6,363.2 278.2,364 276.8,364.4 278,364.6 278.8,365.3 278.7,365.7 278.8,366.2 279.7,366.7 278.3,367.4 280.8,367.6 279.7,368.4 280.2,368.5 280.8,369.2 279.2,369.5 280.5,370 281.3,370.1 279.5,370.8 279.8,371.4 280.4,371.5 280.8,372.6 279.5,372.9 280.9,373.7 280,373.7 280.9,374.4 280.8,374.9 280.5,375.3 281.5,375.6 281.1,376.1 281.2,376.2 281.4,376.6 281,377 281.3,377.8 281.7,378 281.4,379.1 282.2,379.2 281.4,379.6 282.6,380 282.1,380.7 282,381.1 282.3,381.3 282.1,382 281.6,382.3 281.9,382.5 282.5,383.2 282.4,383.3 282.2,384 281.6,384.1 281.6,384.8 281.2,385.1 280.9,385.6 284.5,372 286.5,352 287.2,342 287.5,360" fill="none" stroke="#7E2F8E" stroke-width="0.85" stroke-linejoin="round" marker-start="url(#m3)" marker-mid="url(#m3)" marker-end="url(#m3)"/>
</g>
<text x="33.7" y="500.9" text-anchor="end" font-family="'Liberation Sans', Arial, Helvetica, sans-serif" font-size="7.5" fill="#262626">10<tspan dx="0.5" dy="-3.3" font-size="6.6">-15</tspan></text>
<text x="33.7" y="465.5" text-anchor="end" font-family="'Liberation Sans', Arial, Helvetica, sans-serif" font-size="7.5" fill="#262626">10<tspan dx="0.5" dy="-3.3" font-size="6.6">-14</tspan></text>
<text x="33.7" y="430.1" text-anchor="end" font-family="'Liberation Sans', Arial, Helvetica, sans-serif" font-size="7.5" fill="#262626">10<tspan dx="0.5" dy="-3.3" font-size="6.6">-13</tspan></text>
<text x="33.7" y="394.7" text-anchor="end" font-family="'Liberation Sans', Arial, Helvetica, sans-serif" font-size="7.5" fill="#262626">10<tspan dx="0.5" dy="-3.3" font-size="6.6">-12</tspan></text>
<text x="33.7" y="359.3" text-anchor="end" font-family="'Liberation Sans', Arial, Helvetica, sans-serif" font-size="7.5" fill="#262626">10<tspan dx="0.5" dy="-3.3" font-size="6.6">-11</tspan></text>
<text x="33.7" y="323.9" text-anchor="end" font-family="'Liberation Sans', Arial, Helvetica, sans-serif" font-size="7.5" fill="#262626">10<tspan dx="0.5" dy="-3.3" font-size="6.6">-10</tspan></text>
<text x="33.7" y="288.5" text-anchor="end" font-family="'Liberation Sans', Arial, Helvetica, sans-serif" font-size="7.5" fill="#262626">10<tspan dx="0.5" dy="-3.3" font-size="6.6">-9</tspan></text>
<text x="37.3" y="511.3" text-anchor="middle" font-family="'Liberation Sans', Arial, Helvetica, sans-serif" font-size="7.5" fill="#262626">10<tspan dx="0.5" dy="-3.3" font-size="6.6">-10</tspan></text>
<text x="82.22" y="511.3" text-anchor="middle" font-family="'Liberation Sans', Arial, Helvetica, sans-serif" font-size="7.5" fill="#262626">10<tspan dx="0.5" dy="-3.3" font-size="6.6">-8</tspan></text>
<text x="127.13" y="511.3" text-anchor="middle" font-family="'Liberation Sans', Arial, Helvetica, sans-serif" font-size="7.5" fill="#262626">10<tspan dx="0.5" dy="-3.3" font-size="6.6">-6</tspan></text>
<text x="172.05" y="511.3" text-anchor="middle" font-family="'Liberation Sans', Arial, Helvetica, sans-serif" font-size="7.5" fill="#262626">10<tspan dx="0.5" dy="-3.3" font-size="6.6">-4</tspan></text>
<text x="216.97" y="511.3" text-anchor="middle" font-family="'Liberation Sans', Arial, Helvetica, sans-serif" font-size="7.5" fill="#262626">10<tspan dx="0.5" dy="-3.3" font-size="6.6">-2</tspan></text>
<text x="261.88" y="511.3" text-anchor="middle" font-family="'Liberation Sans', Arial, Helvetica, sans-serif" font-size="7.5" fill="#262626">10<tspan dx="0.5" dy="-3.3" font-size="6.6">0</tspan></text>
<text x="306.8" y="511.3" text-anchor="middle" font-family="'Liberation Sans', Arial, Helvetica, sans-serif" font-size="7.5" fill="#262626">10<tspan dx="0.5" dy="-3.3" font-size="6.6">2</tspan></text>
</g>
<g>
<path d="M393.28 281.4V496.5M397.3 281.4V496.5M400.15 281.4V496.5M402.37 281.4V496.5M404.17 281.4V496.5M405.7 281.4V496.5M407.03 281.4V496.5M408.2 281.4V496.5M416.12 281.4V496.5M420.14 281.4V496.5M422.99 281.4V496.5M425.21 281.4V496.5M427.02 281.4V496.5M428.55 281.4V496.5M429.87 281.4V496.5M431.04 281.4V496.5M438.96 281.4V496.5M442.98 281.4V496.5M445.84 281.4V496.5M448.05 281.4V496.5M449.86 281.4V496.5M451.39 281.4V496.5M452.71 281.4V496.5M453.88 281.4V496.5M461.8 281.4V496.5M465.82 281.4V496.5M468.68 281.4V496.5M470.89 281.4V496.5M472.7 281.4V496.5M474.23 281.4V496.5M475.55 281.4V496.5M476.72 281.4V496.5M484.64 281.4V496.5M488.66 281.4V496.5M491.52 281.4V496.5M493.73 281.4V496.5M495.54 281.4V496.5M497.07 281.4V496.5M498.39 281.4V496.5M499.56 281.4V496.5M507.48 281.4V496.5M511.51 281.4V496.5M514.36 281.4V496.5M516.57 281.4V496.5M518.38 281.4V496.5M519.91 281.4V496.5M521.24 281.4V496.5M522.4 281.4V496.5M530.33 281.4V496.5M534.35 281.4V496.5M537.2 281.4V496.5M539.42 281.4V496.5M541.22 281.4V496.5M542.75 281.4V496.5M544.08 281.4V496.5M545.25 281.4V496.5M553.17 281.4V496.5M557.19 281.4V496.5M560.04 281.4V496.5M562.26 281.4V496.5M564.07 281.4V496.5M565.6 281.4V496.5M566.92 281.4V496.5M568.09 281.4V496.5M576.01 281.4V496.5M580.03 281.4V496.5M582.89 281.4V496.5M585.1 281.4V496.5M586.91 281.4V496.5M588.44 281.4V496.5M589.76 281.4V496.5M590.93 281.4V496.5M598.85 281.4V496.5M602.87 281.4V496.5M605.73 281.4V496.5M607.94 281.4V496.5M609.75 281.4V496.5M611.28 281.4V496.5M612.6 281.4V496.5M613.77 281.4V496.5M621.69 281.4V496.5M625.71 281.4V496.5M628.57 281.4V496.5M630.78 281.4V496.5M632.59 281.4V496.5M634.12 281.4V496.5M635.44 281.4V496.5M636.61 281.4V496.5M644.53 281.4V496.5M648.56 281.4V496.5M651.41 281.4V496.5M653.62 281.4V496.5M655.43 281.4V496.5M656.96 281.4V496.5M658.29 281.4V496.5M659.45 281.4V496.5M386.4 485.71H660.5M386.4 479.4H660.5M386.4 474.92H660.5M386.4 471.44H660.5M386.4 468.6H660.5M386.4 466.2H660.5M386.4 464.12H660.5M386.4 462.29H660.5M386.4 449.86H660.5M386.4 443.55H660.5M386.4 439.07H660.5M386.4 435.59H660.5M386.4 432.75H660.5M386.4 430.35H660.5M386.4 428.27H660.5M386.4 426.44H660.5M386.4 414.01H660.5M386.4 407.7H660.5M386.4 403.22H660.5M386.4 399.74H660.5M386.4 396.9H660.5M386.4 394.5H660.5M386.4 392.42H660.5M386.4 390.59H660.5M386.4 378.16H660.5M386.4 371.85H660.5M386.4 367.37H660.5M386.4 363.89H660.5M386.4 361.05H660.5M386.4 358.65H660.5M386.4 356.57H660.5M386.4 354.74H660.5M386.4 342.31H660.5M386.4 336H660.5M386.4 331.52H660.5M386.4 328.04H660.5M386.4 325.2H660.5M386.4 322.8H660.5M386.4 320.72H660.5M386.4 318.89H660.5M386.4 306.46H660.5M386.4 300.15H660.5M386.4 295.67H660.5M386.4 292.19H660.5M386.4 289.35H660.5M386.4 286.95H660.5M386.4 284.87H660.5M386.4 283.04H660.5" stroke="#c4c4c4" stroke-width="0.5" stroke-dasharray="0.6 1.6" fill="none"/>
<path d="M409.24 281.4V496.5M432.08 281.4V496.5M454.92 281.4V496.5M477.77 281.4V496.5M500.61 281.4V496.5M523.45 281.4V496.5M546.29 281.4V496.5M569.13 281.4V496.5M591.98 281.4V496.5M614.82 281.4V496.5M637.66 281.4V496.5M386.4 460.65H660.5M386.4 424.8H660.5M386.4 388.95H660.5M386.4 353.1H660.5M386.4 317.25H660.5" stroke="#e2e2e2" stroke-width="0.6" fill="none"/>
<clipPath id="c3"><rect x="386.4" y="280.4" width="277.1" height="217.6"/></clipPath>
<path d="M386.4 496.5v-2.6M386.4 281.4v2.6M393.28 496.5v-1.4M393.28 281.4v1.4M397.3 496.5v-1.4M397.3 281.4v1.4M400.15 496.5v-1.4M400.15 281.4v1.4M402.37 496.5v-1.4M402.37 281.4v1.4M404.17 496.5v-1.4M404.17 281.4v1.4M405.7 496.5v-1.4M405.7 281.4v1.4M407.03 496.5v-1.4M407.03 281.4v1.4M408.2 496.5v-1.4M408.2 281.4v1.4M409.24 496.5v-2.6M409.24 281.4v2.6M416.12 496.5v-1.4M416.12 281.4v1.4M420.14 496.5v-1.4M420.14 281.4v1.4M422.99 496.5v-1.4M422.99 281.4v1.4M425.21 496.5v-1.4M425.21 281.4v1.4M427.02 496.5v-1.4M427.02 281.4v1.4M428.55 496.5v-1.4M428.55 281.4v1.4M429.87 496.5v-1.4M429.87 281.4v1.4M431.04 496.5v-1.4M431.04 281.4v1.4M432.08 496.5v-2.6M432.08 281.4v2.6M438.96 496.5v-1.4M438.96 281.4v1.4M442.98 496.5v-1.4M442.98 281.4v1.4M445.84 496.5v-1.4M445.84 281.4v1.4M448.05 496.5v-1.4M448.05 281.4v1.4M449.86 496.5v-1.4M449.86 281.4v1.4M451.39 496.5v-1.4M451.39 281.4v1.4M452.71 496.5v-1.4M452.71 281.4v1.4M453.88 496.5v-1.4M453.88 281.4v1.4M454.92 496.5v-2.6M454.92 281.4v2.6M461.8 496.5v-1.4M461.8 281.4v1.4M465.82 496.5v-1.4M465.82 281.4v1.4M468.68 496.5v-1.4M468.68 281.4v1.4M470.89 496.5v-1.4M470.89 281.4v1.4M472.7 496.5v-1.4M472.7 281.4v1.4M474.23 496.5v-1.4M474.23 281.4v1.4M475.55 496.5v-1.4M475.55 281.4v1.4M476.72 496.5v-1.4M476.72 281.4v1.4M477.77 496.5v-2.6M477.77 281.4v2.6M484.64 496.5v-1.4M484.64 281.4v1.4M488.66 496.5v-1.4M488.66 281.4v1.4M491.52 496.5v-1.4M491.52 281.4v1.4M493.73 496.5v-1.4M493.73 281.4v1.4M495.54 496.5v-1.4M495.54 281.4v1.4M497.07 496.5v-1.4M497.07 281.4v1.4M498.39 496.5v-1.4M498.39 281.4v1.4M499.56 496.5v-1.4M499.56 281.4v1.4M500.61 496.5v-2.6M500.61 281.4v2.6M507.48 496.5v-1.4M507.48 281.4v1.4M511.51 496.5v-1.4M511.51 281.4v1.4M514.36 496.5v-1.4M514.36 281.4v1.4M516.57 496.5v-1.4M516.57 281.4v1.4M518.38 496.5v-1.4M518.38 281.4v1.4M519.91 496.5v-1.4M519.91 281.4v1.4M521.24 496.5v-1.4M521.24 281.4v1.4M522.4 496.5v-1.4M522.4 281.4v1.4M523.45 496.5v-2.6M523.45 281.4v2.6M530.33 496.5v-1.4M530.33 281.4v1.4M534.35 496.5v-1.4M534.35 281.4v1.4M537.2 496.5v-1.4M537.2 281.4v1.4M539.42 496.5v-1.4M539.42 281.4v1.4M541.22 496.5v-1.4M541.22 281.4v1.4M542.75 496.5v-1.4M542.75 281.4v1.4M544.08 496.5v-1.4M544.08 281.4v1.4M545.25 496.5v-1.4M545.25 281.4v1.4M546.29 496.5v-2.6M546.29 281.4v2.6M553.17 496.5v-1.4M553.17 281.4v1.4M557.19 496.5v-1.4M557.19 281.4v1.4M560.04 496.5v-1.4M560.04 281.4v1.4M562.26 496.5v-1.4M562.26 281.4v1.4M564.07 496.5v-1.4M564.07 281.4v1.4M565.6 496.5v-1.4M565.6 281.4v1.4M566.92 496.5v-1.4M566.92 281.4v1.4M568.09 496.5v-1.4M568.09 281.4v1.4M569.13 496.5v-2.6M569.13 281.4v2.6M576.01 496.5v-1.4M576.01 281.4v1.4M580.03 496.5v-1.4M580.03 281.4v1.4M582.89 496.5v-1.4M582.89 281.4v1.4M585.1 496.5v-1.4M585.1 281.4v1.4M586.91 496.5v-1.4M586.91 281.4v1.4M588.44 496.5v-1.4M588.44 281.4v1.4M589.76 496.5v-1.4M589.76 281.4v1.4M590.93 496.5v-1.4M590.93 281.4v1.4M591.98 496.5v-2.6M591.98 281.4v2.6M598.85 496.5v-1.4M598.85 281.4v1.4M602.87 496.5v-1.4M602.87 281.4v1.4M605.73 496.5v-1.4M605.73 281.4v1.4M607.94 496.5v-1.4M607.94 281.4v1.4M609.75 496.5v-1.4M609.75 281.4v1.4M611.28 496.5v-1.4M611.28 281.4v1.4M612.6 496.5v-1.4M612.6 281.4v1.4M613.77 496.5v-1.4M613.77 281.4v1.4M614.82 496.5v-2.6M614.82 281.4v2.6M621.69 496.5v-1.4M621.69 281.4v1.4M625.71 496.5v-1.4M625.71 281.4v1.4M628.57 496.5v-1.4M628.57 281.4v1.4M630.78 496.5v-1.4M630.78 281.4v1.4M632.59 496.5v-1.4M632.59 281.4v1.4M634.12 496.5v-1.4M634.12 281.4v1.4M635.44 496.5v-1.4M635.44 281.4v1.4M636.61 496.5v-1.4M636.61 281.4v1.4M637.66 496.5v-2.6M637.66 281.4v2.6M644.53 496.5v-1.4M644.53 281.4v1.4M648.56 496.5v-1.4M648.56 281.4v1.4M651.41 496.5v-1.4M651.41 281.4v1.4M653.62 496.5v-1.4M653.62 281.4v1.4M655.43 496.5v-1.4M655.43 281.4v1.4M656.96 496.5v-1.4M656.96 281.4v1.4M658.29 496.5v-1.4M658.29 281.4v1.4M659.45 496.5v-1.4M659.45 281.4v1.4M660.5 496.5v-2.6M660.5 281.4v2.6M386.4 496.5h2.6M660.5 496.5h-2.6M386.4 485.71h1.4M660.5 485.71h-1.4M386.4 479.4h1.4M660.5 479.4h-1.4M386.4 474.92h1.4M660.5 474.92h-1.4M386.4 471.44h1.4M660.5 471.44h-1.4M386.4 468.6h1.4M660.5 468.6h-1.4M386.4 466.2h1.4M660.5 466.2h-1.4M386.4 464.12h1.4M660.5 464.12h-1.4M386.4 462.29h1.4M660.5 462.29h-1.4M386.4 460.65h2.6M660.5 460.65h-2.6M386.4 449.86h1.4M660.5 449.86h-1.4M386.4 443.55h1.4M660.5 443.55h-1.4M386.4 439.07h1.4M660.5 439.07h-1.4M386.4 435.59h1.4M660.5 435.59h-1.4M386.4 432.75h1.4M660.5 432.75h-1.4M386.4 430.35h1.4M660.5 430.35h-1.4M386.4 428.27h1.4M660.5 428.27h-1.4M386.4 426.44h1.4M660.5 426.44h-1.4M386.4 424.8h2.6M660.5 424.8h-2.6M386.4 414.01h1.4M660.5 414.01h-1.4M386.4 407.7h1.4M660.5 407.7h-1.4M386.4 403.22h1.4M660.5 403.22h-1.4M386.4 399.74h1.4M660.5 399.74h-1.4M386.4 396.9h1.4M660.5 396.9h-1.4M386.4 394.5h1.4M660.5 394.5h-1.4M386.4 392.42h1.4M660.5 392.42h-1.4M386.4 390.59h1.4M660.5 390.59h-1.4M386.4 388.95h2.6M660.5 388.95h-2.6M386.4 378.16h1.4M660.5 378.16h-1.4M386.4 371.85h1.4M660.5 371.85h-1.4M386.4 367.37h1.4M660.5 367.37h-1.4M386.4 363.89h1.4M660.5 363.89h-1.4M386.4 361.05h1.4M660.5 361.05h-1.4M386.4 358.65h1.4M660.5 358.65h-1.4M386.4 356.57h1.4M660.5 356.57h-1.4M386.4 354.74h1.4M660.5 354.74h-1.4M386.4 353.1h2.6M660.5 353.1h-2.6M386.4 342.31h1.4M660.5 342.31h-1.4M386.4 336h1.4M660.5 336h-1.4M386.4 331.52h1.4M660.5 331.52h-1.4M386.4 328.04h1.4M660.5 328.04h-1.4M386.4 325.2h1.4M660.5 325.2h-1.4M386.4 322.8h1.4M660.5 322.8h-1.4M386.4 320.72h1.4M660.5 320.72h-1.4M386.4 318.89h1.4M660.5 318.89h-1.4M386.4 317.25h2.6M660.5 317.25h-2.6M386.4 306.46h1.4M660.5 306.46h-1.4M386.4 300.15h1.4M660.5 300.15h-1.4M386.4 295.67h1.4M660.5 295.67h-1.4M386.4 292.19h1.4M660.5 292.19h-1.4M386.4 289.35h1.4M660.5 289.35h-1.4M386.4 286.95h1.4M660.5 286.95h-1.4M386.4 284.87h1.4M660.5 284.87h-1.4M386.4 283.04h1.4M660.5 283.04h-1.4M386.4 281.4h2.6M660.5 281.4h-2.6" stroke="#262626" stroke-width="0.6" fill="none"/>
<rect x="386.4" y="281.4" width="274.1" height="215.1" fill="none" stroke="#262626" stroke-width="0.8"/>
<g clip-path="url(#c3)">
<polyline points="400.3,420 400.5,450 401,465 402,448 402.9,469.8 403.1,469.2 402.9,467.8 403,466.5 403.1,464.9 403,463.6 402.9,461.7 403.3,460.5 403.1,459.1 403.2,457.7 403.2,456.9 403.2,455 403.2,454.1 403.2,452.3 403.6,451.2 403.5,450.5 403.5,449.2 403.4,448.3 403.4,447.3 403.7,446.2 403.6,444.1 403.4,442.8 403.9,442 403.6,440.9 403.7,440 404.1,438.4 404.6,437.5 404.6,435.5 405,434.4 405.5,433.3 405.9,432 406.4,430.5 406.3,429.5 406.5,428.3 407,426.8 407.4,425.6 407.6,424.2 407.8,422.5 408.6,421 408.9,419.4 409.5,418 410,417.5 409.6,416.1 410.3,414.9 410.7,413.2 411.2,411.5 411.7,410.6 412.1,409.5 412.7,408.5 412.2,407.9 413.2,407.4 413.4,406.6 413.1,405.2 413.6,404.7 413.6,404.3 413.8,403.4 413.9,402.4 414.6,401.9 414.8,401.1 414.8,400.4 414.9,400.1 415.2,398.8 415.5,398.2 415.8,397.4 416.3,396.7 416.5,395.8 416.6,394.5 416.6,394.3 417,393.1 417.1,392 417.3,391.6 417.8,390.7 418,390.2 417.7,389.6 418.1,388.4 418.5,387.8 418.7,386.9 419.2,386.2 419.4,385.1 420.2,384.9 420.4,383.5 420.4,383 420.5,381.8 420.9,381.1 420.8,380.6 420.7,379.9 421.2,379 421.7,377.8 422,377.2 422.2,376.4 422.3,375.7 422.9,374.7 423.2,374.2 423.6,373.5 423.8,372.6 423.4,371.6 423.8,371 423.8,370.2 424.6,369.2 424.7,368.5 424.3,367.8 424.6,367 425.5,366.4 425.6,365.3 425.7,365.1 426.1,364 426.1,363.1 426.6,362.4 426.9,362.2 426.7,360.6 427.1,360.2 427.5,359.4 427.3,358.4 428.3,357.8 428,356.6 428.2,356.2 428.7,356 428.6,355.3 428.6,354.9 428.7,354.5 429.2,353.7 429.1,353.8 429.4,353.3 429.7,352.5 429.9,352.3 430.2,351.7 429.8,351.6 429.9,351.1 430.5,350.5 430.5,350.2 430.7,349.8 430.8,349.7 430.8,348.7 430.7,348.4 431.4,347.9 431.3,347.6 431.5,347.1 431.5,347 431.4,346.2 431.6,346 432,345.3 432.2,344.9 432.2,344.6 432.3,344.1 432.2,343.5 432.6,343.2 432.7,342.8 433.3,342.2 433.2,342 432.9,341.4 433.7,340.5 433.7,340 433.4,339.9 433.9,339.4 433.8,338.7 434.1,338.2 434.8,338 434.5,337.6 434.6,337.2 435,337.1 434.8,336.7 435.3,336.2 435.1,335.4 435.5,335.2 435.4,334.4 435.9,334.6 435.6,334 435.6,333.6 435.7,332.9 436.1,333 435.9,332.3 435.9,332 436.4,331.8 436.8,331.1 436.8,330.8 436.9,329.9 436.9,329.2 436.8,329.3 437.6,328.5 437.4,328.3 437.7,328 437.8,327.4 438.4,327.3 438.5,326.6 438.8,326.5 438.6,326.1 438.9,325.8 439.4,325.1 439.4,324.6 440,324.1 439.9,323.6 440.3,323.3 440.5,323 440.7,322.3 441,322.2 440.9,321.8 441,321.6 441.8,321.4 441.5,320.9 441.7,320.5 442.2,320.2 442.9,319.5 443,318.7 443,318.4 443.5,317.4 444,317 444.4,316.4 444.7,315.2 445.3,315 445.6,314.1 446.4,313.9 447.2,314.4 447.7,313.4 448.1,312.9 448.6,313.1 449.2,312.4 450,312.2 450.3,312.4 450.9,312.4 451.2,312.5 451.8,312.3 452.1,313 452.5,313.4 452.8,313.1 453.3,313.1 454,312.6 454.4,313.1 454.8,313.4 455.2,313.3 455.6,313.7 455.9,314.4 456,314.6 456.3,315 456.9,315.7 457.3,315.4 457.6,315.8 457.9,316 458.1,316.6 458.6,316 458.9,316.4 459,316.3 459.5,317.1 459.7,317.2 460.2,317.4 460.5,317.5 460.7,317.9 461.1,318.3 461.5,319 461.8,318.8 462.3,319.2 462.5,319.5 462.9,319.6 463.3,319.5 463.5,320 463.8,319.9 464.4,320.9 464.6,320.6 465,321 465.4,321.7 466,322 466.3,321.9 466.5,322.1 467.2,322.4 467.5,322.6 468,322.7 468.7,322.3 468.8,322.6 469.2,322.9 469.8,322.2 470.4,322.9 470.9,322.3 471.4,322.2 471.8,322.5 472.3,322.5 472.5,322.5 473,322.5 473.4,322.4 473.5,322.4 474.2,322.4 474.6,322.4 475.1,322.4 475.5,322.4 475.6,322.3 476,321.6 476.7,322.6 476.9,321.8 477.4,321.9 477.8,322 478.3,321.9 478.9,322.2 479,321.9 479.5,321.8 480,321.5 480.5,321.4 480.8,321.8 481.2,321.8 481.8,321.8 482.4,322 482.6,321.6 483.4,321.4 484,321.1 484.5,321.5 485,321.1 485.1,320.9 485.6,320.7 486.1,321.3 486.5,320.6 487,320.5 487.2,321 487.6,320.4 488,321.3 488.5,320.9 489,320.4 489.5,320.4 489.9,320.8 490.1,320.7 490.7,320.1 491.3,319.6 491.6,319.4 491.9,319.7 492.6,319.8 493,319.8 493.5,319.4 493.8,319.6 494.2,319.8 494.9,319.5 495.2,319.6 495.7,319.3 496.2,318.8 496.6,318.7 497.2,319.7 497.6,318.4 498.2,318.6 498.4,318.9 499,318.5 499.3,318 500,317.9 500.2,318.5 500.6,318.8 501.1,318.4 501.8,318.2 501.9,318 502.7,318.4 503,318.9 503.4,318.2 503.9,318.2 504.2,318 504.7,318 505.1,318.9 505.8,318.6 506.3,318.5 506.5,318.3 507.1,318.2 507.6,318.4 508.2,317.9 508.5,317.9 508.9,318 509.3,318.1 510.1,318.1 510.4,318.1 510.6,318.1 511.3,317.9 511.9,317.5 512,317.3 512.6,317.9 512.9,318.1 513.4,317.7 514,318.5 514.5,317.9 515,317.7 515.5,318.6 515.9,317.3 516.2,317.7 516.7,317.1 517.3,317.2 517.6,316.8 518.2,317.3 518.4,317.3 518.9,317 519.5,317 519.9,316.7 520.4,316.7 520.8,317.5 521.4,317 521.7,316.7 522.3,316.6 522.6,316.2 523.3,316.7 523.7,316.8 524.3,316.8 524.5,315.7 525,316.2 525.6,316.7 526,315.2 526.4,315.7 527.1,315.7 527.3,315.4 528,315.2 528.3,315.1 528.8,315.1 529.3,315.9 529.6,314.4 530.3,315.1 530.7,315 531.1,314.4 531.6,314.3 531.8,314.6 532.4,315.2 532.9,315.2 533.6,322.3 534.2,330.2 534.6,336.2 534.9,346 535.2,337.1 535.7,331.2 536.1,321.4 537,317.7 537.3,317.7 538,317.2 538.3,317 538.6,316.9 538.9,316.9 539.6,317.6 540.2,317.4 540.6,316.7 541.2,316.3 541.5,316 542,316.7 542.4,315.7 543,316.1 543.4,315.7 543.6,316.7 544.4,317.4 544.8,321.5 545.4,326 545.8,329.7 546.1,326.4 546.5,319.9 547.1,318.1 547.6,318.9 547.8,325 548.4,327.8 548.9,323.5 549.2,321.2 549.8,317.7 550.5,314.3 550.9,313.5 551.3,314.1 551.7,313.5 551.9,314.2 552.7,319.2 553.2,325.5 553.6,328 553.9,333.3 554.6,324.4 555,322.8 555.3,319.3 556,316.6 556.5,317.6 556.8,317.7 557.4,317.3 557.8,317.7 558.1,318.2 558.8,317.7 559.1,317.4 559.4,318 560,317.5 560.3,317.3 560.8,316.6 561.2,317 561.6,317 562,317.5 562.6,317.5 563,317.5 563.4,317.3 563.7,317.4 564,317.1 565.1,319.6 565.5,321.7 565.7,322.5 566.2,328.9 566.8,325.9 567,322 567.5,319.2 568.2,317 568.6,316.2 569.1,316.3 569.2,316.3 569.8,316.7 570.5,317.7 570.9,316.7 571.6,316.8 571.8,316.4 572.3,317 572.9,316.5 573.4,316.9 574,316.2 574.1,317.1 574.6,316.1 575.1,316.8 575.4,315.8 576,316.9 576.4,316.4 577,316.4 577.2,317.2 578.1,321.4 578.4,323.8 578.5,320.8 578.7,325.1 579.1,335.3 579.7,327.4 579.9,326.6 580.6,320.1 581.4,317.8 581.7,317.5 582.2,317.9 582.6,316.9 583,318.2 583.6,317.1 584,317.7 584.4,318.1 585.1,320.7 585.7,324.9 585.9,323.9 586.5,331.3 586.8,326.5 587.3,324.5 587.5,321.2 588.4,318.5 588.7,317.8 589.5,319.5 590,318.1 590.7,317.9 591,317.6 591.2,318.4 591.7,317.7 592.2,317.6 592.9,318.5 593.3,318.8 593.5,318.6 594.1,318.2 594.6,318.4 595.1,318.8 595.4,319 595.9,319.5 596.5,319.2 597.2,322.6 597.7,326.1 598.1,329.8 598.3,334.7 598.7,327 599.2,327.8 599.7,323.9 600.4,323.1 600.7,323.5 601.2,323.2 601.7,322.4 602,322.8 602.5,321.8 602.9,323.8 603.7,325.7 604.2,330.1 604.7,335 604.9,338.5 605.1,330.5 605.6,330.9 605.9,324.8 606.9,320.1 607.3,320.5 607.6,319.8 608.1,319.6 608.6,318.7 608.7,320 609.3,319.7 609.9,320.2 610.3,319.6 610.5,320.7 611,319.2 611.3,320.1 611.7,320.7 613,325.2 613.4,328.9 613.7,329.5 613.9,338.2 614.4,330.9 615.1,328 615.2,325.2 616.4,321.5 616.5,322.4 616.9,321.6 617.4,320.5 617.7,321.5 618,322.2 618.4,321.1 618.7,321.7 619.2,320.8 619.6,321 620,320.4 620.2,320.4 620.7,319.4 621.1,320 621.3,321.3 621.5,319.3 622,319.9 622.1,319.4 622.3,319.3 622.9,319.4 623.2,318.9 623.4,318.8 623.7,319.2 623.8,320 623.7,320.6 623.8,320.9 624,321.4 624.2,322.5 624.4,321.9 624.4,322.9 624.8,323.4 624.7,323.6 624.9,324.5 625.1,324.7 625.3,325.1 625.4,325.7 625.4,326.7 626,326.1 626.1,326.3 626.1,327.6 626.4,328.3 626.4,328.6 626.6,329.2 627.1,329.1 626.7,331.4 627.2,330.9 627.2,331.4 627.4,331.3 628.2,332.5 628.2,333.7 629,334.6 629.4,335.4 629.8,336.4 629.8,337.4 630.8,337.8 631.1,338.1 631.3,339.2 632.1,339.8 632.4,340.1 633,340.3 632.9,340.5 632.2,340.9 632.5,341.8 632.9,341.8 633.3,342.5 632.9,343.1 633.2,343.4 632.8,344 633.4,344.5 633.3,344.6 633.8,345.1 633.8,345.5 633.4,346.1 634,346.8 633.6,346.7 633.2,347.2 633.5,347.8 633.9,348.5 633.9,348.7 634.2,349.3 634.1,349.6 634.2,349.7 634,350.1 633.8,350.4 634.6,351.2 634.4,351.9 634.5,352.3 634.1,352.8 634.6,353.5 634.3,353.6 634.8,354.3 634.4,354.4 634.8,354.9 635.1,355.2 634.4,355.6 634.5,356.5 634.8,356.8 635,357.4 635.6,358 635.2,358.4 635.5,358.3 635.8,359.2 635.1,359.3 635.4,359.7 635.6,360 635.1,360.8 635.8,361 635.7,361.7 635.5,361.9 635.5,362.6 635.5,362.9 635.6,363.5 636.1,364.2 635.9,364.4 635.9,364.9 635.7,365.6 635.7,365.6 635.9,366.6 635.4,367 635.9,367.8 635.4,367.9 636.1,368.3 635.9,368.9 636.2,369 636.2,369.7 636,370.2 636,370.4 636.4,370.9 635.8,371.3 636.2,371.4 636.1,371.7 636.4,372.5 636,372.9 636.1,372.9 636.2,373.5 636.1,374.2 636.1,374.4 636.1,374.8 636.3,375.3 636,376.1 636.5,376.1 636.1,376.4 636.5,376.9 636.2,377.6 636.1,377.9 636.3,378.3 636.3,378.7 636.6,379.5 636.1,379.6 636.2,380.4 636.4,380.5 636.3,380.8 636.3,381.5 636.2,382.4 636,382.4 636.2,382.9 636.3,383.3 636.1,384 636.3,384.5 636,384.9 636.2,385.2 636.2,385.8 636.1,386.2 636.1,386.4 636.2,386.7 636,387.4 636.1,388 636,388.4 635.9,388.5 639,370 640.2,335 640.4,324 640.4,329.6 640.5,338" fill="none" stroke="#0072BD" stroke-width="0.85" stroke-linejoin="round" marker-start="url(#m0)" marker-mid="url(#m0)" marker-end="url(#m0)"/>
<polyline points="400.5,428 401,470 402.3,455 403,469.9 403.2,469.1 403,467.7 403,466.2 403.2,464.9 403.3,463.3 403.3,462 403.2,460.3 403.4,459.1 403.4,457.5 403.3,456.4 403.4,455.4 403.5,453.6 403.4,452.4 403.5,451 403.7,450.1 403.5,449.3 403.4,447.9 403.8,446.7 403.6,446 403.7,444.3 404,442.7 404,441.6 403.8,440.7 404.4,439.7 404.3,438.1 405.1,437.2 405.4,435.6 405.2,434.4 406.4,433.6 406.4,431.8 406.7,430 406.8,429.6 407,427.7 407.2,427.3 408.2,425.8 408,424.2 409.1,422.5 409.6,421.5 410,419.5 410.1,418.1 410.1,417.4 410.9,416.1 411.5,414.6 411.8,412.9 412,411.9 412.6,410.1 412.7,409.2 413.1,408.7 413.7,407.7 413.7,407.1 414.8,406 414.4,405.2 414.6,404.9 414.7,404.3 415.3,403.3 416.1,402.3 415.6,401.8 415.3,401.3 415.6,400.2 415.5,400.1 416.3,398.6 417.1,398.2 417.3,397.6 416.7,396.4 417.6,395.8 417.7,394.6 417.8,394.2 418.5,392.9 418.8,392.1 418.6,391.9 418.8,390.5 419.1,390.3 419.4,389.7 419.7,388.6 420.1,387.9 419.8,386.8 420.6,386.2 420.1,385.3 420.8,384.6 421.4,383.6 421.6,382.8 421.5,381.9 421.6,381.5 422.3,380.8 422.2,379.9 422.8,378.9 422.9,378.1 423.4,377.3 423.2,376.7 423.5,375.9 424,374.9 424.9,374 424,373.1 424.7,372.3 424.4,371.7 424.6,370.6 424.9,370.4 424.7,369.4 425.2,368.4 425.7,367.4 425.9,367.2 425.6,366.4 427,365.4 426,364.7 426.8,364.2 427.2,363.3 427.7,362.3 427.9,361.9 427.3,361.1 428.3,360 428.4,359.4 428.9,358.7 428.8,358 428.6,356.7 429.6,356.6 429.8,356.1 429.8,355.2 429.7,354.8 429.3,354.5 429.9,354.2 430.3,353.6 430.5,352.9 430.4,352.7 430.3,352.2 430.3,351.8 430.8,351.7 431.6,351.1 431.2,350.7 431.6,350 431.4,350.1 432,349.5 431.1,349 432,348.7 432.7,347.8 432.2,347.3 432.2,347.2 432.3,346.8 433.1,346.4 432.9,346 432.6,345.6 432.8,345.1 433.8,344.4 433.1,344.4 433.9,343.7 433.5,343.3 433.8,342.6 434.4,342.2 434.2,341.5 434.3,341 434.9,340.8 434.3,340.4 434.5,339.7 435.3,339.4 434.6,339 434.8,338.6 434.8,338.3 435.8,337.9 435.2,337 435.5,336.9 435.4,336.6 436,335.9 436,335.9 435.7,335.5 436.7,334.6 435.9,334.2 436.3,333.8 436.6,333.6 436.9,333.1 437.3,332.8 436.9,332.2 437.5,331.8 437.4,331.5 437.8,331.3 437.8,330.7 438.5,330.1 438.2,329.8 438.1,329.3 438.7,328.9 438.9,328 438.3,327.9 438.9,327.4 439.1,327.4 440,326.7 440.3,326.3 440,326.2 439.8,325.7 440,325.2 440.4,324.6 441.2,324.2 440.5,323.6 441.8,323.4 441.6,323 440.9,322.8 441.8,322.3 442.5,321.7 442.1,321.7 442.3,320.9 442.4,320.8 442.3,320.4 442.7,319.8 443.6,319.6 443.6,319.2 444.4,319.1 444.3,318.4 444.4,317.6 445,317.5 445.4,317 445.6,316.5 446.1,316.3 447.1,316.8 447.4,315.8 448.1,316.2 448.4,315.6 449,316 449.3,316.1 450,315.4 450.5,316 450.8,315.5 451.3,316.1 451.8,316.1 452,316.7 452.4,316 452.8,316.1 453.4,316.8 453.8,316.9 454.4,317.5 454.6,317.1 455,317.3 455.4,317.3 456,317.3 456.2,317.9 456.5,318.2 456.9,319 457.2,318.2 457.7,318.7 457.8,319 458.2,319.6 458.5,319.8 458.8,319.7 459.3,320.2 459.4,320.4 459.8,320.5 460.1,320.5 460.5,320.7 460.9,321.1 461.1,320.9 461.4,322 461.9,322.2 462.2,322.5 462.6,322.3 462.7,322.3 463.3,322.9 463.6,322.9 463.7,322.8 464.3,323.8 464.8,323.8 465.1,323.7 465.6,324.2 466.1,324.6 466.3,324.7 466.5,324.8 467.2,325.1 467.4,325.2 468,325.3 468.4,325 468.8,325.2 469.3,325.6 469.9,325.5 470.4,325.3 470.8,325.1 471.3,325.1 471.6,325.4 472.3,325.1 472.5,325 473.1,325.1 473.2,325.4 473.5,325 474,324.9 474.5,324.7 474.9,325.4 475.3,324.9 475.8,325.1 476.2,324.8 476.6,324.7 477.1,324.6 477.3,325.3 478,325 478.2,324.9 478.9,324.7 479.2,325 479.6,324.5 479.9,324.7 480.6,325 480.9,324.7 481.4,324.7 481.7,324.6 482.4,324.7 482.7,324.5 483.2,324.7 483.9,324.7 484.3,324 484.9,323.7 485.3,324.6 485.6,323.9 486,323.5 486.5,324.3 487,323.6 487.1,323.8 487.8,323.5 488,323.5 488.6,323.8 488.9,323.2 489.5,323.1 489.8,323.7 490.3,323.1 490.7,323.7 491.2,323 491.7,322.8 491.9,323.4 492.6,323.3 493,323.4 493.3,322.7 494,322.7 494.2,322.8 494.8,322.1 495.1,322.5 495.8,322.6 496.3,322.8 496.6,322.6 496.9,321.8 497.6,322.6 498,322.6 498.6,322.1 498.9,322.4 499.5,322.1 499.8,322.1 500.2,322.1 500.5,322.7 501.1,322.3 501.6,322.3 502.1,322.5 502.7,322.1 503.1,321.5 503.4,321.9 503.6,321.7 504.2,322.2 504.8,321.6 505.1,321.5 505.8,322.3 506.2,321.9 506.6,321.8 507.2,321 507.6,322 508,321.6 508.4,321.8 509,321.7 509.3,321.8 509.9,321.2 510.4,321.4 510.8,321 511.2,321.6 511.6,321.8 512.1,321.5 512.5,321.1 512.8,321.1 513.5,321.1 513.9,321.1 514.4,320.5 514.9,320.7 515.3,321.5 515.8,320.7 516.3,320.3 516.8,320.8 517.2,320.9 517.6,320.8 518.2,320.1 518.3,320.7 519,319.8 519.6,319.7 519.9,320.5 520.2,320.3 520.7,320 521.3,320 521.8,319.4 522.1,320.1 522.8,319.7 523.4,319.9 523.7,319.9 524.2,319.4 524.6,319.4 525.2,319.7 525.5,319.1 526.1,319.9 526.5,318.9 527.1,319.1 527.3,318.8 527.8,318.1 528.4,318.4 528.8,317.7 529.5,318.7 529.8,317.9 530.1,318.2 530.7,318.6 531.2,318.3 531.5,317.2 531.9,318.1 532.5,317.1 533,317.7 533.7,324 534.2,332.9 534.7,344.5 535.1,351.4 535.4,337.9 535.9,330.7 536.1,324.3 537.1,320.4 537.4,319.7 538,320.5 538.2,320.2 538.7,319.2 539.1,319.6 539.7,319.4 540.1,318.8 540.5,319.1 541.3,319.1 541.6,319.8 542,318.5 542.3,318.8 543.1,317.9 543.3,318 543.6,317.6 544.4,320.2 544.7,323.4 545.2,325.5 545.7,332.6 545.9,324.6 546.3,323.6 547,320 547.7,323.9 548.1,327.2 548.2,330.5 548.7,324.3 549.4,323.4 549.8,319.9 550.4,316 550.8,315.8 551.2,316 551.7,316.8 552.1,316.7 552.8,320.9 553.2,327 553.8,327.4 554,336.4 554.6,329.6 555,328.1 555.2,320.9 556.5,318.3 556.8,319.3 557.6,318.3 557.7,319.4 558.2,318.4 558.6,319.5 559,319.1 559.5,319.6 559.9,319.3 560.4,318.5 560.9,318.6 561.3,319.5 561.6,319.1 562.2,320.4 562.6,319.6 562.7,318.6 563.2,318.2 563.6,318.4 564,319.1 564.9,320.6 565.3,325.3 565.8,328.8 566,331.5 566.6,324.8 567,325.8 567.4,322 568.3,318.2 568.5,318 569,318.8 569.5,318.6 569.9,318 570.5,317.6 571,318 571.5,318.6 572,318.5 572.5,318.3 573.1,318.3 573.4,318.1 574,317.8 574.3,317.3 574.5,316.9 574.9,316.4 575.6,316.5 576,317.4 576.7,318.3 576.8,319.9 577.3,319.6 578,322.5 578.4,326.3 578.5,324.3 578.9,332.4 579.4,338.5 579.7,331.3 579.9,324.8 580.4,322.8 581.4,319.7 581.7,318.9 582.1,318 582.6,319.1 583.2,318.7 583.5,318.9 584.1,319.8 584.2,318.5 585,322 585.5,326.4 586.1,328 586.6,333.9 586.9,328.9 587.3,326.8 587.8,321.8 588.6,319.3 589,320.2 589.4,319.7 589.9,320.7 590.5,319.1 590.9,320.9 591.2,320.2 591.9,320.7 592.1,319.7 592.9,320.2 593.1,320.9 593.7,320.6 594.2,320.2 594.5,320.4 595.1,321.2 595.6,321 595.9,321.3 596.4,319.1 597.1,326.6 597.5,330.7 598,329.8 598.2,337.7 598.6,331.2 599.1,330.7 599.7,325.8 600.8,324.3 601.2,326.2 601.6,324.8 602.1,324.6 602.3,324.1 602.8,323.4 603.6,327.5 603.9,330.3 604.5,333.9 605.1,341.8 605.2,333.7 605.9,331.6 606.1,327.2 606.9,322.7 607.4,322 607.7,322.2 608,321.7 608.5,320.4 608.8,322.3 609.3,321.3 609.8,323 610.2,320.3 610.5,319.9 610.9,320.5 611.4,323.6 611.8,322.8 612.2,324 612.8,326.3 613.4,330.4 613.6,333.5 614,341.4 614.6,337.2 614.8,330.6 615.5,326.4 616,325.2 616.5,323 616.7,323.6 617.1,323.6 617.2,323.5 617.7,323.5 618,323.3 618.2,321.9 618.8,321.9 619.3,322.6 619.6,323.8 619.9,322.1 620.5,322 620.8,320.6 620.9,322 621.3,320 621.7,323.5 622,321.7 622.1,321.3 622.4,321.6 622.8,321 623.3,321.6 623.4,320.8 623.7,321.2 623.8,321.7 623.7,322 623.9,322.7 624,322.9 624.1,323.2 624.3,324.4 624.3,326.1 624.4,326.5 624.6,325.1 624.9,325 624.7,327.1 624.8,327.3 625.2,327.2 625.2,328.1 625.4,328.3 625.4,329 625.5,330.3 625.3,331.6 625.9,331 626.1,331.6 625.9,333.3 626.3,332.7 626.4,333.5 626.3,333.6 626.8,333.1 627.5,333.3 627.4,335.7 627.8,336.2 628.1,337.1 628.9,337.5 629.5,337.9 629.4,338.6 630.3,338.8 630.3,339.4 630.4,339.7 630.9,340.1 630.6,340.4 631.7,341 632.2,341.4 631.5,341.8 632.2,342.1 632.2,342.3 631.9,343.2 632.3,343.2 631.4,343.5 632,344.5 632.7,344.7 632.3,345 632.1,345.9 632.5,345.9 632.5,346.8 632.6,346.7 633.1,347.3 632.9,347.6 632.9,348.5 632,348.7 632.8,348.9 632.8,349.3 632.1,349.9 633.5,350.6 634,350.4 632.9,351.1 633.1,351.6 633,352.4 632.9,352.7 633.2,353.2 633.9,354 634.2,354 632.8,354.4 633.3,355 633.4,355.4 634.3,356 633.6,356.3 633.8,356.8 633.8,357.5 633.7,357.8 634.9,358.2 633.4,358.4 634.2,359.1 634.2,359.4 633.4,359.7 634.5,360.5 634,360.7 634.4,361.3 635,362 634.2,362.2 634.6,362.7 634.7,363.1 635.2,363.5 635.2,364 634.9,364.5 634.6,364.8 635.3,365.4 634.7,366.1 635.2,366.6 635.3,366.7 635,367.6 634.7,367.7 635,368.3 635.3,368.6 634.9,368.8 635.1,369.2 635.3,369.8 635.9,370.5 635.5,370.9 635.3,371 634.9,371.7 635.4,371.8 635.2,372.2 635.9,372.9 635.2,373 635.4,373.9 636,374.2 636,374.9 635.5,375.2 635.6,375.2 635.8,375.7 636,376.5 636,376.7 635.9,377.4 636.1,377.6 636.2,378.3 635.7,378.9 635.6,378.8 635.8,379.4 635.9,380.1 636.1,380.4 636,380.5 636,381.1 636.2,381.7 636.3,382.3 636.1,382.6 636.1,382.8 636,383.1 636.1,384.1 635.9,384.3 636.1,384.7 636,385.4 636,386 635.8,386 636,386.7 635.9,386.7 635.9,387.6 635.6,387.7 635.8,388 635.9,388.7 639,365 640.2,340 640.4,319.2 640.5,335" fill="none" stroke="#D95319" stroke-width="0.85" stroke-linejoin="round" marker-start="url(#m1)" marker-mid="url(#m1)" marker-end="url(#m1)"/>
<polyline points="400.5,432 401.5,460 402.5,458 403.3,469.8 403.3,469.1 403.3,467.9 403,466.1 403.1,465.2 403.2,463.2 403.3,462 403.5,460.4 403.5,459.6 403.5,458 403.8,456.6 403.7,455.4 403.7,453.6 403.6,452.5 403.7,451.4 403.6,450 403.8,449.4 404.1,447.9 403.8,447.2 404,445.9 404,444.1 404.5,442.6 404.1,442.1 404.7,441.1 404.6,439.5 405.6,438.4 405.1,437.5 406,435.6 406.2,434.1 406.4,433.1 406.5,432 407,430.3 407.7,429.6 408.1,428.1 408.6,427.1 409,425.7 409.1,424.3 409.7,422.5 409.9,421 410.4,419.3 410.8,418.1 411.6,417 412.2,415.8 412.7,414.5 412.7,413.1 412.5,411.5 414.1,410.3 413.8,409.5 415.5,408.4 414.6,408.1 415.7,407 415.3,406 416.3,405.3 415.6,405 416,404.3 416,403.6 417.5,402.7 417.5,401.7 417.7,401.3 417.4,400.6 418.8,400 418.5,398.7 419.1,397.9 418.7,397.6 418.5,396.4 419.2,395.4 419.6,394.6 419.6,394.3 420.2,393.3 419.1,392.5 420,391.4 420.8,390.5 420.4,389.8 421.2,389.4 421.2,388.8 421.8,388 421.8,386.8 422.7,386.2 421.7,385.4 422.4,384.4 422.3,383.7 423.7,382.9 423.7,381.8 422.8,381.1 423.8,380.8 423.8,380 424.6,379.1 424.4,378.3 423.9,377.2 424.4,376.4 425.3,375.8 425,374.9 425.1,374.1 426.2,373.6 425.3,372.7 426,371.6 426.7,371 426.6,370.1 426.3,369.7 427,368.4 426.7,367.7 427.6,366.7 427.2,366.2 427.7,365.4 427.7,364.7 427.6,364.2 428.2,363.1 428.7,362.3 428.2,362.2 428.8,360.7 429.2,360.1 429.5,359.4 430,359 430.8,357.8 430.8,356.8 431,356.6 430.3,355.8 429.9,355.2 431.1,355.1 431.1,354.5 431.2,353.8 431.7,353.7 431.7,353.1 431.8,353 431.7,352.5 431.4,351.8 432.2,351.3 432.6,351 433,350.5 432.7,350 432.6,350 433.4,349.5 432.8,349.1 433,348.2 433.1,347.9 433.2,347.8 433.2,347.1 434.5,346.6 433.4,346.2 433.9,345.6 433.9,345.6 434.5,345.1 434.5,344.8 435.2,344.3 435,343.5 435.3,343.3 434.5,342.9 435.9,342.2 435.3,341.4 435.5,341.5 436,341 436.2,340.4 436.6,339.9 436.5,339.5 435.9,339 436.6,338.6 436.7,338.3 436.1,337.8 436.4,337.2 437,336.9 437.2,336.2 436.6,335.7 437.1,335.5 437.1,335.4 437.8,334.6 437.7,334.2 437.9,334 438.2,333.8 438.2,332.9 438.1,332.8 438.7,332.2 439.1,331.8 438.4,331.3 438.8,331.3 439.2,330.4 439.5,329.9 438.7,329.7 439,329 439.9,328.9 440.2,327.9 440.4,327.8 440.1,327.4 440.2,326.9 440.5,326.5 441.4,326.5 439.8,326 440.8,325.3 441.2,325.2 441.2,324.5 441.9,324.1 442,324 442.6,323.1 441.9,322.6 442.6,322.4 442.2,322.2 442.7,321.8 442.8,321.4 443,321.2 443.5,320.9 443.6,320.4 444.1,320.1 444.2,319.4 444.7,319.6 445,319.4 445.4,319.3 445.4,318.7 445.3,318.1 445.9,318.4 446.2,317.8 446.7,317.6 447.4,317.7 448,318.4 448.4,318 448.6,316.8 448.9,317.6 449.6,318.7 450.1,317.7 450.5,318.5 451,317.6 451.2,318.2 451.7,318.6 452,317.5 452.4,318.9 452.9,318.1 453.3,319.3 453.7,318.6 454.2,319.6 454.6,319.2 455.1,319.4 455.6,320 455.9,320.9 456.2,320.6 456.4,320.4 456.7,319.7 457.1,321.1 457.6,321 457.9,321.2 458.3,321.9 458.7,322.3 458.9,321.8 459.2,322.4 459.3,322.3 459.8,322 459.9,322.4 460.5,322.5 460.7,323.4 461,323.3 461.3,323.7 461.8,324 462.4,324.1 462.6,324.8 463,325.4 463.2,324.6 463.5,324.5 463.7,324.9 464.2,325.5 464.7,326.3 465.2,326 465.6,326 465.9,325.8 466.3,326.3 466.7,326.9 467.1,327.8 467.6,326.8 468.1,326.7 468.5,327.5 468.9,327.6 469.2,327.1 470,327.5 470.5,326.9 470.8,326.6 471.3,326.9 471.7,327.3 472.2,326.9 472.7,326.6 473,326.5 473.3,326.4 473.5,327.3 474.3,326.7 474.5,327 474.8,327 475.4,326.8 475.7,326.4 476.2,326.4 476.7,326.6 477,326.5 477.2,326.9 478,326.6 478.3,326.7 478.9,326.7 479,326.5 479.6,326 479.9,326.3 480.3,326.7 480.6,326.2 481.2,326.2 481.8,326.3 482.3,325.9 482.6,325.8 483.3,326.1 483.8,326.1 484.5,325.8 484.9,325.3 485.4,326.4 485.6,326.1 485.8,325.7 486.6,326.1 487,325.9 487.3,325.7 487.8,325 488,325.5 488.4,325.3 489.1,325.3 489.4,325.6 489.9,325.7 490.3,325.4 490.6,325.5 491.1,326.3 491.6,325.6 491.9,325.6 492.5,324.5 492.9,325.4 493.5,324.9 493.7,325.1 494.4,324.3 494.9,324.1 495.1,324.4 495.7,324 496.2,324.6 496.7,324.3 497.2,325.5 497.7,324.1 498,324.3 498.6,325 499,325.3 499.5,323.7 499.8,324.5 500.1,325.2 500.6,323.7 501,325 501.6,323.5 501.9,323.6 502.4,324 503.1,324.8 503.4,324.5 503.7,324.9 504.1,324.1 504.8,324.6 505.2,324.4 505.9,324.5 506,323.3 506.8,324.1 507.1,323.9 507.7,323.9 508.1,323.9 508.3,324.7 509,323 509.5,324.1 510,323.9 510.5,324.4 510.6,324.7 511.2,323.6 511.9,324 512.3,323.9 512.5,323.7 513,324 513.4,323.7 514.1,323.5 514.6,324.1 514.8,322.4 515.4,324 515.8,324 516.3,323.6 516.7,324.5 517.1,322.7 517.5,323.2 518,323.2 518.5,324.1 518.9,323.3 519.6,323.1 519.9,323.2 520.2,322.5 520.6,323.8 521.4,322.9 521.6,323.9 522.2,321.9 522.9,322.4 523.4,322.7 523.6,323 524.3,323.9 524.7,323.1 525.2,322.2 525.6,322.4 526.1,322.4 526.6,321.4 526.9,322 527.5,321.6 527.9,321.4 528.4,321.2 528.8,320.8 529.4,321.3 529.8,321.4 530.1,322 530.6,322.2 531,322.3 531.6,321.9 531.9,320.8 532.5,322.6 532.9,320.3 533.9,330.7 534.2,333.9 534.6,338.9 534.9,357.8 535.4,342.4 536,335.1 536.4,331.5 536.9,323.1 537.5,324.1 537.8,323.2 538.3,324 538.6,324.7 539,323.8 539.7,322.9 540.2,322 540.7,322.6 541.2,322.9 541.6,323.4 542,322 542.5,322.2 543,322.4 543.4,321.9 543.8,321.9 544.3,325.1 544.9,326.7 545.4,331.7 545.6,336 546,330.5 546.4,326.9 547.3,324.5 547.5,326.2 548,330.8 548.5,333.6 549,327.5 549.2,326.7 549.5,324.6 550.4,322.5 550.7,318.8 551.4,320.3 551.6,319.6 552,320.6 552.2,320.5 552.9,326.1 553.1,330.6 553.6,331.1 554,340.4 554.5,336.6 554.9,332 555.4,327.1 556.5,323.6 556.8,322.2 557.5,324 557.7,324.9 558.2,321.6 558.7,321.3 558.9,322.8 559.3,323.8 559.9,322.2 560.3,324 560.9,322.6 561.2,324.5 561.5,322.7 562.2,323.2 562.7,322.2 562.8,321.3 563.4,323.7 563.8,321.4 564.1,322.1 565,325.4 565.3,326.4 565.9,331.5 566.2,334.3 566.8,331.2 567,327.4 567.3,324.4 568.3,322.9 568.7,323 568.8,321.2 569.4,321.9 569.8,324.5 570.3,322.7 571,320.1 571.6,323.4 571.8,322.1 572.4,322 572.9,321 573.5,322.5 574,322.7 574.2,321.3 574.6,322.3 575,321.9 575.4,322.3 576,320 576.5,322.7 576.9,320.6 577.2,321.2 578,326.4 578.5,330.2 578.5,329.2 578.7,333.3 579.3,342.8 579.6,332.4 580.1,329.7 580.5,326.8 581.3,323.1 581.8,322.1 582.1,324.1 582.7,325.1 583,325 583.6,322.4 583.9,322.9 584.5,323 585.3,327.1 585.8,330.4 586.1,331 586.6,337.1 586.7,331.4 587.2,330.6 587.6,326.9 588.4,324 589,324.5 589.5,325.1 590.1,327.1 590.5,326.3 590.8,327.2 591.1,324.7 591.7,326.3 592.3,324.4 592.8,325.4 593.3,327.3 593.7,324.3 594.1,324.7 594.6,326.4 595.1,324.5 595.4,325.4 596.1,326.5 596.4,325.6 597.3,330.5 597.4,332.7 598.1,335.8 598.3,341.1 598.7,333.4 599.2,332.5 599.8,330.2 600.2,329.4 600.8,331 601.2,328.4 601.8,330.8 602,330.4 602.3,330.2 602.9,330.7 603.6,332.3 604.2,335.3 604.4,341.5 604.9,345.6 605.3,337.4 605.7,338.1 606,332.8 607,328.1 607.3,328.9 607.6,325.8 608.1,329.5 608.5,327.5 608.9,326.1 609.2,327.2 609.6,330 610.4,329.9 610.6,329.7 610.9,326.8 611.5,329.4 611.5,327.3 612,326.8 612.8,332.2 613.4,336.7 613.5,340.1 613.9,345.7 614.4,337.3 615.1,338.4 615.2,332.3 616.3,330.2 616.7,328.5 616.9,330.8 617.2,328.6 617.6,329.9 618,327.7 618.3,328.3 618.9,327.9 619.2,328.9 619.7,327.6 619.9,329.3 620.4,328.6 620.5,325.7 620.9,330.1 621.2,327.5 621.6,325.8 622,327.9 622.2,329 622.4,328.5 622.8,325.7 623.2,328.1 623.3,326.5 623.4,329 623.5,325.7 623.5,326.6 623.6,327.8 623.6,329.8 623.6,329.1 624,327.8 624,329.6 624,328.7 624.2,329.4 624.3,330.1 624.2,330.7 624.3,331 624.5,332.3 624.7,330.5 624.7,332.8 624.2,335.9 624.6,333.6 624.4,335.7 625.3,333.3 625.1,334.8 625,336.2 625.2,336.3 625.5,336.4 625.2,337.1 624.9,338.3 626.1,337.6 625.9,338.6 626.6,338.5 627.4,338.4 627.6,338.7 628.5,338.7 628.8,339.3 628.1,339.7 629.5,339.5 629.9,340 629.8,339.9 630.1,340.3 629.5,340.5 631.2,340.9 630.7,341.8 630.4,341.9 629.7,342.7 630.7,343 630.2,343.1 630.4,344 631.3,344.4 630.8,344.6 630.7,345 630.3,345.6 630.6,345.9 630.8,346.7 631.4,347 631.9,347.5 630.9,347.9 631.4,348.1 631.9,348.7 631.3,349.2 631,349.7 631.6,349.9 631.3,350.4 632.1,350.4 631.8,351.1 631.8,351.5 632.2,352 631.4,353.1 632.4,353.4 632.2,353.8 632.5,354.2 632.8,354.6 632,354.9 631.7,355.2 631.9,355.6 632.7,356.3 632.8,356.5 632,357.5 632.6,357.9 632.2,358.1 633.2,358.7 632.5,358.8 633.2,359.4 632.4,360.2 633.1,360.6 633.3,361 633.3,361.4 634.1,361.6 633.3,362 633.1,362.4 633.5,362.7 633.2,363.4 633.7,363.9 633.6,364.6 633.7,365 633.5,365.4 633.8,365.9 634,366.1 634.2,366.7 634.1,367.6 634.4,368.1 634,368.5 633.5,368.9 634.5,368.9 634.2,369.6 634.5,369.8 634.7,370.5 634.6,370.8 633.8,370.9 634.5,371.3 634.4,371.8 634.8,372.2 634.6,372.7 635.1,373 634.8,373.3 634.7,374.2 635,374.7 634.9,374.8 635,375.4 635.4,375.8 635.3,376.2 635.2,376.4 635,377.1 635.2,378.1 635.5,378.2 635.6,378.8 635.6,379.2 635.5,379.1 635.6,380.2 635.7,380.3 636,380.7 635.9,381 636.2,381.5 635.6,382.2 636.1,382.5 636.2,382.8 635.8,383.6 636,383.6 635.7,384.1 635.8,384.7 635.8,384.9 635.8,385.7 635.9,386.2 635.8,386.3 635.8,387.1 635.9,387.4 635.8,387.8 635.5,388.1 635.7,389 639.2,368 640.4,348.6 640.4,401.6" fill="none" stroke="#EDB120" stroke-width="0.85" stroke-linejoin="round" marker-start="url(#m2)" marker-mid="url(#m2)" marker-end="url(#m2)"/>
<polyline points="400.5,436 400.8,485 402.5,462 403.2,469.9 403.6,469.2 403.4,468 403.6,466.3 403.3,465.1 403.7,463.7 403.7,461.6 403.6,460.8 403.6,459.3 403.8,457.5 403.7,456.8 403.7,455.4 403.8,453.6 403.6,452.4 403.7,451.2 404.3,450.5 404.2,449.3 404.1,447.9 404.7,446.8 404.5,445.8 404.7,444.2 404.8,442.5 404.9,442.1 405.1,440.7 405,439.8 405.6,438.1 406.9,437.3 407,435.8 407,434.3 408,433.1 408.4,431.9 408.3,430.3 408.9,429.6 409,427.8 409.9,426.8 409.9,425.6 411.2,423.9 411.6,422.4 411,421.2 412.4,419.4 414.7,418 412.6,417 414.1,415.8 414.5,414.8 415.4,412.8 415.8,411.7 416.5,410.2 416.2,409.2 417.2,408.8 417.2,407.7 417.7,407.4 418.4,406.4 418.5,405.5 418.3,404.9 418.2,404.5 418.6,403.7 419,402.4 419.6,402.3 419.4,401.5 420.1,400.7 418.6,400 419.4,398.9 420.6,397.8 419.5,397.3 420.4,396.9 420.3,395.6 421.3,394.8 422,394.2 421.2,393.3 422.5,392.3 424,391.9 422,390.6 422.5,390.1 422.8,389.3 422.7,388.7 423,387.6 424.2,386.9 424.4,386 424.7,385.2 424.2,384.7 423,384 424.4,382.9 425.5,382 425.5,381.4 424.9,380.9 425.4,380.3 425.1,378.8 426.8,378 426.6,377.3 426.2,376.5 427.9,375.9 427.7,374.5 426.7,374.4 427.5,373.5 428.2,372.6 427.5,371.7 428.8,370.8 428.7,370.4 429.7,369.4 429.4,368.5 428.4,367.7 429.5,367 429.3,366.5 430.1,365.3 429.4,365 429.1,364.2 430.7,363.1 430.6,362.4 430.6,361.7 431.4,360.6 430.2,360.2 431.9,359.1 431.1,358.9 431.4,357.7 432.1,356.8 432.4,356.6 432.1,355.9 432.4,355.1 433.9,355 433.2,354.4 432.8,354.1 433,353.7 433.2,353.2 433.6,352.7 434,352.1 432.8,351.7 434.5,351.7 434.3,351.2 434.5,350.7 435.4,350.3 434.4,349.7 434.9,349.7 434.9,349.2 435.6,348.2 435.7,348 435,347.7 435.3,347.4 436.1,346.6 436.5,346.4 436.2,345.7 436,345.6 435.3,344.9 438,344.5 437.1,343.9 437.7,343.4 437.3,343.4 437.3,343 437.8,342.1 436.6,341.9 437.6,341.2 437.7,341 438.5,340 438.6,339.7 438.2,339.2 438.6,338.9 438.6,338.8 438.8,337.9 437.7,337.6 439.4,336.9 439.6,336.8 438.6,336.6 439.8,335.9 440.3,335.8 439.6,335 439.6,334.6 439.5,334.4 440.9,333.8 439.4,333.4 440.1,333.1 441.8,332.8 439.7,332 441.3,331.8 441.4,331.4 439.7,331.3 440.4,330.8 441.4,330 440.3,329.4 442.3,329.3 441.9,328.9 442.7,328.5 441.7,327.9 442.9,327.3 442.3,326.9 442.6,327 443.1,326.4 443.5,326.1 443.4,325.7 444,325.2 443,324.6 443.3,324.3 443.5,323.6 444.2,323 443.4,323 444.1,322.5 443.8,321.8 444.4,321.7 444.2,321.3 445.2,320.8 444.9,320.5 444.9,320.1 445.6,320 445.7,319.9 445.5,319.8 445.7,319.5 445.8,319.8 446.8,320.3 446.9,320.7 446.6,319.9 447.4,320.8 447.4,320 448.1,321.2 448.6,321.7 448.9,321.1 449,321.4 449.3,320.8 449.7,322.3 450,322.3 450.6,321.6 451,322.2 451.3,323.1 451.7,322.8 451.9,322.7 452.5,323.7 452.8,322.5 453.5,323.7 454,323.6 454.4,322.8 454.8,323.7 455.2,323 455.6,324 456,324.9 456.2,324.7 456.6,323.9 456.9,325.8 457.3,326.8 457.6,324.4 457.8,325.9 458.4,326.3 458.4,325.7 458.8,325.8 459.1,327.2 459.4,327.6 459.7,327.5 460.2,326.8 460.4,326.8 460.6,327.1 461.1,328 461.4,327.5 461.7,328.4 462.3,328.5 462.7,328.6 462.9,329 463,329.9 463.7,329.1 463.8,329.2 464.3,328.7 464.6,329 465.2,329.5 465.4,330.1 466.1,330.1 466.4,330.7 466.7,331.5 467.1,330.9 467.5,330.9 467.9,331.1 468.5,330.9 468.8,330 469.4,330.3 470,331.1 470.3,330.4 470.8,330.7 471.4,330 471.6,331.3 472.3,330.4 472.6,331.3 473.1,330.4 473.2,331.2 473.8,330.9 474.2,330.5 474.5,331.1 475,330.8 475.3,330.9 475.6,329.8 476.2,330 476.6,330.9 477.1,330.6 477.5,329.9 478,329.9 478.2,329.9 478.8,330.1 479.2,330.6 479.4,330.5 479.9,328.9 480.4,330.9 480.7,330.7 481.2,330.4 481.8,329.3 482.2,330.7 482.7,330.2 483.4,330 483.7,330.6 484.3,329.9 484.7,330.7 485.3,331.1 485.5,330.4 486,330.3 486.5,330.1 486.8,330.3 487.3,329.9 487.7,330 488,330 488.6,329.2 489,330.4 489.5,329.9 489.9,330.6 490.3,329.3 490.7,330.5 491.2,328.8 491.7,329.7 492.1,329.5 492.5,329.6 493,328.8 493.5,329.4 493.9,329.1 494.4,329 494.9,330.9 495.2,328.8 495.8,329.5 496.1,328.7 496.8,329.1 497,329.1 497.7,329.1 498.1,329.6 498.6,330.5 499.1,328.2 499.4,329.7 500,329.4 500.2,329.3 500.6,329.5 501,328.8 501.5,329.3 502,328.2 502.4,331 502.8,330.2 503.4,328.3 503.9,329.4 504.1,329.7 504.7,328.8 505.2,328.8 505.7,330 506.2,329.9 506.7,327.3 507.1,329.2 507.7,328.6 508.1,329.4 508.3,328.8 509,330 509.3,329 509.9,329.8 510.5,328.8 510.7,329.8 511.2,329.2 511.7,329.8 512,330.2 512.7,329.9 512.9,329 513.4,328.7 514,328.2 514.6,328.2 514.8,329.2 515.4,328.2 515.9,329.3 516.4,329.2 516.7,328.9 517.2,330 517.5,329.9 518.2,329 518.4,327.6 519,327.8 519.7,328.3 520,327.3 520.5,328.4 520.7,328.1 521.4,329.1 521.7,327.8 522.2,327.2 522.7,329.1 523.3,327.9 523.6,328.6 524.3,328.5 524.6,327 525.1,328.4 525.8,328.9 526.2,328.2 526.6,328.2 527.1,327.3 527.5,328.9 528,328.1 528.3,329.1 528.8,326.4 529.5,328.1 529.8,327.1 530.2,327.9 530.7,328.9 531.2,326.8 531.4,326.5 531.9,327.8 532.5,329.6 533,326.4 533.8,337.2 534.3,346.1 534.5,350.2 534.9,364 535.5,347 535.7,347.4 536.1,335.9 537.1,330.3 537.4,329.6 537.8,329.9 538.3,327.3 538.5,330.1 539.2,330.7 539.5,329.5 540,329 540.6,328.4 541.1,328 541.4,328.9 542.1,327.7 542.4,329.6 542.9,328.6 543.3,327.1 543.8,326.1 544.5,330.2 544.7,333.5 545.4,336 545.6,338.5 545.8,334.6 546.6,332.5 547.2,330.1 547.6,332.3 547.9,333.6 548.5,335.7 548.9,334.2 549,331.6 549.7,330.2 550.5,329.6 550.7,328.7 551.3,327.4 551.8,331.2 552.1,329.6 552.3,329.5 552.9,330.6 553.2,333.8 553.6,336.1 554.1,343.5 554.7,336.9 555.1,334.3 555.3,331.2 556.4,327.1 557,329.4 557.4,328.4 557.7,327.5 558.1,328.8 558.6,328.4 559,329.2 559.5,326.7 559.9,329.1 560.3,328.9 560.8,328.7 561.1,331.1 561.6,328.6 562.2,332.5 562.6,330.3 562.9,330.2 563.3,326 563.7,331.6 564.2,328.9 564.4,330.9 564.9,330 565.5,332.4 565.9,334.6 566.1,336.4 566.5,333.6 567.2,331.5 567.5,330.4 568.1,329.6 568.5,329.7 568.8,327.4 569.5,328.9 569.9,330.3 570.5,331.6 571,329.3 571.5,325.1 571.8,329 572.5,328.7 572.8,326.9 573.4,328.5 574,327.6 574.2,325.9 574.5,329.4 574.9,326.6 575.6,328.6 576.2,329 576.6,329.2 577,327.2 577.3,331.5 577.9,332.4 578.3,335.5 578.5,335.5 579,341.2 579,346.4 579.6,341.8 580.2,335.4 580.6,333.8 581.2,330.1 581.8,328.9 582.2,329.9 582.5,334.4 583.2,330.3 583.5,335.1 583.8,331.8 584.4,331 585,333 585.6,335.9 585.9,335.3 586.3,339.3 586.9,337.6 587.3,335.2 587.6,333.6 588.4,332.9 588.9,332.2 589.3,336 589.9,334.6 590.7,330 590.9,332.1 591.3,338.2 591.9,334.2 592.1,331.5 592.7,334.3 593.3,331.6 593.7,333.2 594,331.4 594.5,333.1 595.1,332.7 595.5,335.6 596.2,331.9 596.4,335.3 597.3,337.1 597.5,339 598,339.9 598.5,343.5 598.7,340.8 599.2,338.9 599.4,336.8 600.7,337.5 601.1,337.4 601.5,338.7 602.2,337.4 602.4,334.7 603,339.3 603.6,339.1 603.9,343.5 604.3,342.9 605.1,348.5 605.3,343.5 605.7,341.4 606.1,340.3 607,336.9 607.3,335.4 607.5,336.9 608,337.7 608.4,339.6 608.9,335.2 609.1,336.7 609.9,336.8 610.2,337.7 610.7,336.4 611,337 611.3,335.5 611.6,334.9 612.1,339.1 612.9,339.8 613.2,343.3 613.6,344.5 614.2,348.5 614.4,345.4 615,341.2 615.3,339.9 615.9,341.1 616.3,340.4 616.6,338.7 617.1,341.7 617.2,337.5 617.6,339.9 618.1,338.8 618.4,338.6 618.7,336.2 619.2,339.8 619.6,335.5 619.9,333.8 620.4,339.1 620.8,335.2 620.9,337 621.3,335.9 621.6,339.1 621.8,331.1 622.1,335.9 622.4,335.4 622.9,336.4 623.2,332.9 623.3,335.3 623.4,337.4 623.5,332.7 623.5,333.7 623.5,334.1 623.4,335.4 623.2,336.8 623.3,335.9 623.2,337.9 623.5,334.2 623.5,335.7 623.6,334.5 623.3,337.7 623.3,338.6 623.5,337.5 623.2,339.2 623.3,340 623.7,337.7 623.2,340.2 624.2,336.9 622.7,343.3 623.8,339.7 622.6,343.8 623.4,341.6 623.7,341.3 624,340.4 622.2,346 623.9,342.1 622.9,345 625.1,341.1 625.5,341 626.3,340.2 625.8,341.2 626.2,340.9 626.4,340.6 626.8,340.3 628.6,340.1 627,340.1 628.6,340.3 628,341.1 626.5,341 627.3,341.6 629.2,342.2 628.2,342.4 629.4,342.8 628.8,343.2 628.6,344 629.4,344.2 627.7,344.8 628.7,344.9 629,345.8 629.8,346.4 627.1,346.6 629.3,346.9 628.8,347.3 629.2,347.4 629.5,348.2 629,348.9 628.8,349 630,349.4 628.7,350.1 628.9,350.3 629.9,350.6 628.6,351.2 629.5,351.7 628.9,352.4 630,353 629,353.3 629.8,354 630.3,354.2 629.3,354.6 628.8,355.2 629.4,355.4 630.1,356.1 630.3,356.2 630.8,356.7 630.5,357.1 631.4,357.6 630,358.3 631.5,358.7 631.2,358.8 631.4,359.7 631.4,360 630.8,360.1 631,360.7 631.1,361.1 631.3,361.7 631.6,362.4 631.5,362.5 631,362.9 631.4,363.7 630.8,364.1 631.8,364.5 631.3,364.7 631.1,365.2 631.4,365.6 631.6,366.5 632.5,367.2 632.6,367.3 632.6,367.8 633.6,368.1 633.4,368.5 633.5,369 633,369.1 633.3,369.7 633.7,370.5 633.4,370.8 632.9,371.1 633.6,371.2 633.2,372.1 633.1,372.1 633.5,372.5 633.5,373.2 633.8,373.7 633.8,373.9 634.1,374.9 633.8,375.3 634.2,375.1 633.9,376 634.2,376.2 634.9,376.5 634.3,377.3 634.4,377.9 634.7,378 634.5,378.8 634.9,379.1 634.5,379.6 635.3,380 635,380.4 635.4,380.7 635.1,380.8 635.4,381.9 635.7,382.2 635.5,382.5 635.7,383.2 636,383.6 635.7,384 635.8,384 635.6,385 635.6,385.4 635.5,385.5 635.5,386.4 635.4,386.5 635.5,386.9 635.6,387.6 635.6,387.6 635.4,388.3 635.6,388.9 638.8,375 640,360 640.3,471.4" fill="none" stroke="#7E2F8E" stroke-width="0.85" stroke-linejoin="round" marker-start="url(#m3)" marker-mid="url(#m3)" marker-end="url(#m3)"/>
</g>
<text x="382.8" y="500.3" text-anchor="end" font-family="'Liberation Sans', Arial, Helvetica, sans-serif" font-size="7.5" fill="#262626">10<tspan dx="0.5" dy="-3.3" font-size="6.6">-14</tspan></text>
<text x="382.8" y="464.45" text-anchor="end" font-family="'Liberation Sans', Arial, Helvetica, sans-serif" font-size="7.5" fill="#262626">10<tspan dx="0.5" dy="-3.3" font-size="6.6">-13</tspan></text>
<text x="382.8" y="428.6" text-anchor="end" font-family="'Liberation Sans', Arial, Helvetica, sans-serif" font-size="7.5" fill="#262626">10<tspan dx="0.5" dy="-3.3" font-size="6.6">-12</tspan></text>
<text x="382.8" y="392.75" text-anchor="end" font-family="'Liberation Sans', Arial, Helvetica, sans-serif" font-size="7.5" fill="#262626">10<tspan dx="0.5" dy="-3.3" font-size="6.6">-11</tspan></text>
<text x="382.8" y="356.9" text-anchor="end" font-family="'Liberation Sans', Arial, Helvetica, sans-serif" font-size="7.5" fill="#262626">10<tspan dx="0.5" dy="-3.3" font-size="6.6">-10</tspan></text>
<text x="382.8" y="321.05" text-anchor="end" font-family="'Liberation Sans', Arial, Helvetica, sans-serif" font-size="7.5" fill="#262626">10<tspan dx="0.5" dy="-3.3" font-size="6.6">-9</tspan></text>
<text x="382.8" y="285.2" text-anchor="end" font-family="'Liberation Sans', Arial, Helvetica, sans-serif" font-size="7.5" fill="#262626">10<tspan dx="0.5" dy="-3.3" font-size="6.6">-8</tspan></text>
<text x="386.4" y="510.7" text-anchor="middle" font-family="'Liberation Sans', Arial, Helvetica, sans-serif" font-size="7.5" fill="#262626">10<tspan dx="0.5" dy="-3.3" font-size="6.6">-10</tspan></text>
<text x="432.08" y="510.7" text-anchor="middle" font-family="'Liberation Sans', Arial, Helvetica, sans-serif" font-size="7.5" fill="#262626">10<tspan dx="0.5" dy="-3.3" font-size="6.6">-8</tspan></text>
<text x="477.77" y="510.7" text-anchor="middle" font-family="'Liberation Sans', Arial, Helvetica, sans-serif" font-size="7.5" fill="#262626">10<tspan dx="0.5" dy="-3.3" font-size="6.6">-6</tspan></text>
<text x="523.45" y="510.7" text-anchor="middle" font-family="'Liberation Sans', Arial, Helvetica, sans-serif" font-size="7.5" fill="#262626">10<tspan dx="0.5" dy="-3.3" font-size="6.6">-4</tspan></text>
<text x="569.13" y="510.7" text-anchor="middle" font-family="'Liberation Sans', Arial, Helvetica, sans-serif" font-size="7.5" fill="#262626">10<tspan dx="0.5" dy="-3.3" font-size="6.6">-2</tspan></text>
<text x="614.82" y="510.7" text-anchor="middle" font-family="'Liberation Sans', Arial, Helvetica, sans-serif" font-size="7.5" fill="#262626">10<tspan dx="0.5" dy="-3.3" font-size="6.6">0</tspan></text>
<text x="660.5" y="510.7" text-anchor="middle" font-family="'Liberation Sans', Arial, Helvetica, sans-serif" font-size="7.5" fill="#262626">10<tspan dx="0.5" dy="-3.3" font-size="6.6">2</tspan></text>
</g>
<text x="171.45" y="248.9" text-anchor="middle" font-family="'Liberation Serif', 'Times New Roman', serif" font-size="10.55" fill="#262626">Energy (MeV)</text>
<text transform="translate(10 117.7) rotate(-90)" text-anchor="middle" font-family="'Liberation Serif', 'Times New Roman', serif" font-size="10.55" fill="#262626">Gamma Flux (log scale)</text>
<text x="516.3" y="249.8" text-anchor="middle" font-family="'Liberation Serif', 'Times New Roman', serif" font-size="10.55" fill="#262626">Energy (MeV)</text>
<text transform="translate(359 118.3) rotate(-90)" text-anchor="middle" font-family="'Liberation Serif', 'Times New Roman', serif" font-size="10.55" fill="#262626">Gamma Flux (log scale)</text>
<text x="172.05" y="524.7" text-anchor="middle" font-family="'Liberation Serif', 'Times New Roman', serif" font-size="10.55" fill="#262626">Energy (MeV)</text>
<text transform="translate(10.2 390.9) rotate(-90)" text-anchor="middle" font-family="'Liberation Serif', 'Times New Roman', serif" font-size="10.55" fill="#262626">Neutron Flux (log scale)</text>
<text x="523.45" y="524.1" text-anchor="middle" font-family="'Liberation Serif', 'Times New Roman', serif" font-size="10.55" fill="#262626">Energy (MeV)</text>
<text transform="translate(359 389.95) rotate(-90)" text-anchor="middle" font-family="'Liberation Serif', 'Times New Roman', serif" font-size="10.55" fill="#262626">Neutron Flux (log scale)</text>
<rect x="46.3" y="174.5" width="71.2" height="42" fill="#fff" stroke="#262626" stroke-width="0.6"/>
<path d="M48.9 180.5H72.9" stroke="#0072BD" stroke-width="0.6"/>
<circle cx="60.9" cy="180.5" r="2.6" fill="none" stroke="#0072BD" stroke-width="0.6"/>
<text x="75.2" y="183.1" font-family="'Liberation Sans', Arial, Helvetica, sans-serif" font-size="7.4" fill="#262626">0°direction</text>
<path d="M48.9 190.9H72.9" stroke="#D95319" stroke-width="0.6"/>
<rect x="58.86" y="188.86" width="4.08" height="4.08" fill="none" stroke="#D95319" stroke-width="0.6"/>
<text x="75.2" y="193.5" font-family="'Liberation Sans', Arial, Helvetica, sans-serif" font-size="7.4" fill="#262626">25°direction</text>
<path d="M48.9 200.9H72.9" stroke="#EDB120" stroke-width="0.6"/>
<path d="M60.9 197.66l2.11 3.24l-2.11 3.24l-2.11 -3.24z" fill="none" stroke="#EDB120" stroke-width="0.6"/>
<text x="75.2" y="203.5" font-family="'Liberation Sans', Arial, Helvetica, sans-serif" font-size="7.4" fill="#262626">50°direction</text>
<path d="M48.9 211.3H72.9" stroke="#7E2F8E" stroke-width="0.6"/>
<path d="M58.98 209.38l3.84 3.84M58.98 213.22l3.84 -3.84" stroke="#7E2F8E" stroke-width="0.6"/>
<text x="75.2" y="213.9" font-family="'Liberation Sans', Arial, Helvetica, sans-serif" font-size="7.4" fill="#262626">75°direction</text>
<rect x="442.3" y="175.5" width="42.8" height="42" fill="#fff" stroke="#262626" stroke-width="0.6"/>
<path d="M444.5 181.5H468.6" stroke="#0072BD" stroke-width="0.6"/>
<circle cx="456.55" cy="181.5" r="2.6" fill="none" stroke="#0072BD" stroke-width="0.6"/>
<text x="470.3" y="184.1" font-family="'Liberation Sans', Arial, Helvetica, sans-serif" font-size="7.4" fill="#262626">0°</text>
<path d="M444.5 191.9H468.6" stroke="#D95319" stroke-width="0.6"/>
<rect x="454.51" y="189.86" width="4.08" height="4.08" fill="none" stroke="#D95319" stroke-width="0.6"/>
<text x="470.3" y="194.5" font-family="'Liberation Sans', Arial, Helvetica, sans-serif" font-size="7.4" fill="#262626">25°</text>
<path d="M444.5 201.9H468.6" stroke="#EDB120" stroke-width="0.6"/>
<path d="M456.55 198.66l2.11 3.24l-2.11 3.24l-2.11 -3.24z" fill="none" stroke="#EDB120" stroke-width="0.6"/>
<text x="470.3" y="204.5" font-family="'Liberation Sans', Arial, Helvetica, sans-serif" font-size="7.4" fill="#262626">50°</text>
<path d="M444.5 211.8H468.6" stroke="#7E2F8E" stroke-width="0.6"/>
<path d="M454.63 209.88l3.84 3.84M454.63 213.72l3.84 -3.84" stroke="#7E2F8E" stroke-width="0.6"/>
<text x="470.3" y="214.4" font-family="'Liberation Sans', Arial, Helvetica, sans-serif" font-size="7.4" fill="#262626">75°</text>
<rect x="150.5" y="449.4" width="42.9" height="42.9" fill="#fff" stroke="#262626" stroke-width="0.6"/>
<path d="M153 455.3H177.5" stroke="#0072BD" stroke-width="0.6"/>
<circle cx="165.25" cy="455.3" r="2.6" fill="none" stroke="#0072BD" stroke-width="0.6"/>
<text x="179.5" y="457.9" font-family="'Liberation Sans', Arial, Helvetica, sans-serif" font-size="7.4" fill="#262626">0°</text>
<path d="M153 466.1H177.5" stroke="#D95319" stroke-width="0.6"/>
<rect x="163.21" y="464.06" width="4.08" height="4.08" fill="none" stroke="#D95319" stroke-width="0.6"/>
<text x="179.5" y="468.7" font-family="'Liberation Sans', Arial, Helvetica, sans-serif" font-size="7.4" fill="#262626">25°</text>
<path d="M153 476.1H177.5" stroke="#EDB120" stroke-width="0.6"/>
<path d="M165.25 472.86l2.11 3.24l-2.11 3.24l-2.11 -3.24z" fill="none" stroke="#EDB120" stroke-width="0.6"/>
<text x="179.5" y="478.7" font-family="'Liberation Sans', Arial, Helvetica, sans-serif" font-size="7.4" fill="#262626">50°</text>
<path d="M153 486.4H177.5" stroke="#7E2F8E" stroke-width="0.6"/>
<path d="M163.33 484.48l3.84 3.84M163.33 488.32l3.84 -3.84" stroke="#7E2F8E" stroke-width="0.6"/>
<text x="179.5" y="489" font-family="'Liberation Sans', Arial, Helvetica, sans-serif" font-size="7.4" fill="#262626">75°</text>
<rect x="486.3" y="394.5" width="73.6" height="43.7" fill="#fff" stroke="#262626" stroke-width="0.6"/>
<path d="M488.9 400.8H513.5" stroke="#0072BD" stroke-width="0.6"/>
<circle cx="501.2" cy="400.8" r="2.6" fill="none" stroke="#0072BD" stroke-width="0.6"/>
<text x="515.7" y="403.4" font-family="'Liberation Sans', Arial, Helvetica, sans-serif" font-size="7.4" fill="#262626">0°direction</text>
<path d="M488.9 411.3H513.5" stroke="#D95319" stroke-width="0.6"/>
<rect x="499.16" y="409.26" width="4.08" height="4.08" fill="none" stroke="#D95319" stroke-width="0.6"/>
<text x="515.7" y="413.9" font-family="'Liberation Sans', Arial, Helvetica, sans-serif" font-size="7.4" fill="#262626">25° direction</text>
<path d="M488.9 421.5H513.5" stroke="#EDB120" stroke-width="0.6"/>
<path d="M501.2 418.26l2.11 3.24l-2.11 3.24l-2.11 -3.24z" fill="none" stroke="#EDB120" stroke-width="0.6"/>
<text x="515.7" y="424.1" font-family="'Liberation Sans', Arial, Helvetica, sans-serif" font-size="7.4" fill="#262626">50° direction</text>
<path d="M488.9 431.6H513.5" stroke="#7E2F8E" stroke-width="0.6"/>
<path d="M499.28 429.68l3.84 3.84M499.28 433.52l3.84 -3.84" stroke="#7E2F8E" stroke-width="0.6"/>
<text x="515.7" y="434.2" font-family="'Liberation Sans', Arial, Helvetica, sans-serif" font-size="7.4" fill="#262626">75° direction</text>
</svg>
</body></html>
